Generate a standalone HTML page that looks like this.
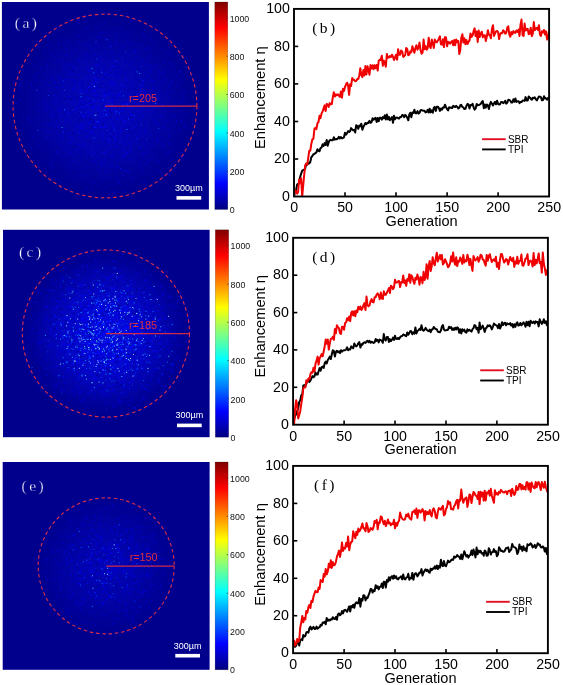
<!DOCTYPE html>
<html><head><meta charset="utf-8"><title>Figure</title>
<style>
html,body{margin:0;padding:0;background:#fff;}
body{width:563px;height:685px;overflow:hidden;}
svg{display:block;}
text{font-family:"Liberation Sans", Arial, sans-serif;}
.tk{font-size:14.2px;fill:#000;}
.ax{font-size:14.2px;fill:#000;}
.cb{font-size:8.8px;fill:#111;}
.lg{font-size:10px;fill:#000;}
.pl{font-family:"Liberation Serif", "Times New Roman", serif;font-size:15.5px;letter-spacing:2.5px;}
.rt{font-size:10.8px;fill:#e22c3c;}
.sb{font-size:9px;fill:#fff;}
</style></head><body>
<svg width="563" height="685" viewBox="0 0 563 685">
<defs>
<linearGradient id="jet" x1="0" y1="0" x2="0" y2="1"><stop offset="0.00%" stop-color="#800000"/><stop offset="3.12%" stop-color="#9f0000"/><stop offset="6.25%" stop-color="#bf0000"/><stop offset="9.38%" stop-color="#df0000"/><stop offset="12.50%" stop-color="#ff0000"/><stop offset="15.62%" stop-color="#ff2000"/><stop offset="18.75%" stop-color="#ff4000"/><stop offset="21.88%" stop-color="#ff6000"/><stop offset="25.00%" stop-color="#ff8000"/><stop offset="28.12%" stop-color="#ff9f00"/><stop offset="31.25%" stop-color="#ffbf00"/><stop offset="34.38%" stop-color="#ffdf00"/><stop offset="37.50%" stop-color="#ffff00"/><stop offset="40.62%" stop-color="#dfff20"/><stop offset="43.75%" stop-color="#bfff40"/><stop offset="46.88%" stop-color="#9fff60"/><stop offset="50.00%" stop-color="#80ff80"/><stop offset="53.12%" stop-color="#60ff9f"/><stop offset="56.25%" stop-color="#40ffbf"/><stop offset="59.38%" stop-color="#20ffdf"/><stop offset="62.50%" stop-color="#00ffff"/><stop offset="65.62%" stop-color="#00dfff"/><stop offset="68.75%" stop-color="#00bfff"/><stop offset="71.88%" stop-color="#009fff"/><stop offset="75.00%" stop-color="#0080ff"/><stop offset="78.12%" stop-color="#0060ff"/><stop offset="81.25%" stop-color="#0040ff"/><stop offset="84.38%" stop-color="#0020ff"/><stop offset="87.50%" stop-color="#0000ff"/><stop offset="90.62%" stop-color="#0000df"/><stop offset="93.75%" stop-color="#0000bf"/><stop offset="96.88%" stop-color="#00009f"/><stop offset="100.00%" stop-color="#000080"/></linearGradient>
<filter id="bl" x="-5%" y="-5%" width="110%" height="110%"><feGaussianBlur stdDeviation="0.45"/></filter>
<radialGradient id="ga" gradientUnits="userSpaceOnUse" cx="105.0" cy="106.0" r="99.3"><stop offset="0" stop-color="#0507bb"/><stop offset="0.45" stop-color="#0304aa"/><stop offset="0.85" stop-color="#000092"/><stop offset="1" stop-color="#00008c"/></radialGradient>
<radialGradient id="gc" gradientUnits="userSpaceOnUse" cx="105.9" cy="333.5" r="90.3"><stop offset="0" stop-color="#090ce1"/><stop offset="0.45" stop-color="#0507c2"/><stop offset="0.85" stop-color="#000092"/><stop offset="1" stop-color="#00008c"/></radialGradient>
<radialGradient id="ge" gradientUnits="userSpaceOnUse" cx="106.2" cy="565.9" r="73.4"><stop offset="0" stop-color="#0405b2"/><stop offset="0.45" stop-color="#0203a4"/><stop offset="0.85" stop-color="#000092"/><stop offset="1" stop-color="#00008c"/></radialGradient>
</defs>
<rect width="563" height="685" fill="#fff"/>
<g id="panel-a">
<rect x="1.9" y="2.0" width="207.0" height="207.5" fill="#00008c"/>
<circle cx="105.0" cy="106.0" r="99.3" fill="url(#ga)"/>
<g filter="url(#bl)" fill="none"><path stroke="#0000cc" stroke-width="1" d="M93.2,129.5h1M145.7,132.1h1M64.1,84.5h1M134.1,132.6h1M48.4,107.3h1M84.3,114.1h1M85.2,136.1h1M74.0,102.8h1M89.3,134.6h1M121.6,156.9h1M153.2,92.5h1M114.0,81.8h1M78.5,157.2h1M109.7,84.7h1M62.4,137.7h1M95.1,96.5h1M108.3,86.2h1M124.1,78.3h1M101.7,119.8h1M122.8,115.0h1M124.1,73.5h1M102.2,91.6h1M86.2,89.4h1M106.1,134.5h1M107.4,141.4h1M114.1,141.3h1M136.5,128.7h1M80.1,127.1h1M97.8,145.4h1M162.9,127.4h1M66.1,114.0h1M97.0,148.0h1M151.4,114.9h1M78.0,137.5h1M120.9,100.4h1M110.4,162.9h1M146.4,139.7h1M144.2,123.1h1M76.6,162.7h1M138.6,148.6h1M48.1,85.4h1M127.3,130.3h1M134.3,138.7h1M120.3,102.8h1M101.4,71.5h1M120.3,94.0h1M102.8,139.7h1M104.0,65.1h1M137.2,96.8h1M103.6,89.1h1M107.8,94.8h1M98.3,137.2h1M132.5,105.1h1M140.1,110.9h1M98.8,79.9h1M58.2,99.6h1M82.2,58.5h1M119.0,107.8h1M122.7,72.1h1M127.8,59.1h1M79.7,61.9h1M112.2,58.5h1M96.3,81.8h1M74.5,131.6h1M74.1,160.6h1M93.9,121.9h1M114.5,139.9h1M85.9,110.9h1M115.3,133.1h1M66.8,85.6h1M111.2,80.0h1M140.0,69.1h1M75.8,104.8h1M129.1,114.8h1M113.1,80.4h1M65.0,118.4h1M125.4,136.3h1M124.3,151.2h1M144.8,131.4h1M145.7,61.6h1M60.1,116.9h1M59.5,98.6h1M137.7,56.6h1M120.7,94.8h1M53.9,126.3h1M67.3,138.0h1M118.7,152.5h1M139.9,111.7h1M92.1,109.0h1M45.2,129.6h1M67.0,64.9h1M124.4,124.6h1M113.6,151.3h1M70.7,163.2h1M125.8,128.1h1M56.5,88.5h1M128.1,142.1h1M106.6,76.0h1M108.5,129.6h1M67.1,75.3h1M104.9,86.5h1M55.5,129.9h1M108.1,141.5h1M124.0,89.2h1M99.0,171.9h1M96.2,86.6h1M118.9,112.8h1M124.2,85.8h1M136.8,136.9h1M102.6,92.5h1M79.8,138.2h1M93.4,107.2h1M129.8,113.3h1M131.2,160.6h1M107.1,86.2h1M111.0,72.3h1M79.0,152.2h1M78.2,163.1h1M127.9,122.1h1M109.8,119.6h1M85.5,123.7h1M94.9,89.2h1M117.3,98.0h1M107.0,105.6h1M43.6,102.1h1M106.4,79.9h1M140.6,106.2h1M95.5,115.4h1M59.6,145.9h1M105.5,95.5h1M122.7,160.6h1M89.7,107.7h1M69.0,75.9h1M150.3,91.6h1M95.9,138.2h1M147.7,134.5h1M115.5,100.6h1M63.3,83.3h1M100.7,62.8h1M89.5,136.8h1M113.6,51.6h1M85.0,82.9h1M109.6,86.3h1M69.4,106.8h1M113.2,72.0h1M116.3,96.6h1M88.7,116.9h1M127.1,108.3h1M145.7,114.4h1M120.9,45.3h1M152.6,88.9h1M95.8,90.2h1M133.4,105.6h1M81.2,81.5h1M120.2,142.5h1M101.7,136.9h1M70.2,80.0h1M119.7,91.4h1M99.0,81.2h1M108.3,107.5h1M67.1,152.0h1M115.0,155.8h1M95.3,99.3h1M130.2,127.0h1M93.9,103.4h1M82.9,85.9h1M125.2,73.2h1M95.1,111.3h1M100.9,79.1h1M94.3,103.9h1M137.5,116.3h1M83.3,104.3h1M133.9,123.8h1M142.6,156.3h1M102.6,94.8h1M109.9,91.4h1M104.5,125.8h1M95.1,149.9h1M82.9,107.7h1M118.4,167.7h1M92.1,134.4h1M81.8,83.9h1M113.7,72.0h1M132.1,86.4h1M87.0,120.2h1M144.6,154.5h1M98.2,73.5h1M93.2,50.9h1M142.0,93.9h1M79.9,68.7h1M54.7,115.5h1M100.1,115.3h1M63.9,124.3h1M157.6,96.8h1M81.2,96.6h1M108.3,137.9h1M76.6,103.0h1M75.0,111.4h1M131.8,140.7h1M61.3,107.2h1M98.3,146.8h1M89.7,119.4h1M81.0,145.4h1M129.4,69.9h1M89.7,68.8h1M68.2,108.6h1M66.4,75.6h1M51.4,132.6h1M82.2,109.9h1M109.7,95.0h1M103.2,133.5h1M143.6,152.9h1M79.6,92.5h1M138.7,99.4h1M127.1,103.4h1M56.6,101.6h1M75.1,121.8h1M139.2,79.6h1M116.4,139.8h1M95.1,121.8h1M124.8,96.9h1M89.0,84.5h1M86.6,137.1h1M151.4,117.3h1M114.8,120.6h1M123.5,95.8h1M118.8,70.4h1M101.8,133.9h1M96.3,70.0h1M115.5,128.1h1M109.8,132.0h1M46.9,130.1h1M129.8,73.1h1M78.1,119.3h1M55.2,81.9h1M118.5,72.2h1M97.5,107.5h1M61.6,92.4h1M62.2,133.1h1M89.3,86.6h1M79.8,146.5h1M92.7,72.6h1M95.2,141.8h1M121.5,86.5h1M51.2,115.6h1M85.2,77.4h1M96.4,79.3h1M120.7,129.5h1M62.9,60.9h1M119.8,88.9h1M82.0,104.8h1M121.5,131.2h1M45.2,132.3h1M92.5,126.6h1M113.1,84.7h1M143.7,104.9h1M84.8,118.0h1M127.8,66.1h1M100.7,132.1h1M126.8,135.5h1M59.8,136.7h1M92.8,90.8h1M112.9,82.6h1M121.1,137.8h1M82.1,122.8h1M57.8,97.4h1M123.5,110.3h1M79.7,102.1h1M77.0,125.5h1M67.7,89.4h1M95.9,126.2h1M112.9,136.5h1M96.7,108.6h1M117.6,106.7h1M86.4,92.8h1M103.3,103.0h1M116.5,94.7h1M98.0,159.1h1M79.5,104.8h1M81.9,88.1h1M80.4,124.6h1M77.2,116.1h1M48.5,124.5h1M60.2,111.3h1M96.8,127.2h1M89.5,115.9h1M98.6,62.2h1M116.4,132.8h1M106.4,81.4h1M109.0,46.2h1M92.1,70.0h1M143.2,111.4h1M80.0,92.7h1M62.1,149.7h1M133.5,139.3h1M114.1,98.2h1M93.9,117.3h1M80.7,145.4h1M86.3,76.3h1M74.6,113.5h1M44.1,106.6h1M84.4,119.9h1M138.7,149.5h1M87.9,87.0h1M82.1,93.6h1M112.2,110.6h1M133.2,87.7h1M97.3,65.6h1M100.6,78.0h1M144.7,78.4h1M163.8,114.5h1M47.5,110.1h1M79.2,84.6h1M104.3,126.8h1M135.0,136.0h1M88.4,70.5h1M93.1,54.1h1M157.3,108.9h1M144.2,82.8h1M130.3,81.3h1M78.9,145.2h1M109.9,167.0h1M113.4,154.7h1M96.1,87.3h1M116.6,90.6h1M140.6,65.6h1M133.1,93.2h1M142.7,114.8h1M67.9,113.5h1M123.5,101.7h1M147.9,57.2h1M75.0,114.3h1M134.3,107.0h1M88.4,80.6h1M149.1,145.4h1M58.1,127.8h1M110.9,112.6h1M128.6,127.0h1M111.1,83.9h1M83.9,137.2h1M99.5,171.1h1M120.6,88.2h1M111.4,119.2h1M131.2,108.1h1M105.2,123.7h1M73.3,131.2h1M89.4,120.5h1M130.5,139.7h1M73.2,80.2h1M86.1,106.9h1M115.3,164.3h1M75.7,139.9h1M140.7,99.6h1M114.9,76.2h1M89.7,83.8h1M83.2,74.4h1M103.2,138.6h1M88.7,147.0h1M119.8,49.2h1M80.7,140.7h1M116.8,132.8h1M83.9,55.4h1M146.2,62.3h1M61.9,91.6h1M102.5,78.7h1M76.8,90.3h1M141.6,94.2h1M76.0,85.0h1M107.5,153.5h1M141.1,129.5h1M50.3,125.5h1M108.7,117.7h1M117.5,139.7h1M120.6,82.6h1M162.4,83.6h1M129.7,136.0h1M89.7,89.5h1M92.2,93.6h1M85.0,58.6h1M136.2,122.5h1M103.0,127.6h1M94.5,148.8h1M139.8,160.6h1M75.7,124.4h1M104.9,93.2h1M102.9,55.2h1M143.2,72.6h1M133.7,111.5h1M123.8,146.9h1M156.9,132.3h1M145.5,131.7h1M101.2,61.1h1M106.3,139.3h1M130.6,159.7h1M121.1,144.2h1M81.0,82.5h1M51.0,108.7h1M85.8,127.2h1M110.1,92.1h1M88.1,154.7h1M65.7,98.6h1M88.2,134.8h1M91.2,92.6h1M124.5,79.1h1M89.8,86.8h1M61.6,77.7h1M156.4,100.3h1M116.5,65.8h1M77.8,90.0h1M82.8,85.5h1M169.0,98.1h1M118.2,70.5h1M128.0,97.0h1M132.9,95.5h1M70.0,74.6h1M99.7,102.4h1M74.3,71.3h1M138.1,95.3h1M87.4,64.4h1M123.6,127.5h1M75.6,152.0h1M113.0,84.7h1M120.3,133.5h1M73.5,129.4h1M95.1,47.2h1M121.4,56.6h1M117.7,119.3h1M106.6,147.4h1M57.5,76.1h1M82.4,143.9h1M93.7,81.4h1M75.7,49.5h1M142.7,108.7h1M77.3,111.8h1M107.3,70.2h1M116.8,77.5h1M153.1,109.9h1M98.4,75.1h1M94.1,54.6h1M151.7,109.1h1M131.2,62.1h1M100.9,113.4h1M57.3,125.5h1M100.1,62.7h1M119.5,124.7h1M93.7,153.7h1M156.6,104.0h1M61.7,130.4h1M135.9,91.3h1M72.8,82.9h1M105.5,113.6h1M104.0,97.1h1M97.4,74.5h1M91.1,130.3h1M135.6,143.2h1M83.7,117.7h1M98.2,88.1h1M100.4,140.3h1M117.6,102.3h1M94.6,145.2h1M148.6,71.6h1M141.6,148.0h1M68.4,134.0h1M111.8,101.7h1M87.9,108.7h1M135.3,85.1h1M155.9,102.9h1M102.5,135.9h1M94.3,102.4h1M82.1,66.8h1M136.8,124.9h1M81.9,81.7h1M145.8,79.3h1M137.1,105.2h1M123.0,156.0h1M91.0,136.0h1M39.2,87.6h1M100.8,135.4h1M172.7,101.7h1M121.5,63.8h1M139.8,130.5h1M97.4,157.0h1M105.9,139.2h1M102.3,162.1h1M111.0,105.7h1M89.9,161.2h1M78.7,149.9h1M133.1,56.0h1M96.9,106.5h1M97.7,89.0h1M84.4,122.7h1M124.3,125.6h1M59.0,112.1h1M104.4,89.8h1M94.6,120.4h1M129.6,77.7h1M104.5,69.7h1M116.3,66.3h1M95.0,153.1h1M91.9,76.2h1M120.1,80.1h1M92.9,85.7h1M111.0,63.8h1M79.8,114.1h1M148.0,67.2h1M61.4,124.7h1M86.8,66.3h1M98.1,156.1h1M149.2,70.8h1M139.0,162.2h1M84.7,53.3h1M108.2,119.2h1M145.4,73.3h1M105.4,138.9h1M137.6,97.1h1M119.9,73.6h1M66.2,100.4h1M114.2,135.1h1M103.4,85.3h1M97.1,125.6h1M88.7,131.7h1M124.2,88.6h1M47.0,140.1h1M126.4,133.8h1M105.7,151.4h1M122.9,65.8h1M132.5,109.4h1M124.9,77.7h1M72.3,157.2h1M151.2,33.1h1M96.1,96.2h1M76.0,75.6h1M89.5,45.0h1M119.6,156.3h1M93.2,76.6h1M155.9,104.0h1M101.2,175.1h1M171.2,148.9h1M100.8,127.2h1M155.7,162.6h1M93.8,160.5h1M160.6,96.1h1M72.4,66.5h1M65.4,111.5h1M86.0,143.7h1M166.0,51.6h1M68.9,83.8h1M123.6,105.5h1M101.7,71.5h1M181.3,94.2h1M68.4,120.4h1M77.0,168.4h1M61.2,105.4h1M104.9,171.3h1M59.7,145.2h1M110.6,75.5h1M74.2,96.0h1M40.3,69.8h1M61.8,106.4h1M154.4,127.1h1M133.5,127.8h1M169.1,133.7h1M105.4,177.7h1M93.5,77.6h1M140.3,168.3h1M36.2,58.2h1M116.4,114.0h1M84.0,176.0h1M58.8,110.6h1M189.8,128.8h1M83.6,88.3h1M160.5,131.6h1M111.3,108.4h1M95.4,26.4h1M146.2,137.7h1M185.5,113.7h1M115.3,120.2h1M144.6,121.9h1M151.4,178.1h1M125.5,71.5h1M115.6,170.8h1M81.2,126.5h1M85.9,159.1h1M175.1,104.1h1M81.7,85.4h1M108.9,184.8h1M179.2,79.7h1M62.2,146.3h1M61.2,80.0h1M170.4,160.0h1M52.4,114.1h1M105.1,31.9h1M53.2,137.4h1M68.2,102.2h1M153.3,97.2h1M184.3,100.5h1"/><path stroke="#0000cc" stroke-width="1.4" d="M113.8,87.6h2M94.2,73.4h2M96.6,92.1h2M95.1,127.6h2M127.0,55.1h2M129.4,152.0h2M53.7,95.1h2M126.2,90.0h2M133.1,52.0h2M138.7,119.5h2M128.4,98.8h2M126.7,102.1h2M90.9,131.9h2M71.7,104.5h2M93.2,134.7h2M58.2,110.9h2M75.7,127.9h2M117.0,78.5h2M104.3,162.9h2M115.6,71.6h2M103.5,171.6h2M84.6,131.6h2M103.7,121.0h2M68.9,79.3h2M165.3,93.4h2M110.6,53.0h2M114.8,140.6h2M128.9,149.2h2M109.9,147.1h2M144.1,133.6h2M83.9,103.4h2M101.9,138.6h2M110.4,81.3h2M55.5,87.4h2M110.6,119.6h2M74.0,80.7h2M98.9,130.6h2M111.5,166.1h2M147.8,56.2h2M139.3,97.0h2M87.8,71.3h2M100.1,134.6h2M102.7,112.1h2M102.5,70.3h2M123.0,120.9h2M91.0,87.4h2M72.5,88.8h2M71.6,79.8h2M58.7,78.3h2M85.0,97.3h2M122.0,103.8h2M64.2,77.9h2M96.2,87.9h2M111.2,61.1h2M109.9,112.3h2M124.6,145.3h2M76.8,144.1h2M100.9,163.6h2M65.2,55.1h2M126.8,125.1h2M105.0,73.5h2M53.9,82.4h2M88.6,70.5h2M96.1,65.5h2M131.7,119.3h2M122.1,111.4h2M114.6,145.7h2M111.4,67.0h2M109.2,110.6h2M61.6,87.5h2M137.9,112.9h2M129.6,108.4h2M108.5,70.3h2M120.9,117.8h2M134.3,102.7h2M122.6,170.4h2M122.7,123.6h2M97.2,106.1h2M126.2,137.7h2M108.9,75.2h2M63.6,79.6h2M114.7,147.8h2M62.4,139.3h2M99.2,37.2h2M120.6,103.7h2M77.3,131.7h2M113.5,75.7h2M111.7,101.0h2M76.0,144.0h2M94.3,55.4h2M107.2,92.4h2M126.0,120.6h2M93.4,90.4h2M98.8,37.7h2M131.6,100.2h2M87.2,76.5h2M110.3,82.2h2M107.9,112.1h2M118.7,136.0h2M55.5,133.2h2M65.6,120.2h2M55.7,121.3h2M80.8,125.2h2M159.3,115.5h2M145.2,64.9h2M142.9,94.7h2M100.9,66.5h2M158.4,74.2h2M109.5,137.1h2M86.7,114.7h2M119.7,111.1h2M131.2,129.5h2M111.9,94.8h2M120.2,130.7h2M94.9,81.2h2M136.6,104.7h2M109.2,46.2h2M119.4,70.4h2M54.6,117.4h2M146.6,75.3h2M66.7,63.1h2M82.0,104.9h2M58.9,78.0h2M69.0,152.5h2M70.4,102.2h2M113.9,138.3h2M82.1,124.5h2M79.0,138.4h2M89.6,122.6h2M112.4,105.0h2M142.0,116.3h2M138.2,93.6h2M87.4,118.1h2M80.8,128.4h2M140.0,87.0h2M131.3,84.1h2M88.2,122.6h2M83.3,145.8h2M92.9,107.0h2M154.7,110.0h2M110.8,136.9h2M92.5,134.8h2M72.5,68.4h2M139.7,91.8h2M142.0,85.8h2M91.3,121.7h2M151.5,80.8h2M151.4,146.6h2M109.5,70.2h2M129.7,124.1h2M85.6,136.8h2M78.1,104.9h2M94.4,129.5h2M124.1,88.1h2M115.7,61.6h2M143.4,92.8h2M140.3,133.0h2M107.1,110.2h2M86.9,155.1h2M146.9,95.2h2M82.1,91.9h2M79.2,125.8h2M80.4,146.6h2M115.4,116.2h2M112.9,102.3h2M56.6,109.3h2M100.5,93.1h2M93.2,127.3h2M131.2,114.5h2M66.4,119.6h2M110.1,129.7h2M128.4,143.0h2M104.5,117.6h2M154.1,117.2h2M78.5,98.3h2M64.2,107.9h2M124.6,153.7h2M114.9,93.0h2M120.5,115.0h2M125.3,117.7h2M144.7,93.1h2M92.4,153.2h2M116.3,133.0h2M57.4,126.5h2M84.0,113.8h2M139.5,79.2h2M140.4,98.6h2M70.2,142.3h2M125.4,80.0h2M93.8,127.6h2M135.5,136.9h2M127.1,94.4h2M83.1,102.9h2M105.0,124.0h2M101.6,79.2h2M103.4,159.1h2M111.8,102.6h2M81.7,142.4h2M111.8,65.5h2M118.1,94.5h2M77.5,106.7h2M148.2,110.3h2M106.0,119.3h2M79.4,114.7h2M129.2,98.8h2M129.5,64.0h2M132.5,67.1h2M94.3,80.5h2M71.3,74.4h2M124.4,143.9h2M54.6,103.7h2M112.2,142.8h2M96.5,95.9h2M73.5,154.9h2M113.1,126.7h2M101.4,113.0h2M83.8,130.2h2M111.0,156.3h2M96.5,64.6h2M163.4,127.8h2M64.1,122.1h2M140.0,60.4h2M71.9,140.4h2M70.3,71.8h2M134.5,127.2h2M152.1,88.0h2M103.4,76.6h2M121.1,87.0h2M69.9,136.8h2M127.2,104.7h2M55.0,101.1h2M129.7,135.2h2M144.9,101.6h2M108.8,142.2h2M121.1,71.4h2M73.1,137.5h2M136.1,80.1h2M126.8,170.9h2M97.5,151.9h2M85.1,90.6h2M104.2,93.0h2M107.8,74.5h2M59.9,135.1h2M142.2,102.8h2M143.0,91.3h2M69.3,122.5h2M68.8,113.3h2M115.5,106.5h2M104.0,152.4h2M79.8,117.6h2M169.9,106.9h2M77.0,127.8h2M155.0,122.0h2M122.6,59.5h2M124.2,156.7h2M116.4,76.3h2M126.1,106.0h2"/><path stroke="#0000b2" stroke-width="1" d="M109.3,125.0h1M166.3,85.0h1M152.7,142.1h1M61.6,80.1h1M127.9,103.1h1M156.9,133.5h1M82.1,142.0h1M66.2,155.8h1M107.8,82.0h1M174.4,100.1h1M121.7,129.2h1M118.6,62.2h1M58.8,111.4h1M91.7,94.5h1M125.9,134.2h1M82.5,109.7h1M134.3,26.3h1M147.0,93.8h1M64.1,177.7h1M116.5,127.0h1M81.5,70.4h1M186.6,117.0h1M19.8,143.6h1M123.0,125.3h1M115.4,43.9h1M169.4,132.3h1M33.1,76.6h1M129.2,86.7h1M76.4,119.8h1M81.6,132.2h1M130.8,147.5h1M163.0,113.1h1M63.5,142.9h1M143.0,25.0h1M57.7,137.8h1M64.9,118.0h1M140.1,99.1h1M65.9,65.1h1M76.2,106.0h1M76.7,96.6h1M171.7,158.6h1M143.7,98.7h1M103.0,70.8h1M82.2,67.2h1M132.4,147.7h1M162.0,96.1h1M110.9,134.6h1M65.0,45.1h1M111.6,32.9h1M140.9,149.0h1M106.2,141.9h1M30.0,93.6h1M115.7,158.2h1M154.2,96.0h1M100.8,128.1h1M131.7,138.6h1M181.6,106.8h1M153.4,97.1h1M29.1,161.1h1M141.2,143.3h1M102.3,181.2h1M83.4,73.7h1M149.7,76.0h1M143.2,144.7h1M55.5,149.9h1M163.0,74.1h1M65.5,65.8h1M71.8,111.2h1M106.8,118.0h1M101.3,51.6h1M154.7,146.6h1M36.1,128.6h1M33.2,77.0h1M124.2,160.1h1M101.6,182.1h1M99.4,178.8h1M148.5,93.0h1M114.7,83.5h1M129.4,34.8h1M73.0,80.4h1M118.0,45.6h1M112.1,68.3h1M111.4,121.6h1M41.0,172.3h1M52.4,69.7h1M82.3,160.9h1M73.2,75.3h1M89.2,128.3h1M80.2,163.8h1M157.7,69.8h1M68.4,146.2h1M114.5,56.0h1M91.1,116.0h1M146.6,133.0h1M157.8,65.0h1M51.7,71.3h1M133.4,112.7h1M191.6,133.3h1M68.5,73.4h1M146.8,159.7h1M114.6,109.9h1M123.0,141.2h1M193.6,109.5h1M30.5,137.7h1M192.6,95.9h1M143.0,45.9h1M57.6,144.4h1M125.5,98.5h1M116.2,144.7h1M15.3,103.9h1M64.0,164.9h1M85.9,22.0h1M106.1,108.1h1M158.4,107.5h1M119.9,43.1h1M103.6,57.9h1M79.2,72.2h1M138.9,68.9h1M134.5,49.5h1M94.5,44.4h1M125.8,34.2h1M86.2,55.2h1M50.7,131.5h1M55.5,26.8h1M113.0,61.1h1M134.2,104.2h1M96.7,43.1h1M154.6,93.5h1M50.4,41.0h1M182.6,104.1h1M63.0,158.1h1M46.1,134.4h1M127.4,138.0h1M122.9,82.6h1M152.2,72.4h1M101.9,139.4h1M66.4,106.6h1M163.2,135.8h1M112.3,87.0h1M176.5,121.5h1M96.0,147.1h1M134.5,75.7h1M115.7,66.2h1M57.1,26.6h1M162.6,71.5h1M118.4,48.5h1M86.8,100.2h1M55.1,53.8h1M171.4,112.2h1M61.8,156.1h1M26.1,117.5h1M117.8,48.0h1M73.2,82.6h1M55.1,154.9h1M121.9,50.6h1M128.5,178.9h1M81.5,155.2h1M104.7,118.8h1M107.3,118.7h1M102.3,161.1h1M137.1,131.0h1M73.3,137.8h1M189.4,68.8h1M173.1,131.4h1M80.8,115.8h1M67.6,111.3h1M153.1,97.1h1M123.6,96.6h1M187.9,114.4h1M29.0,134.4h1M60.0,181.9h1M130.1,80.0h1M174.6,122.3h1M122.3,102.5h1M113.8,125.5h1M55.4,80.2h1M92.9,122.5h1M143.4,143.4h1M87.0,134.9h1M147.0,161.3h1M101.4,100.0h1M149.4,126.6h1M112.4,153.4h1M49.0,43.9h1M58.9,60.7h1M79.7,81.9h1M106.1,119.0h1M113.1,150.7h1M48.8,120.1h1M109.8,95.5h1M60.0,102.5h1M54.9,87.4h1M179.8,156.9h1M69.9,78.0h1M136.7,62.2h1M24.4,87.0h1M166.7,93.8h1M174.5,68.0h1M49.9,99.9h1M170.4,83.8h1M121.8,130.5h1M73.6,26.8h1M96.2,95.8h1M122.7,156.9h1M133.1,49.3h1M64.0,49.5h1M95.8,64.1h1M42.2,40.2h1M75.8,146.8h1M45.6,129.7h1M70.3,132.5h1M124.6,68.0h1M63.7,114.7h1M63.3,62.0h1M72.0,105.0h1M106.5,168.9h1M160.3,84.7h1M164.6,156.5h1M148.1,62.9h1M99.7,94.5h1M66.5,67.0h1M75.3,142.9h1M150.5,159.1h1M107.6,140.1h1M149.1,154.8h1M89.2,89.3h1M116.1,86.2h1M128.3,173.6h1M131.4,148.3h1M183.1,119.7h1M103.0,65.2h1M86.2,145.8h1M92.9,114.5h1M87.2,87.9h1M116.1,113.0h1M154.7,42.3h1M127.7,90.4h1M128.0,41.0h1M72.0,164.7h1M155.3,90.6h1M142.4,63.7h1M118.0,180.3h1M81.4,68.5h1M83.3,132.2h1M151.8,137.8h1M146.8,141.9h1M146.3,50.3h1M143.0,62.0h1M136.6,118.0h1M82.5,111.8h1M166.5,74.9h1M112.1,112.2h1M62.7,29.5h1M36.8,89.2h1M140.0,183.3h1M61.8,101.4h1M136.2,38.8h1M162.6,118.5h1M114.9,41.7h1M61.3,111.1h1M57.2,120.5h1M78.4,175.1h1M174.2,93.1h1M126.3,71.8h1M30.8,83.7h1M95.9,75.1h1M134.3,82.6h1M100.0,99.8h1M42.2,111.4h1M44.7,54.3h1M164.5,127.9h1M66.3,163.6h1M43.1,48.9h1M69.5,116.8h1M142.8,158.5h1M154.2,43.1h1M142.1,79.4h1M163.9,70.5h1M82.2,82.5h1M96.3,72.9h1M108.8,40.2h1M128.9,98.9h1M53.9,167.5h1M131.1,135.0h1M48.5,139.8h1M150.0,166.3h1M18.6,89.6h1M100.7,69.6h1M95.7,60.6h1M82.5,80.5h1M79.2,36.3h1M85.2,60.4h1M141.9,33.5h1M69.7,156.1h1M175.8,137.1h1M114.2,95.9h1M124.0,124.5h1M60.3,156.9h1M86.1,111.8h1M88.0,58.8h1M97.7,69.9h1M100.2,155.1h1M124.5,82.1h1M48.0,132.4h1M193.9,93.5h1M170.5,77.7h1M112.5,121.1h1M30.8,79.9h1M180.3,153.8h1M119.0,85.0h1M101.9,145.7h1M53.4,87.2h1M92.9,138.5h1M127.0,78.2h1M44.3,110.2h1M110.5,95.0h1M104.3,23.3h1M91.5,58.2h1M126.8,94.7h1M85.4,35.4h1M67.4,99.7h1M85.9,101.0h1M96.8,93.7h1M64.2,110.9h1M61.7,183.0h1M144.9,142.1h1M61.1,104.1h1M167.1,65.7h1M153.3,105.4h1M53.1,58.3h1M172.0,145.0h1M186.4,104.6h1M108.8,167.0h1M123.9,39.0h1M90.0,58.7h1M73.2,132.4h1M140.8,64.0h1M162.5,59.1h1M142.6,154.2h1M55.7,39.2h1M65.9,183.7h1M48.0,145.8h1M57.9,105.6h1M41.1,81.3h1M48.2,152.0h1M118.9,87.2h1M188.1,128.1h1M141.7,43.5h1M58.0,53.4h1M149.2,37.9h1M40.1,158.0h1M63.8,84.1h1M120.2,38.4h1M100.4,137.5h1M43.9,101.4h1M169.5,70.5h1M93.7,42.2h1M63.7,63.4h1M100.3,119.0h1M86.0,107.7h1M70.6,99.8h1M144.7,71.1h1M136.0,107.4h1M181.9,160.4h1M91.6,96.4h1M164.3,107.8h1M136.4,88.6h1M162.1,97.5h1M136.1,125.7h1M108.5,74.3h1M37.8,131.8h1M111.3,96.9h1M111.8,18.8h1M99.7,140.4h1M73.9,154.5h1M131.8,123.0h1M95.2,150.7h1M120.6,113.3h1M173.8,92.7h1M114.2,125.0h1M137.9,66.9h1M127.3,41.3h1M84.1,72.2h1M144.6,89.2h1M139.1,164.6h1M124.1,118.8h1M144.6,124.0h1M71.4,100.7h1M109.5,124.6h1M170.2,135.7h1M159.0,68.1h1M133.0,139.6h1M149.0,112.4h1M152.3,175.4h1M71.0,92.0h1M129.8,105.8h1M48.5,106.1h1M37.5,118.1h1M144.6,73.2h1M65.9,142.7h1M135.8,141.4h1M60.8,162.5h1M131.6,40.6h1M39.2,63.0h1M159.9,30.1h1M134.8,123.8h1M98.1,178.1h1M129.7,139.4h1M85.2,179.6h1M123.1,112.5h1M124.2,34.3h1M105.7,18.2h1M161.5,143.5h1M123.8,191.9h1M49.2,105.5h1M122.5,177.0h1M77.5,180.4h1M141.7,70.4h1M70.2,52.0h1M103.9,174.3h1M140.5,143.3h1M55.7,30.8h1M87.0,113.5h1M131.1,49.2h1M141.1,175.4h1M173.1,78.9h1M165.2,89.1h1M170.9,158.4h1M63.4,185.0h1M49.7,140.8h1M109.7,178.5h1M55.1,179.2h1M61.5,152.3h1M121.3,154.5h1M31.4,81.4h1M148.2,47.5h1M49.6,134.7h1M145.7,175.2h1M87.9,35.7h1M105.9,136.6h1M108.8,125.0h1M132.3,133.1h1M112.2,44.9h1M71.5,106.0h1M150.7,96.4h1M157.9,181.1h1M46.7,69.0h1M60.6,91.8h1M167.9,96.2h1M27.4,81.3h1M113.0,71.2h1M181.4,140.3h1M120.1,109.7h1M83.5,148.0h1M97.2,78.6h1M122.5,44.0h1M130.9,29.6h1M37.8,74.5h1M75.0,79.5h1M108.6,84.9h1M148.7,130.5h1M51.5,178.0h1M175.8,146.0h1M82.6,191.1h1M113.6,41.7h1M116.2,152.3h1M48.9,112.8h1M142.2,165.0h1M118.5,132.4h1M145.4,68.3h1M169.2,103.4h1M104.2,131.4h1M44.9,104.9h1M30.5,123.5h1M63.7,80.2h1M116.8,173.4h1M105.9,132.6h1M101.6,33.1h1M109.2,137.2h1M137.6,106.7h1M57.3,137.1h1M174.9,126.4h1M124.2,20.2h1M52.6,99.8h1M95.7,159.5h1M92.3,183.8h1M116.6,155.0h1M101.7,70.8h1M102.7,122.1h1M116.1,74.8h1M133.4,136.7h1M55.6,143.1h1M76.1,49.9h1M53.5,75.1h1M81.6,104.5h1M137.9,109.2h1M113.9,169.7h1M181.8,95.8h1M70.4,192.4h1M121.7,117.1h1M131.7,154.0h1M90.7,161.5h1M79.5,63.0h1M111.3,91.4h1M76.6,43.2h1M81.6,30.7h1M139.4,46.6h1M34.8,74.7h1M178.0,93.0h1M143.1,183.3h1M72.5,115.7h1M45.5,164.2h1M90.2,180.5h1M67.9,146.4h1M148.4,171.0h1M61.8,148.2h1M46.0,85.9h1M120.7,38.6h1M141.8,43.3h1M164.5,149.1h1M92.1,89.1h1M78.6,70.5h1M131.7,102.8h1M115.2,95.2h1M104.9,144.8h1M78.9,30.4h1M146.6,86.8h1M32.4,136.3h1M91.8,191.2h1M63.0,53.5h1M50.9,155.5h1M135.8,53.3h1M63.0,36.6h1M125.6,63.0h1M40.3,88.0h1M75.5,106.6h1M90.0,171.7h1M182.7,88.6h1M65.7,112.1h1M149.0,70.6h1M99.3,110.4h1M56.6,116.4h1M89.8,47.2h1M63.8,115.8h1M79.8,148.0h1M165.1,78.3h1M105.8,175.7h1M28.1,133.3h1M111.2,91.4h1M85.5,105.5h1M116.4,46.0h1M154.3,30.7h1M136.7,53.9h1M167.5,89.4h1M195.5,132.8h1M183.1,95.9h1M181.6,83.5h1M120.1,98.7h1M22.4,94.7h1M147.2,160.6h1M126.5,83.9h1M143.9,131.7h1M85.6,119.8h1M138.0,72.4h1M108.1,79.4h1M144.6,129.2h1M67.3,102.4h1M45.7,34.0h1M96.2,162.3h1M132.2,183.8h1M73.4,55.3h1M162.0,83.1h1M106.3,89.2h1M78.4,56.0h1M62.4,90.7h1M184.8,151.8h1M109.3,74.1h1M126.4,75.0h1M100.9,75.8h1M104.4,161.3h1M146.0,109.4h1M120.1,48.9h1M152.3,156.8h1M74.1,149.0h1M167.2,87.4h1M120.4,87.7h1M158.0,112.7h1M117.6,183.1h1M169.3,154.2h1M43.0,161.0h1M39.8,134.3h1M106.8,114.2h1M106.9,120.1h1M109.5,78.5h1M70.9,55.1h1M83.3,95.4h1M93.5,156.1h1M102.8,177.1h1M83.5,113.8h1M102.1,82.8h1M131.3,94.9h1M66.6,119.0h1M120.2,131.9h1M62.1,135.6h1M89.1,113.1h1M105.3,144.1h1M131.7,51.1h1M61.7,51.6h1M72.6,78.3h1M120.7,90.2h1M109.3,98.2h1M121.0,108.6h1M80.3,192.2h1M142.8,161.8h1M57.6,121.7h1M61.3,144.4h1M82.6,27.3h1M23.5,126.6h1M99.6,85.5h1M62.3,162.3h1M108.7,47.6h1M115.9,100.4h1M96.7,94.8h1M176.2,85.9h1M170.3,43.9h1M69.7,170.0h1M102.9,147.2h1M138.9,94.1h1M157.5,131.9h1M99.2,114.4h1M54.9,96.7h1M168.9,136.8h1M178.0,86.3h1M164.7,78.8h1M180.0,73.3h1M165.1,152.7h1M163.6,104.1h1M43.4,131.9h1M197.6,86.9h1M116.3,111.4h1M159.1,161.0h1M178.0,85.2h1M191.2,91.8h1M170.2,69.0h1M155.4,42.5h1M145.6,66.6h1M33.5,107.7h1M140.5,107.4h1M21.1,114.6h1M128.8,132.9h1M191.9,116.5h1M144.0,143.6h1M60.8,59.8h1M99.6,136.0h1M89.5,76.3h1M105.5,74.5h1M112.9,134.3h1M108.7,167.2h1M34.1,88.4h1M35.6,135.0h1M156.1,114.4h1M51.7,138.9h1M126.0,129.1h1M66.2,58.0h1M87.9,150.5h1M143.4,84.3h1M159.4,102.8h1M44.1,172.1h1M42.6,107.0h1M95.9,52.0h1M146.4,125.1h1M84.9,146.1h1M144.9,129.9h1M138.0,96.7h1M113.1,36.1h1M140.3,99.9h1M118.8,80.4h1M104.6,188.0h1M61.2,116.2h1M130.4,161.1h1M80.6,163.2h1M122.2,95.4h1M48.4,102.4h1M85.4,166.6h1M52.2,109.7h1M50.6,116.8h1M65.9,67.6h1M150.2,40.6h1M125.5,21.4h1M97.7,73.7h1M121.1,118.7h1M173.4,127.3h1M96.9,83.3h1M55.0,83.2h1M66.6,48.7h1M103.7,153.2h1M110.1,46.4h1M168.6,115.1h1M108.4,62.4h1M168.1,86.0h1M132.7,173.9h1M63.5,186.9h1M95.4,161.3h1M126.7,134.3h1M139.8,88.9h1M43.7,144.0h1M67.9,84.4h1M71.1,124.1h1M114.0,193.8h1M35.5,122.4h1M110.6,48.7h1M118.4,118.1h1M120.9,147.6h1M69.1,72.4h1M78.5,59.4h1M121.9,170.2h1M113.5,134.2h1M169.3,128.7h1M149.8,144.3h1M41.2,111.7h1M156.9,88.6h1M106.9,35.4h1M104.6,22.6h1M67.7,136.1h1M113.8,69.1h1M34.4,78.2h1M92.9,121.1h1M157.4,157.4h1M69.6,176.1h1M80.7,174.3h1M37.9,72.7h1M64.0,68.5h1M78.0,106.8h1M91.0,153.2h1M86.5,165.1h1M157.8,161.3h1M178.5,101.5h1M97.3,91.4h1M133.9,82.2h1M93.9,81.8h1M88.0,91.7h1M125.9,32.3h1M42.7,63.0h1M95.4,160.5h1M52.3,148.8h1M73.1,126.2h1M156.3,171.6h1M54.6,165.2h1M115.0,118.1h1M90.7,101.5h1M103.5,21.9h1M130.9,120.5h1M118.6,127.3h1M171.0,153.1h1M74.0,29.2h1M139.8,111.3h1M125.4,155.8h1M194.3,122.7h1M87.7,132.3h1M119.3,113.8h1M108.6,161.6h1M88.3,117.4h1M128.8,27.9h1M148.6,143.0h1M88.3,45.7h1M130.0,51.3h1M174.2,170.0h1M38.8,48.0h1M151.0,109.5h1M151.9,82.7h1M162.7,62.2h1M130.0,193.0h1M159.0,90.6h1M181.5,81.8h1M54.5,56.4h1M102.2,167.4h1M71.6,150.9h1M94.6,78.9h1M30.7,147.7h1M147.5,86.2h1M114.7,96.5h1M138.6,110.0h1M160.1,147.2h1M173.8,71.6h1M136.0,101.7h1M163.5,90.7h1M45.6,58.5h1M139.4,154.4h1M146.7,147.5h1M58.6,125.5h1M90.0,79.1h1M87.7,41.8h1M64.5,145.2h1M143.2,59.9h1M53.8,153.1h1M138.9,162.1h1M105.6,60.0h1M30.6,104.6h1M98.0,171.0h1M165.6,98.4h1M168.6,135.5h1M87.3,142.2h1M114.4,146.1h1M127.6,129.8h1M137.6,54.6h1M101.0,97.9h1M193.5,129.7h1M179.3,116.8h1M73.1,75.9h1M99.0,179.0h1M30.3,113.3h1M175.8,108.6h1M92.6,33.9h1M184.9,93.2h1M81.0,72.9h1M104.2,84.4h1M47.8,153.0h1M119.8,49.1h1M73.6,67.0h1M181.6,95.3h1M127.9,158.6h1M37.4,146.2h1M185.9,103.6h1M127.2,73.1h1M72.2,179.9h1M163.2,122.4h1M127.8,72.7h1M66.7,117.6h1M52.6,84.0h1M62.5,125.0h1M168.7,68.6h1M92.2,165.0h1M90.8,76.8h1M91.8,33.1h1M161.8,146.8h1M184.3,154.9h1M118.4,98.0h1M149.1,164.6h1M133.7,66.0h1M78.3,36.8h1M131.2,67.9h1M65.3,91.3h1M95.1,161.5h1M95.4,158.1h1M97.9,33.3h1M50.2,88.4h1M155.7,146.5h1M109.4,50.6h1M140.9,76.8h1M121.6,46.9h1M126.0,156.5h1M95.1,78.7h1M107.4,176.2h1M70.0,143.0h1M124.8,127.4h1M178.9,77.3h1M156.7,135.1h1M182.7,100.2h1M160.8,94.0h1M158.1,62.7h1M37.0,131.6h1M144.6,93.3h1M123.4,62.9h1M95.6,148.0h1M145.0,120.6h1M153.3,138.8h1M100.1,72.4h1M66.1,164.7h1M71.3,168.1h1M55.8,132.8h1M102.1,179.0h1M29.4,97.4h1M137.4,166.0h1M96.4,148.9h1M153.3,141.6h1M110.6,138.1h1M81.7,62.8h1M153.3,98.5h1M82.3,152.8h1M103.5,67.4h1M114.4,192.3h1M92.9,181.0h1M72.9,149.1h1M120.9,95.2h1M80.4,116.4h1M154.3,82.4h1M74.2,169.1h1M183.1,75.9h1M90.3,73.4h1M147.3,84.8h1M125.2,83.7h1M134.8,69.6h1M98.7,62.5h1M147.2,104.3h1M126.0,151.0h1M151.6,102.0h1M63.3,126.4h1M25.3,155.4h1M43.6,150.6h1M129.1,32.1h1M162.8,128.2h1M64.3,148.9h1M107.2,194.6h1M79.5,23.2h1M104.8,121.6h1M68.6,154.9h1M91.8,102.4h1M76.8,128.2h1M83.5,50.7h1M140.2,74.3h1M47.8,67.4h1M51.2,76.7h1M103.7,83.5h1M118.3,91.5h1M147.6,81.8h1M62.5,150.6h1M170.8,55.8h1M80.7,157.7h1M84.0,175.0h1M123.5,191.8h1M66.2,148.5h1M124.2,37.4h1M144.8,116.2h1M126.9,54.6h1M135.2,90.0h1M109.0,81.2h1M60.2,157.1h1M41.7,134.4h1M96.9,123.5h1M52.1,71.8h1M45.0,94.9h1M194.9,104.1h1M144.2,105.6h1M68.1,92.9h1M130.4,93.6h1M159.0,169.3h1M91.4,58.0h1M35.5,94.5h1M99.6,87.2h1M111.9,177.3h1M188.9,144.0h1M103.4,176.5h1M147.8,91.5h1M128.8,130.6h1M133.5,78.5h1M112.2,158.2h1M48.5,125.5h1M107.3,118.5h1M100.2,64.5h1M100.9,36.6h1M133.9,131.8h1M108.8,38.6h1M42.6,36.3h1M67.4,79.7h1M68.2,114.4h1M140.9,133.7h1M134.9,148.5h1M66.9,162.4h1M69.4,160.1h1M56.0,110.8h1M151.0,109.6h1M34.3,95.1h1M42.1,115.1h1M70.7,137.2h1M78.7,79.4h1M115.9,177.1h1M27.7,95.9h1M147.5,160.3h1M57.0,28.7h1M98.9,133.3h1M180.8,72.7h1M77.0,96.0h1M155.0,97.8h1M97.9,178.8h1M108.7,172.7h1M163.3,126.6h1M161.3,175.8h1M111.2,133.7h1M155.1,161.9h1M59.0,108.9h1M158.9,59.2h1M168.9,105.3h1M130.5,150.7h1M92.0,92.0h1M147.1,160.4h1M63.1,44.2h1M177.2,84.8h1M156.3,45.6h1M86.6,18.9h1M137.4,98.2h1M152.2,112.9h1M151.9,68.1h1M109.2,195.0h1M84.1,170.5h1M124.2,30.6h1M117.7,101.5h1M147.8,149.0h1M168.0,134.3h1M178.5,99.7h1M50.2,77.5h1M86.1,69.2h1M106.1,87.4h1M132.7,163.4h1M50.9,109.7h1M23.6,86.2h1M141.1,116.4h1M88.7,156.3h1M90.3,125.4h1M90.7,36.2h1M120.0,57.7h1M100.6,13.5h1M131.7,52.1h1M105.2,129.5h1M111.0,106.1h1M52.5,146.0h1M146.8,97.7h1M126.7,133.2h1M65.8,128.3h1M157.5,163.0h1M42.4,88.0h1M100.1,153.6h1M82.2,152.9h1M98.4,119.8h1M115.2,123.4h1M78.5,51.2h1M185.0,123.3h1M120.2,161.0h1M144.8,90.2h1M83.3,131.4h1M111.5,138.1h1M108.1,157.4h1M103.7,101.0h1M158.5,135.2h1M80.8,176.3h1M91.8,49.5h1M153.2,83.3h1M62.5,60.4h1M138.2,130.9h1M68.2,20.2h1M74.1,97.5h1M181.8,97.2h1M60.8,109.4h1M124.0,97.3h1M100.5,33.6h1M33.4,116.7h1M115.5,105.3h1M113.0,85.1h1M126.2,39.3h1M85.0,65.6h1M92.0,152.0h1M93.0,155.2h1M97.4,107.9h1M115.6,161.6h1M72.9,24.5h1M67.3,71.0h1M168.2,167.8h1M98.6,62.8h1M78.5,81.7h1M164.1,70.9h1"/><path stroke="#0000b2" stroke-width="1.4" d="M82.0,97.4h2M62.9,107.3h2M123.5,114.5h2M43.7,73.3h2M152.9,107.2h2M62.6,43.6h2M65.6,110.9h2M84.9,131.7h2M118.0,55.7h2M64.0,113.8h2M133.3,61.7h2M163.2,140.3h2M105.0,53.6h2M136.3,111.6h2M141.3,83.0h2M80.9,87.0h2M12.1,92.4h2M57.2,178.5h2M51.4,114.6h2M155.2,65.5h2M44.7,82.8h2M104.4,51.7h2M59.9,107.7h2M127.9,118.1h2M113.0,102.6h2M171.1,84.5h2M94.0,149.0h2M104.9,58.6h2M35.4,141.3h2M105.2,128.1h2M58.0,43.5h2M105.4,103.6h2M83.4,176.2h2M116.4,127.7h2M118.2,137.0h2M124.8,63.2h2M182.9,115.0h2M157.1,171.0h2M47.4,36.1h2M129.0,142.1h2M19.1,130.5h2M51.8,135.2h2M65.9,69.8h2M85.2,187.5h2M161.0,125.9h2M55.0,72.1h2M88.2,80.6h2M62.5,71.7h2M178.7,103.2h2M38.7,91.7h2M179.1,129.2h2M148.1,150.1h2M107.3,135.9h2M143.7,49.8h2M77.3,20.5h2M139.8,140.4h2M43.5,123.8h2M160.8,73.2h2M128.8,45.3h2M117.0,151.1h2M153.8,66.2h2M127.9,172.8h2M51.1,108.9h2M193.0,109.7h2M160.9,143.7h2M58.0,140.7h2M56.4,64.9h2M97.7,108.6h2M95.5,164.9h2M56.9,59.8h2M99.2,120.7h2M197.0,100.4h2M101.1,126.4h2M137.8,135.1h2M50.0,46.7h2M174.2,132.1h2M50.2,59.2h2M49.9,107.8h2M147.1,88.6h2M169.3,120.1h2M20.8,80.8h2M38.3,46.3h2M97.4,170.4h2M94.8,147.6h2M62.4,90.6h2M59.3,135.2h2M75.3,105.1h2M79.5,103.7h2M98.6,74.1h2M83.5,69.9h2M50.3,175.7h2M136.2,128.0h2M95.5,114.9h2M97.7,71.5h2M168.5,105.2h2M78.0,35.7h2M168.1,142.8h2M46.0,79.6h2M78.1,106.1h2M140.0,126.7h2M182.3,56.1h2M112.3,156.3h2M54.2,101.1h2M37.5,41.7h2M128.1,159.6h2M146.9,109.6h2M87.4,59.1h2M72.2,109.4h2M131.3,105.4h2M129.6,176.6h2M91.5,126.9h2M109.9,113.4h2M70.7,53.9h2M46.5,105.3h2M87.6,125.5h2M101.7,105.5h2M49.2,90.2h2M94.2,61.3h2M37.6,110.8h2M64.2,144.6h2M19.5,99.7h2M122.9,87.4h2M91.0,100.9h2M86.3,175.9h2M116.4,95.0h2M121.9,54.8h2M116.4,141.5h2M113.7,28.3h2M67.2,85.8h2M157.1,136.5h2M33.1,64.8h2M167.8,63.2h2M69.9,123.4h2M72.2,126.6h2M101.1,144.3h2M74.9,73.1h2M167.3,130.5h2M137.8,136.4h2M110.8,90.7h2M183.3,91.8h2M140.8,116.1h2M144.9,161.8h2M86.3,29.3h2M102.5,121.8h2M160.1,93.6h2M118.5,72.3h2M74.3,127.5h2M90.1,189.1h2M109.9,111.5h2M46.3,122.5h2M171.7,66.0h2M153.9,123.2h2M71.5,52.1h2M123.1,106.8h2M158.3,78.3h2M182.3,156.2h2M169.3,91.3h2M157.4,132.5h2M88.3,100.0h2M72.4,98.2h2M110.5,158.0h2M133.2,111.7h2M37.9,167.5h2M108.7,149.7h2M55.4,115.6h2M138.7,49.4h2M154.3,68.8h2M155.7,140.1h2M130.4,88.0h2M116.5,20.7h2M115.9,68.0h2M121.0,34.6h2M42.4,141.2h2M165.9,173.4h2M93.5,17.5h2M30.6,147.8h2M89.0,121.4h2M117.4,129.1h2M115.4,64.1h2M92.4,96.4h2M116.6,143.2h2M109.1,108.7h2M168.1,38.2h2M93.8,83.1h2M117.0,162.2h2M74.5,144.6h2M68.2,167.7h2M182.8,126.8h2M65.1,134.3h2M123.2,93.9h2M118.1,66.5h2M16.7,130.9h2M57.7,44.8h2M65.7,149.2h2M111.7,128.7h2M50.6,164.3h2M124.4,102.9h2M85.7,54.2h2M117.0,118.3h2M77.1,40.7h2M115.9,73.7h2M100.3,83.8h2M125.7,16.4h2M49.5,90.8h2M139.7,113.0h2M86.3,111.4h2M80.2,132.7h2M98.6,131.9h2M115.9,130.6h2M82.7,104.7h2M51.1,162.1h2M108.9,171.0h2M93.3,182.9h2M90.7,161.0h2M86.6,89.5h2M161.2,137.3h2M169.2,84.7h2M49.3,50.9h2M85.4,130.7h2M48.6,114.9h2M81.4,138.1h2M43.7,49.3h2M108.5,120.1h2M87.2,45.0h2M82.6,127.0h2M126.7,84.0h2M124.2,191.6h2M65.8,117.0h2M81.3,143.2h2M94.9,144.1h2M93.5,87.7h2M67.6,136.6h2M79.3,108.4h2M89.5,48.1h2M92.2,105.4h2M113.7,56.9h2M109.5,42.5h2M113.2,191.5h2M125.4,41.7h2M40.4,115.0h2M128.3,91.3h2M130.3,98.1h2M141.9,97.0h2M169.1,151.1h2M97.8,125.6h2M87.1,27.5h2M59.0,107.6h2M83.2,196.4h2M93.6,134.8h2M111.8,185.7h2M70.2,45.0h2M97.4,67.8h2M45.2,68.5h2M115.6,71.7h2M126.1,125.7h2M153.1,81.3h2M116.1,33.1h2M134.3,88.0h2M171.1,166.1h2M118.6,133.9h2M167.3,141.5h2M144.4,146.1h2M101.6,125.1h2M127.5,83.7h2M104.4,64.6h2M136.1,119.9h2M67.4,136.6h2M152.3,96.4h2M129.6,42.6h2M158.3,140.0h2M103.2,167.0h2M124.9,135.8h2M189.9,105.2h2M112.7,133.6h2M134.9,130.4h2M119.9,27.2h2M158.7,92.5h2M49.6,165.1h2M188.9,68.7h2M44.1,84.5h2M81.1,100.1h2M149.2,158.6h2M138.9,106.3h2M84.9,59.9h2M144.5,130.5h2M160.1,80.8h2M58.1,134.4h2M103.2,113.8h2M127.5,81.4h2M144.7,101.8h2M64.2,151.0h2M73.0,116.6h2M68.9,98.5h2M81.9,99.3h2M53.8,114.9h2M77.9,76.9h2M37.1,146.2h2M133.6,154.6h2M100.2,46.2h2M134.3,49.3h2M75.1,122.2h2M47.1,75.4h2M120.7,122.0h2M94.0,89.6h2M52.7,158.9h2M19.9,84.0h2M68.3,111.1h2M96.6,148.0h2M111.2,142.0h2M83.5,110.3h2M122.4,135.3h2M109.2,110.7h2M75.2,165.8h2M143.7,144.7h2M139.6,129.1h2M163.3,63.1h2M84.1,114.5h2M93.4,44.8h2M142.4,33.8h2M71.2,69.8h2M149.7,49.9h2M61.1,124.9h2M144.0,148.9h2M134.2,72.5h2M162.1,99.0h2M59.5,143.0h2M114.6,39.4h2M68.2,145.7h2M129.2,83.9h2M121.1,144.3h2M91.6,104.5h2M72.5,124.7h2M179.1,111.2h2M181.0,152.5h2M80.1,152.0h2M28.6,120.5h2M84.3,55.1h2M43.7,82.0h2M84.0,21.4h2M145.2,35.9h2M87.3,150.7h2M99.4,122.1h2M167.1,101.1h2M185.0,128.0h2M111.1,157.9h2M165.3,53.6h2M118.9,159.0h2M71.4,113.8h2M77.8,59.9h2M132.7,79.5h2M54.8,50.2h2M69.2,148.5h2M65.0,40.0h2M97.3,185.3h2M87.4,102.2h2M178.6,148.2h2M122.8,87.8h2M134.2,131.5h2M111.0,96.7h2M166.3,153.4h2M90.8,65.2h2M125.8,151.2h2M87.3,95.8h2M84.2,136.4h2M96.6,120.1h2M167.2,152.2h2M52.3,87.2h2M52.6,114.5h2M106.5,60.3h2M158.4,126.4h2M129.3,153.0h2M66.5,96.7h2M60.7,106.7h2M139.1,90.4h2M137.6,142.4h2M123.9,89.3h2M107.3,34.3h2M143.0,38.2h2M130.8,146.8h2M73.6,135.0h2M35.3,72.9h2M99.2,74.3h2M50.2,164.6h2M149.4,71.8h2M191.7,123.5h2M115.8,68.5h2M122.9,139.5h2M57.7,60.0h2M143.7,131.0h2M103.7,70.1h2M133.2,77.0h2M119.7,74.1h2M86.7,92.5h2M172.2,116.0h2M109.0,112.2h2M98.6,87.9h2M162.8,78.9h2M127.3,133.7h2M15.9,102.7h2M174.5,117.2h2M138.7,71.2h2M94.5,59.5h2M97.9,27.7h2M169.3,144.7h2M132.7,60.8h2M145.8,152.5h2M106.2,60.4h2M151.3,113.0h2M46.1,104.1h2M88.4,101.6h2M100.6,162.3h2M67.9,129.6h2M78.8,150.4h2M160.3,172.8h2M152.1,119.7h2M114.7,37.4h2M83.8,129.0h2M97.4,92.8h2M114.9,96.8h2M132.8,45.0h2M107.4,165.2h2M110.7,114.8h2M76.4,83.9h2M72.1,161.7h2M35.6,80.2h2M181.3,101.8h2M74.0,59.5h2M75.2,120.7h2M85.3,118.2h2M99.1,159.8h2M74.9,96.2h2M147.6,46.7h2M174.8,167.9h2M103.6,144.8h2M70.6,82.5h2M61.1,98.9h2M121.2,134.7h2M69.9,162.6h2M102.2,118.9h2M51.1,138.6h2M37.2,118.2h2M97.3,112.4h2M52.8,34.1h2M46.3,102.2h2M190.1,104.7h2M47.4,38.8h2M161.6,49.1h2M58.3,103.5h2M32.8,137.3h2M77.2,19.6h2M87.7,57.7h2M83.8,55.8h2M168.7,175.2h2M75.1,161.9h2M142.6,83.5h2M115.9,178.5h2M97.7,97.0h2M112.6,74.2h2M71.8,90.6h2M91.0,134.0h2M120.9,95.6h2M152.6,94.5h2M94.8,84.2h2M50.7,54.8h2M117.0,166.7h2M111.6,98.2h2M73.3,84.4h2M146.2,61.1h2M149.3,36.9h2M87.9,150.1h2M161.4,106.2h2M54.6,63.0h2M126.0,128.5h2M23.0,150.6h2M96.1,47.2h2M131.9,178.9h2M76.9,22.7h2M135.5,43.7h2M140.1,135.5h2M62.6,66.3h2M105.4,113.8h2M99.1,146.4h2M58.4,53.6h2M144.4,130.4h2M181.1,158.0h2M100.5,24.0h2M58.0,99.4h2M96.1,71.5h2M123.0,46.6h2M50.7,110.2h2M58.6,157.1h2M110.8,105.6h2M183.7,124.3h2M65.0,49.9h2M49.3,145.6h2M110.0,196.8h2M143.5,181.1h2M109.4,89.2h2M149.4,134.8h2M151.9,157.5h2M150.8,39.6h2M101.6,34.0h2M45.9,107.2h2M156.1,139.2h2M50.5,78.9h2M115.6,73.2h2M43.1,102.8h2M96.5,124.0h2"/><path stroke="#000099" stroke-width="1" d="M89.2,101.1h1M53.5,150.9h1M151.6,79.1h1M143.7,22.8h1M191.4,112.6h1M131.3,106.0h1M85.4,169.0h1M31.2,123.4h1M109.9,118.6h1M140.8,140.4h1M67.0,126.5h1M117.6,199.1h1M182.4,125.7h1M104.0,114.4h1M183.3,151.5h1M47.6,64.9h1M94.2,113.9h1M168.4,88.0h1M134.1,138.3h1M82.5,46.1h1M147.4,74.2h1M108.2,15.9h1M155.2,104.9h1M159.2,30.0h1M93.9,68.2h1M154.7,62.1h1M75.1,141.1h1M72.8,184.8h1M114.4,117.7h1M154.4,101.3h1M126.4,62.0h1M116.8,109.1h1M105.6,71.4h1M47.7,112.6h1M103.2,125.2h1M52.5,159.9h1M92.7,108.8h1M142.1,115.6h1M35.4,55.1h1M50.9,67.0h1M42.6,85.7h1M129.2,176.1h1M80.4,116.8h1M77.1,189.0h1M154.2,35.0h1M95.5,22.1h1M130.0,138.7h1M96.9,30.2h1M163.7,138.5h1M111.6,114.5h1M90.7,127.0h1M147.6,156.4h1M160.9,119.7h1M119.6,156.1h1M97.9,151.9h1M50.2,176.9h1M46.6,72.7h1M85.6,77.1h1M141.5,48.0h1M142.0,117.9h1M69.9,18.8h1M161.0,126.0h1M172.4,103.1h1M183.9,154.8h1M117.9,98.2h1M41.0,131.9h1M118.3,70.9h1M12.9,109.9h1M93.0,167.7h1M97.2,113.5h1M159.3,127.2h1M145.5,85.7h1M116.9,72.3h1M114.3,34.1h1M95.7,28.8h1M43.4,146.1h1M82.7,181.8h1M45.9,140.1h1M77.7,34.9h1M130.3,57.1h1M80.4,172.0h1M88.3,118.6h1M137.9,157.5h1M23.9,114.0h1M126.6,145.3h1M172.6,44.6h1M97.7,33.8h1M113.7,121.4h1M126.2,159.4h1M123.4,76.1h1M130.0,35.3h1M153.2,68.1h1M126.2,27.3h1M102.7,157.2h1M117.4,164.4h1M85.4,115.1h1M100.6,146.6h1M22.1,91.5h1M80.9,144.0h1M72.3,76.1h1M84.2,70.6h1M22.9,130.3h1M110.7,126.4h1M150.4,100.3h1M81.8,146.3h1M31.8,127.3h1M93.2,139.8h1M114.9,181.9h1M142.4,124.5h1M65.0,130.7h1M137.9,150.1h1M155.6,153.9h1M155.0,89.1h1M124.0,140.9h1M132.9,137.1h1M59.7,161.0h1M102.0,125.7h1M152.2,128.7h1M54.9,181.8h1M20.6,118.7h1M54.6,49.6h1M130.7,89.2h1M36.7,59.9h1M105.2,87.3h1M183.9,106.9h1M120.7,51.6h1M67.9,124.9h1M94.1,58.4h1M120.7,112.7h1M189.7,122.5h1M157.2,167.8h1M112.1,16.3h1M104.5,111.6h1M122.4,77.2h1M145.8,80.0h1M133.0,121.8h1M191.8,92.5h1M48.4,146.0h1M75.4,180.9h1M37.9,78.5h1M128.8,147.9h1M174.5,139.0h1M73.6,60.7h1M88.7,83.9h1M102.5,123.3h1M123.8,108.9h1M177.4,120.2h1M124.6,91.5h1M163.4,80.3h1M119.4,122.4h1M158.7,178.5h1M60.0,173.2h1M99.4,62.9h1M47.1,120.3h1M177.6,95.0h1M146.5,89.4h1M182.4,136.4h1M71.8,168.5h1M133.5,95.0h1M36.8,92.9h1M155.7,75.9h1M18.8,110.3h1M25.4,119.2h1M73.5,36.9h1M85.1,143.1h1M134.0,130.1h1M73.3,40.6h1M32.5,60.3h1M74.6,137.6h1M168.1,158.5h1M138.8,103.4h1M148.2,56.9h1M48.9,132.5h1M90.8,32.3h1M81.8,19.7h1M138.6,169.4h1M123.0,51.5h1M78.8,97.5h1M138.6,81.1h1M28.8,136.1h1M132.8,36.8h1M131.3,135.1h1M101.3,148.4h1M137.9,18.8h1M121.6,196.7h1M101.9,193.0h1M109.4,200.2h1M55.4,110.0h1M60.8,88.2h1M51.0,168.0h1M124.0,132.5h1M45.8,85.6h1M152.3,24.2h1M143.3,49.4h1M142.3,99.0h1M117.2,145.7h1M48.8,106.1h1M117.3,75.2h1M22.4,123.5h1M160.5,30.2h1M89.9,179.8h1M83.8,166.5h1M75.6,73.4h1M76.1,93.9h1M141.3,119.4h1M83.0,149.3h1M125.3,72.1h1M132.6,172.9h1M86.8,160.7h1M137.3,89.1h1M74.0,53.7h1M76.5,106.8h1M153.4,157.8h1M75.7,161.4h1M155.2,61.7h1M52.1,135.4h1M110.9,99.2h1M110.8,138.0h1M47.0,76.9h1M68.3,114.5h1M127.2,103.8h1M21.7,73.7h1M17.6,82.0h1M127.9,72.8h1M68.2,179.3h1M35.5,58.1h1M117.1,192.3h1M174.2,57.7h1M111.0,83.5h1M135.8,93.0h1M100.9,95.0h1M16.5,125.0h1M48.5,37.5h1M70.2,49.2h1M174.9,142.2h1M54.7,131.7h1M48.0,80.9h1M88.9,156.8h1M72.3,107.6h1M122.2,14.2h1M143.5,73.6h1M168.0,110.6h1M120.7,198.8h1M112.3,51.0h1M22.2,69.9h1M107.7,147.0h1M14.2,79.4h1M95.8,160.5h1M90.5,161.4h1M64.8,52.3h1M49.7,101.2h1M48.3,112.7h1M148.8,103.9h1M120.5,160.3h1M187.4,76.1h1M136.2,47.0h1M112.3,170.7h1M14.4,112.4h1M64.3,139.5h1M113.2,97.7h1M60.4,71.3h1M177.5,69.5h1M44.6,128.7h1M74.6,166.7h1M157.9,72.2h1M180.8,140.8h1M38.1,93.0h1M53.4,83.7h1M154.9,174.1h1M88.5,55.4h1M78.4,116.8h1M67.6,62.7h1M56.3,36.5h1M153.9,92.3h1M119.8,38.2h1M172.8,66.8h1M27.0,102.6h1M146.6,167.1h1M132.6,122.5h1M89.9,54.2h1M50.8,75.9h1M87.2,161.5h1M57.5,42.2h1M47.2,70.3h1M109.5,115.1h1M168.6,163.1h1M163.8,123.3h1M75.7,180.0h1M29.1,152.8h1M167.8,74.3h1M62.0,27.2h1M48.4,169.9h1M79.3,130.2h1M87.2,60.3h1M95.6,83.3h1M104.8,48.3h1M152.4,115.7h1M161.2,77.8h1M91.9,154.6h1M38.2,86.2h1M135.1,64.0h1M143.4,191.5h1M145.5,81.3h1M113.8,54.2h1M111.9,51.6h1M144.1,118.4h1M24.0,123.6h1M85.8,118.1h1M56.4,115.8h1M137.0,127.4h1M83.3,103.7h1M78.2,98.5h1M99.4,36.3h1M151.7,151.1h1M105.6,36.3h1M156.4,157.8h1M103.4,77.3h1M127.8,70.1h1M133.6,89.0h1M158.7,182.4h1M52.4,60.4h1M119.5,144.2h1M138.3,191.6h1M78.2,119.3h1M163.7,98.8h1M163.5,146.1h1M41.8,94.7h1M72.9,108.8h1M113.2,28.2h1M137.6,79.3h1M152.6,57.5h1M110.0,73.1h1M77.3,130.8h1M63.6,126.2h1M113.2,102.5h1M74.3,112.2h1M68.8,161.9h1M143.5,122.8h1M134.4,85.6h1M89.0,158.2h1M184.9,69.5h1M187.3,107.3h1M44.1,146.7h1M59.8,101.3h1M148.7,165.1h1M95.0,169.0h1M105.5,122.9h1M18.6,133.7h1M45.5,62.1h1M64.4,160.0h1M76.0,100.3h1M51.4,68.5h1M160.0,131.7h1M104.9,77.2h1M110.5,159.6h1M131.1,30.1h1M114.8,123.7h1M104.5,140.7h1M192.7,113.6h1M107.5,184.7h1M39.4,74.4h1M122.6,69.8h1M139.2,64.7h1M182.0,145.7h1M109.9,112.6h1M76.3,166.4h1M88.6,63.6h1M153.4,117.0h1M96.3,74.5h1M125.2,135.3h1M167.8,88.3h1M104.9,174.7h1M54.7,31.8h1M173.9,161.4h1M107.9,39.0h1M184.1,157.4h1M131.7,152.7h1M14.8,102.1h1M157.3,47.5h1M45.0,155.3h1"/><path stroke="#000099" stroke-width="1.4" d="M135.8,149.5h2M139.8,151.8h2M98.9,87.1h2M117.6,105.6h2M192.0,96.1h2M94.3,40.9h2M54.8,117.3h2M133.2,94.8h2M115.6,58.6h2M153.2,151.1h2M115.6,38.9h2M78.5,112.7h2M190.2,126.8h2M114.5,51.8h2M144.4,176.3h2M138.7,173.9h2M106.1,132.1h2M179.5,134.6h2M100.3,171.9h2M170.2,65.2h2M69.7,67.4h2M89.6,23.1h2M109.8,117.1h2M71.1,71.3h2M142.4,21.9h2M127.8,131.7h2M28.5,56.2h2M140.4,24.2h2M169.8,172.7h2M157.8,178.3h2M173.0,55.8h2M144.7,186.4h2M84.1,42.5h2M113.8,149.5h2M43.8,48.6h2M31.8,75.4h2M72.3,133.8h2M46.5,174.4h2M160.2,79.8h2M149.5,122.8h2M164.3,81.2h2M163.2,152.8h2M58.8,33.5h2M143.9,161.3h2M65.3,184.7h2M114.1,68.4h2M62.8,77.1h2M123.5,37.0h2M64.4,99.4h2M116.5,65.1h2M131.5,132.5h2M101.6,26.9h2M182.9,59.2h2M180.9,109.6h2M124.2,58.9h2M56.3,65.4h2M115.1,91.3h2M99.5,15.5h2M136.2,41.8h2M44.7,33.3h2M157.6,122.7h2M89.0,32.7h2M48.8,121.2h2M132.0,45.7h2M150.4,126.8h2M127.3,89.8h2M61.2,43.7h2M114.4,154.3h2M154.2,110.3h2M33.3,102.6h2M31.6,108.8h2M100.9,186.1h2M77.3,121.1h2M110.1,137.2h2M46.2,145.9h2M102.2,118.8h2M176.2,121.9h2M110.5,196.4h2M80.6,83.5h2M177.5,116.3h2M34.1,82.6h2M118.8,90.0h2M126.5,51.4h2M74.9,116.1h2M168.2,168.9h2M72.5,71.2h2M74.3,147.5h2M64.8,60.7h2M88.3,172.0h2M173.8,140.2h2M121.6,70.7h2M93.0,120.2h2M128.2,127.4h2M73.6,42.3h2M101.6,195.1h2M67.8,146.8h2M111.6,185.6h2M32.3,60.2h2M26.0,118.9h2M101.8,107.5h2M34.3,163.5h2M89.9,119.3h2M144.8,160.8h2M181.3,91.8h2M78.0,37.8h2M164.2,88.3h2M60.3,163.7h2M26.8,126.0h2M106.5,86.4h2M46.4,142.1h2M103.4,100.6h2M110.4,130.9h2M128.2,117.4h2M137.3,81.0h2M127.1,167.4h2M38.4,161.9h2M92.4,122.6h2M23.6,74.5h2M39.1,97.7h2M170.2,144.7h2M184.1,143.4h2M101.2,111.6h2M156.4,134.3h2M105.8,45.8h2M165.0,56.9h2M105.4,91.8h2M90.6,191.5h2M99.4,180.7h2M85.2,18.2h2M155.4,122.3h2M86.7,38.9h2M89.4,140.9h2M60.4,97.0h2M123.3,30.1h2M169.5,37.3h2M88.1,156.4h2M194.4,75.8h2M88.8,181.7h2M68.9,190.1h2M153.2,131.5h2M133.6,105.2h2M58.4,157.4h2M103.8,12.7h2M144.0,84.3h2M86.7,190.5h2M148.7,140.7h2M134.6,98.1h2M53.2,28.2h2M165.3,73.9h2M127.4,194.8h2M166.7,128.0h2M109.8,72.8h2M33.8,54.5h2M85.1,132.8h2M54.8,136.4h2M118.0,168.3h2M69.7,99.0h2M54.8,185.9h2M58.2,85.9h2M159.5,150.1h2M134.4,90.5h2M108.2,90.7h2M125.8,31.7h2M79.4,118.0h2M71.5,149.1h2M121.7,150.6h2M30.0,80.7h2M92.5,129.0h2M36.0,152.1h2M117.8,44.5h2M34.4,45.2h2M148.0,107.1h2M77.0,169.9h2"/><path stroke="#0000e6" stroke-width="1" d="M91.8,92.0h1M97.6,117.7h1M128.5,112.1h1M97.9,107.6h1M102.0,132.7h1M123.6,93.1h1M129.3,93.5h1M87.8,96.3h1M123.0,109.3h1M93.2,82.1h1M91.4,107.2h1M110.6,108.3h1M101.7,97.1h1M92.6,117.1h1M127.1,109.4h1M125.4,114.8h1M86.3,131.9h1M111.2,100.9h1M100.2,109.9h1M95.7,79.2h1M117.9,122.3h1M112.3,109.1h1M92.5,114.2h1M118.9,111.8h1M97.1,83.6h1M118.5,99.2h1M122.6,96.6h1M105.7,109.9h1M84.1,107.8h1M100.9,89.9h1M92.3,102.6h1M79.3,87.8h1M79.6,100.2h1M89.3,133.1h1M131.1,121.4h1M106.6,101.9h1M93.3,107.7h1M96.4,122.3h1M90.4,112.6h1M82.3,100.7h1M114.4,105.5h1M97.9,106.3h1M102.8,107.5h1M100.4,120.8h1M81.0,114.1h1M83.5,130.4h1M103.2,120.2h1M119.6,111.2h1M109.4,137.7h1M90.0,102.8h1M91.2,76.9h1M106.9,114.0h1M87.3,92.7h1M86.5,123.9h1M113.6,116.5h1M98.3,89.3h1M111.5,84.8h1M101.3,95.7h1M79.5,96.9h1M114.0,110.5h1M99.8,121.4h1M123.3,121.0h1M110.1,124.3h1M57.4,151.2h1M132.5,89.6h1M148.6,67.7h1M79.4,92.5h1M124.5,142.3h1M88.1,122.5h1M81.7,99.6h1M19.0,91.3h1M55.5,98.0h1M69.0,133.2h1M158.5,85.7h1M99.4,163.1h1M168.6,50.8h1M158.4,71.5h1M30.8,84.5h1M119.0,182.9h1M122.3,151.0h1M41.0,129.1h1M85.2,43.8h1M153.4,66.1h1M61.7,94.5h1M90.3,103.2h1M116.2,119.3h1M164.9,81.1h1M27.5,117.7h1M78.6,74.9h1M130.8,107.9h1M122.9,175.3h1M121.6,84.6h1M79.2,101.6h1M85.7,77.8h1M88.0,112.8h1M91.7,149.4h1M175.9,74.8h1M44.3,98.1h1M67.6,119.2h1M123.1,156.1h1M69.7,64.8h1M47.3,44.9h1M157.5,161.6h1M51.0,122.3h1M83.2,91.2h1M150.1,105.5h1M87.7,125.7h1M117.5,181.1h1M74.0,90.2h1M106.6,123.1h1M141.6,172.0h1M122.4,117.7h1M94.4,126.2h1M58.4,140.4h1M114.1,136.6h1M130.6,131.1h1M144.7,128.2h1M172.5,63.8h1M52.1,102.1h1M59.6,115.0h1M98.6,33.6h1M98.6,61.9h1M167.9,86.9h1M121.1,149.8h1M95.5,121.9h1M84.6,116.7h1M31.6,86.0h1M156.0,123.5h1M97.4,65.2h1M139.1,166.2h1M120.3,127.5h1M86.6,148.6h1M107.8,90.1h1M104.7,39.3h1M140.4,90.2h1M74.3,111.0h1M142.5,115.3h1M102.3,58.4h1M85.8,69.4h1M172.6,74.8h1M157.3,123.8h1M76.4,127.5h1M138.9,147.2h1M49.4,131.8h1M65.8,154.9h1M156.7,32.1h1M126.7,62.0h1M108.5,90.7h1M41.2,67.5h1M105.5,84.2h1M155.7,95.8h1M95.2,91.0h1M111.7,115.3h1M94.0,90.1h1M133.9,104.0h1M85.2,61.5h1M25.9,83.6h1M85.6,111.7h1M23.5,71.6h1M113.7,82.6h1M62.1,83.7h1M82.6,98.1h1M72.8,87.0h1M112.6,128.5h1M100.3,119.3h1M65.9,70.5h1M52.8,117.4h1M96.3,100.5h1M152.5,98.1h1M52.0,167.9h1M118.0,91.7h1M162.8,73.7h1M96.0,36.7h1M94.8,105.8h1M58.3,87.8h1M75.4,85.3h1M67.9,41.2h1M115.1,83.4h1M46.4,64.9h1M151.2,71.8h1M93.8,107.0h1M112.1,127.0h1M130.2,144.2h1M108.9,100.5h1M167.8,136.6h1M45.7,110.3h1M115.5,110.6h1M154.8,121.5h1M169.1,54.3h1M91.5,90.4h1M51.4,75.8h1M93.8,74.8h1M56.0,153.0h1M94.6,101.2h1M107.8,131.8h1M107.1,127.6h1M165.8,121.5h1M123.7,127.1h1M146.6,48.4h1M130.2,115.3h1M119.8,119.2h1M164.0,111.8h1M58.8,81.7h1M95.2,135.5h1M100.9,70.6h1M125.0,171.3h1M132.0,20.7h1M90.2,78.9h1M58.0,153.8h1M90.9,184.1h1M50.4,113.0h1M82.3,102.7h1M122.0,156.0h1M135.2,52.2h1M87.7,55.8h1M83.1,127.3h1M84.1,106.9h1M140.3,119.8h1M133.8,116.9h1M94.4,79.6h1M147.3,75.5h1M109.6,177.6h1M96.7,107.1h1M89.6,152.0h1M117.3,62.9h1M98.6,126.2h1M123.6,150.9h1"/><path stroke="#0000e6" stroke-width="1.4" d="M87.1,107.1h2M91.0,132.3h2M118.4,95.1h2M75.3,108.0h2M81.9,116.0h2M104.9,115.5h2M91.7,109.1h2M107.7,104.4h2M111.4,123.1h2M124.6,103.3h2M92.5,83.7h2M104.6,127.0h2M106.1,104.3h2M96.7,110.1h2M105.5,114.1h2M116.4,119.4h2M87.5,112.0h2M103.9,107.2h2M130.1,115.3h2M102.9,100.1h2M111.4,84.0h2M80.8,107.6h2M100.6,127.3h2M111.1,98.9h2M97.8,122.5h2M106.9,94.4h2M86.7,98.6h2M95.6,95.6h2M101.0,116.6h2M115.8,96.1h2M95.1,78.7h2M103.9,95.8h2M114.6,112.1h2"/><path stroke="#0033ff" stroke-width="1" d="M80.5,112.3h1M141.2,124.5h1M64.0,90.3h1M62.7,80.7h1M125.3,51.5h1M113.8,129.2h1M111.3,105.0h1M72.3,109.7h1M48.0,95.5h1M123.8,121.8h1M127.1,104.1h1M94.5,127.6h1M62.9,132.2h1M114.8,60.8h1M85.6,112.2h1M134.2,115.6h1M93.0,137.6h1M101.8,111.0h1M106.5,130.7h1"/><path stroke="#50c8ff" stroke-width="1" d="M93.9,86.3h1"/><path stroke="#0019ff" stroke-width="1" d="M115.7,69.8h1M79.5,83.2h1M109.4,139.5h1M101.6,153.1h1M179.7,71.6h1M115.3,112.7h1M161.8,104.4h1M92.0,155.9h1M85.5,78.0h1M96.3,82.5h1M79.0,132.1h1M105.0,95.8h1M110.5,46.4h1M142.9,80.5h1M125.8,104.3h1M170.7,80.8h1M129.3,101.7h1M119.9,91.0h1M111.7,103.2h1M152.7,104.0h1M111.5,74.2h1M140.6,66.6h1M87.8,87.2h1M185.2,67.3h1M45.7,137.0h1M136.5,139.0h1M119.5,142.3h1M87.6,100.4h1M80.6,90.3h1M140.5,84.9h1M67.7,114.2h1M120.6,84.8h1M94.6,138.7h1M146.3,139.5h1M114.6,130.5h1M123.0,105.2h1M103.9,154.1h1M109.5,134.0h1M103.1,114.2h1M80.7,124.8h1M107.3,149.8h1M88.1,98.6h1M86.9,104.7h1M137.4,111.0h1M120.2,168.7h1M135.7,96.2h1"/><path stroke="#0000ff" stroke-width="1" d="M101.4,118.8h1M99.5,114.0h1M94.8,121.1h1M96.9,122.4h1M75.1,150.0h1M98.4,122.6h1M73.5,100.4h1M94.8,87.6h1M107.0,101.0h1M92.7,100.2h1M86.8,90.6h1M95.5,71.8h1M100.0,57.5h1M79.5,128.7h1M139.9,108.3h1M154.5,94.5h1M109.5,120.0h1M163.2,145.7h1M100.4,126.0h1M128.3,117.8h1M88.4,87.4h1M69.1,96.4h1M142.2,153.4h1M84.9,115.5h1M150.5,65.3h1M117.1,167.3h1M101.0,165.9h1M103.7,73.5h1M145.8,164.1h1M98.6,101.7h1M106.3,75.3h1M101.2,100.3h1M91.6,130.7h1M19.0,86.7h1M82.3,115.7h1M93.9,95.6h1M120.3,130.7h1M78.9,60.9h1M104.5,125.0h1M156.6,142.1h1M61.3,115.9h1M88.4,103.6h1M110.7,94.0h1M107.4,142.0h1M79.7,89.7h1M126.9,152.8h1M176.0,121.3h1M66.7,112.0h1M69.2,142.5h1M104.0,104.5h1M145.2,101.6h1M94.0,91.4h1M115.7,43.1h1M113.9,66.6h1M149.7,80.0h1M123.5,139.2h1M54.6,125.5h1M93.5,127.3h1M90.5,112.7h1M104.0,92.3h1M37.8,105.6h1M130.5,21.1h1M180.9,120.6h1M161.4,117.0h1M109.0,114.8h1M131.4,115.4h1M64.7,128.7h1M158.0,98.9h1M110.4,101.1h1M115.7,134.2h1M123.9,120.7h1M142.2,82.1h1M95.1,65.5h1"/><path stroke="#004dff" stroke-width="1" d="M106.8,39.8h1M36.2,90.4h1M95.5,41.8h1M80.9,93.5h1M119.1,113.1h1M37.5,130.5h1M158.1,128.4h1M103.1,99.9h1M116.0,111.6h1M92.7,100.2h1M104.6,110.3h1M96.2,59.2h1M128.1,118.9h1M96.8,121.5h1"/><path stroke="#0099ff" stroke-width="1" d="M80.6,96.7h1M61.5,127.5h1M139.1,73.5h1M91.4,68.5h1"/><path stroke="#0080ff" stroke-width="1" d="M105.8,114.8h1M136.7,71.9h1M126.5,129.5h1M155.1,103.7h1"/><path stroke="#0066ff" stroke-width="1" d="M93.8,115.3h1M123.1,95.8h1M93.0,72.8h1M64.1,109.6h1M101.0,72.3h1"/><path stroke="#a0e0ff" stroke-width="1" d="M95.3,115.1h1"/></g>
<circle cx="105.0" cy="106.0" r="91.9" fill="none" stroke="#dc3048" stroke-width="1.1" stroke-dasharray="3.5 2.8"/>
<line x1="105.0" y1="106.2" x2="196.9" y2="106.2" stroke="#d02a48" stroke-width="1.3"/>
<text class="rt" x="129.0" y="102.0">r=205</text>
<text class="pl" x="14.8" y="27.7" fill="#fff" stroke="#00008c" stroke-width="0.3">(a)</text>
<rect x="176.5" y="196.1" width="24.7" height="3.6" fill="#fff"/>
<text class="sb" x="188.8" y="190.9" text-anchor="middle">300µm</text>
<rect x="214.8" y="2.0" width="13.0" height="207.5" fill="url(#jet)" stroke="#000" stroke-opacity="0.35" stroke-width="0.5"/>
<text class="cb" x="229.7" y="213.1">0</text>
<line x1="226.3" y1="171.2" x2="227.8" y2="171.2" stroke="#262626" stroke-width="0.6"/><text class="cb" x="229.7" y="174.8">200</text>
<line x1="226.3" y1="132.9" x2="227.8" y2="132.9" stroke="#262626" stroke-width="0.6"/><text class="cb" x="229.7" y="136.5">400</text>
<line x1="226.3" y1="94.5" x2="227.8" y2="94.5" stroke="#262626" stroke-width="0.6"/><text class="cb" x="229.7" y="98.1">600</text>
<line x1="226.3" y1="56.2" x2="227.8" y2="56.2" stroke="#262626" stroke-width="0.6"/><text class="cb" x="229.7" y="59.8">800</text>
<line x1="226.3" y1="17.9" x2="227.8" y2="17.9" stroke="#262626" stroke-width="0.6"/><text class="cb" x="229.7" y="21.5">1000</text>
</g>
<g id="panel-c">
<rect x="3.0" y="229.8" width="206.6" height="207.4" fill="#00008c"/>
<circle cx="105.9" cy="333.5" r="90.3" fill="url(#gc)"/>
<g filter="url(#bl)" fill="none"><path stroke="#0000cc" stroke-width="1.4" d="M67.1,369.5h2M168.1,296.2h2M158.7,286.4h2M119.9,402.5h2M135.7,325.5h2M96.2,339.2h2M46.7,345.9h2M100.4,301.5h2M48.1,321.1h2M112.6,296.2h2M127.6,404.5h2M69.8,347.4h2M84.3,318.9h2M135.6,351.9h2M147.8,304.4h2M123.7,313.7h2M142.1,367.8h2M69.1,307.5h2M96.2,347.5h2M57.9,349.3h2M42.8,340.5h2M143.3,362.4h2M136.3,322.7h2M156.5,338.4h2M69.4,363.1h2M95.1,344.8h2M111.4,321.2h2M117.6,401.1h2M114.0,285.4h2M101.4,284.2h2M111.5,367.6h2M73.2,321.4h2M89.0,361.0h2M134.8,370.8h2M73.5,392.4h2M102.1,283.6h2M62.7,361.4h2M79.0,392.2h2M56.4,354.4h2M103.7,331.5h2M68.9,285.7h2M72.6,333.8h2M127.1,303.7h2M71.4,390.2h2M52.4,298.9h2M63.1,337.1h2M151.2,324.9h2M83.7,372.5h2M51.5,328.9h2M172.6,364.3h2M86.0,265.3h2M63.6,382.9h2M90.7,354.8h2M82.5,399.2h2M140.7,321.1h2M68.2,281.9h2M98.5,304.5h2M167.0,369.1h2M121.9,351.0h2M96.9,355.2h2M95.7,314.6h2M79.4,332.1h2M146.9,290.3h2M123.6,306.7h2M103.5,268.6h2M104.9,308.1h2M114.7,362.4h2M45.2,307.3h2M126.7,325.8h2M110.6,301.2h2M87.9,388.1h2M70.3,331.2h2M154.7,368.7h2M117.2,361.7h2M174.5,307.4h2M133.6,388.0h2M114.1,261.7h2M134.4,373.8h2M165.3,318.5h2M79.8,296.5h2M154.6,356.8h2M94.1,393.4h2M160.6,385.8h2M127.7,327.6h2M129.9,332.0h2M78.2,320.0h2M114.6,377.5h2M127.5,313.4h2M89.7,345.8h2M140.5,321.0h2M131.2,354.0h2M139.2,346.4h2M49.1,335.4h2M88.2,304.4h2M146.3,390.1h2M136.8,342.0h2M149.5,296.4h2M56.3,304.6h2M145.7,355.2h2M52.2,366.5h2M162.8,313.1h2M80.8,391.8h2M153.2,347.2h2M129.9,401.3h2M63.5,353.8h2M124.1,367.9h2M163.8,346.4h2M84.4,322.5h2M126.6,344.6h2M109.5,381.0h2M114.6,326.3h2M119.8,374.4h2M108.7,315.0h2M56.2,301.2h2M114.3,356.0h2M116.6,398.0h2M143.6,365.2h2M167.1,350.3h2M114.0,293.4h2M118.3,345.2h2M72.4,394.6h2M65.5,288.4h2M115.8,312.5h2M102.4,322.7h2M94.3,319.4h2M135.1,369.9h2M97.8,391.0h2M114.7,360.2h2M169.8,334.0h2M93.3,398.3h2M124.7,369.8h2M97.2,309.1h2M154.9,295.9h2M68.2,309.3h2M117.5,373.4h2M92.2,341.1h2M121.1,372.2h2M160.9,313.6h2M120.5,366.3h2M66.5,345.2h2M121.7,370.3h2M106.0,333.8h2M163.5,360.7h2M60.4,389.2h2M45.6,375.4h2M76.9,385.6h2M164.5,386.7h2M118.9,345.6h2M82.1,359.5h2M146.9,329.0h2M159.4,354.9h2M111.5,260.9h2M74.8,385.4h2M117.9,271.9h2M82.6,366.0h2M50.1,348.0h2M165.8,354.1h2M158.6,297.4h2M74.0,292.3h2M65.3,361.6h2M121.7,383.2h2M50.7,342.8h2M57.7,322.7h2M79.5,314.7h2M105.8,311.7h2M130.8,339.6h2M58.6,376.7h2M80.7,383.3h2M160.5,330.2h2M164.5,316.7h2M81.0,335.4h2M121.6,330.3h2M136.9,350.0h2M161.2,375.1h2M71.4,318.5h2M73.0,280.5h2M169.3,344.6h2M149.7,379.6h2M187.8,317.7h2M141.8,398.7h2M119.4,257.5h2M103.2,339.7h2M94.4,308.9h2M80.0,338.6h2M121.4,254.2h2M80.7,329.3h2M111.2,350.9h2M125.9,358.7h2M87.6,303.9h2M138.0,278.0h2M108.1,332.2h2M156.4,382.5h2M95.8,325.6h2M115.3,287.8h2M120.7,339.2h2M101.9,303.0h2M81.8,341.8h2M118.8,317.4h2M58.4,303.4h2M105.8,312.4h2M123.3,281.3h2M80.3,373.2h2M76.1,275.1h2M99.1,330.7h2M94.9,369.9h2M105.1,321.1h2M132.6,334.9h2M39.8,341.8h2M161.2,327.9h2M141.7,388.0h2M98.6,331.9h2M160.0,287.3h2M144.5,280.5h2M128.0,289.2h2M167.5,331.7h2M112.9,321.6h2M118.0,313.7h2M61.4,279.5h2M121.3,325.3h2M151.3,344.0h2M107.2,388.8h2M122.8,307.6h2M109.9,276.4h2M80.6,361.0h2M148.1,306.5h2M77.8,337.1h2M103.7,356.7h2M129.4,285.7h2M171.0,371.5h2M66.1,359.4h2M83.5,320.6h2M116.1,332.4h2M133.0,318.4h2M129.9,363.0h2M173.3,332.8h2M60.1,331.7h2M137.8,363.7h2M61.1,312.4h2M113.1,269.4h2M66.8,369.3h2M95.2,309.7h2M170.4,364.9h2M156.4,350.6h2M99.6,363.2h2M114.7,348.8h2M75.6,328.8h2M80.5,401.3h2M102.3,395.6h2M99.9,322.9h2M86.5,394.5h2M146.4,312.6h2M85.7,304.0h2M98.0,323.8h2M148.9,311.3h2M50.4,357.2h2M108.2,351.8h2M52.5,283.5h2M93.6,271.4h2M88.0,338.3h2M91.3,293.0h2M93.3,335.9h2M47.4,290.0h2M56.4,322.1h2M106.5,352.9h2M110.6,340.8h2M143.8,355.9h2M117.3,315.6h2M91.1,372.1h2M122.6,342.5h2M133.7,321.1h2M95.6,272.0h2M45.6,317.9h2M56.0,385.7h2M109.2,395.5h2M74.2,369.2h2M75.1,321.4h2M118.0,400.0h2M68.6,364.6h2M63.1,335.6h2M89.4,308.3h2M95.3,387.0h2M159.8,309.4h2M158.0,346.1h2M136.4,368.7h2M102.4,283.7h2M89.9,285.1h2M165.3,343.5h2M154.5,351.8h2M119.6,371.4h2M171.8,365.4h2M70.9,330.3h2M37.5,342.5h2M98.6,296.7h2M152.7,311.0h2M116.9,341.3h2M66.7,371.8h2M150.8,375.6h2M98.7,384.5h2M143.6,270.4h2M76.2,335.8h2M110.8,352.5h2M141.2,367.3h2M58.5,302.5h2M62.8,277.9h2M68.3,291.9h2M75.9,289.7h2M81.2,332.3h2M118.5,280.4h2M176.2,357.5h2M139.9,297.6h2M63.8,307.2h2M100.9,378.5h2M141.5,387.5h2M145.9,351.4h2M107.3,310.5h2M59.6,350.7h2M78.9,310.0h2M90.1,379.0h2M145.2,334.3h2M60.6,391.3h2M69.1,322.1h2M132.6,407.9h2M124.5,368.4h2M31.6,328.2h2M145.4,351.6h2M149.9,371.5h2M73.8,281.4h2M112.2,299.6h2M160.0,363.5h2M178.3,313.4h2M118.9,354.1h2M109.5,377.5h2M104.0,352.6h2M129.1,297.3h2M107.5,331.3h2M150.1,309.2h2M63.2,268.1h2M73.5,335.8h2M123.4,386.8h2M53.3,386.7h2M61.5,346.8h2M157.3,328.1h2M112.7,295.8h2M162.5,346.3h2M147.4,384.6h2M81.8,369.9h2M119.1,383.7h2M125.0,393.3h2M149.7,287.8h2M128.6,372.8h2"/><path stroke="#0000e6" stroke-width="1.4" d="M103.1,361.2h2M89.8,337.0h2M63.0,343.6h2M83.6,369.2h2M114.8,329.7h2M130.3,283.6h2M135.8,338.3h2M123.9,292.7h2M81.9,366.9h2M79.8,311.7h2M134.0,307.1h2M115.8,316.7h2M140.9,315.7h2M95.2,285.6h2M103.9,333.0h2M89.3,330.9h2M80.7,285.5h2M140.8,325.6h2M107.3,342.9h2M87.5,356.3h2M96.2,315.6h2M88.6,354.6h2M73.0,363.1h2M94.7,349.4h2M151.6,330.1h2M59.1,321.3h2M138.7,331.6h2M115.6,375.9h2M111.9,313.9h2M71.7,299.6h2M64.2,333.9h2M84.1,321.5h2M103.9,306.4h2M79.5,337.8h2M95.3,332.4h2M139.0,300.8h2M106.4,324.8h2M78.9,283.9h2M121.2,294.4h2M62.0,346.9h2M77.3,368.3h2M59.7,337.0h2M126.5,290.0h2M130.5,306.7h2M133.0,317.1h2M137.8,324.9h2M111.9,275.2h2M133.1,332.4h2M60.5,324.0h2M146.0,326.8h2M64.7,316.3h2M128.6,355.3h2M143.9,323.9h2M100.8,311.2h2M60.0,335.8h2M134.1,327.8h2M141.7,308.9h2M106.1,346.0h2M159.9,341.1h2M78.6,289.9h2M91.4,374.9h2M106.0,335.9h2M95.4,303.0h2M89.1,292.2h2M130.4,347.3h2M83.6,376.6h2M96.3,326.5h2M102.4,351.5h2M82.0,353.7h2M110.4,338.7h2M140.7,348.8h2M104.9,334.8h2M75.8,362.2h2M104.6,298.1h2M146.6,301.6h2M109.4,309.7h2M80.7,295.7h2M117.6,301.0h2M138.6,344.3h2M82.8,297.7h2M82.5,321.1h2M56.0,328.9h2M95.1,347.1h2M136.9,335.3h2M130.7,316.9h2M86.3,322.4h2M117.3,298.1h2M71.3,320.1h2M154.6,351.7h2M84.3,338.1h2M156.8,311.1h2M89.3,312.8h2M125.6,311.4h2M64.1,363.9h2M54.8,318.2h2M89.2,368.2h2M77.7,333.6h2M149.7,340.2h2M52.4,345.4h2M109.9,299.3h2M148.7,346.5h2M131.6,307.3h2M95.8,332.3h2M61.4,332.8h2M130.7,288.9h2M136.9,323.7h2M63.8,300.5h2M116.5,351.7h2M80.2,303.9h2M147.1,347.0h2M119.6,343.0h2M91.1,330.6h2M146.2,329.5h2M84.8,340.7h2M123.8,340.4h2M73.1,369.6h2M125.1,359.1h2M89.4,330.9h2M97.2,301.7h2M110.6,346.5h2M122.3,378.7h2M84.4,308.9h2M99.6,318.6h2M65.6,319.6h2M67.3,329.3h2M71.0,331.6h2M103.4,300.0h2M72.7,358.7h2M86.1,309.2h2M145.7,357.9h2M71.9,368.9h2M120.1,356.6h2M90.8,354.5h2M82.7,354.7h2M89.8,332.0h2M122.9,320.0h2M129.1,336.1h2M112.8,384.8h2M96.5,284.0h2M93.3,350.3h2M135.3,362.3h2M139.5,362.2h2M110.0,358.1h2M85.3,369.5h2M114.4,333.8h2M128.0,335.9h2M138.5,333.8h2M91.9,387.1h2M122.9,275.1h2M158.9,321.9h2M61.7,366.1h2M81.1,362.3h2M124.6,361.5h2M131.8,302.0h2M73.5,336.1h2M112.2,390.4h2M144.6,345.3h2M135.0,317.7h2M94.2,314.0h2M111.8,297.2h2M85.8,330.8h2M99.0,371.3h2M77.5,364.6h2M132.0,297.0h2M70.8,315.4h2M139.2,299.0h2M91.4,346.7h2M141.1,341.5h2M113.5,329.7h2M135.9,306.6h2M105.0,323.5h2M129.9,382.6h2M144.0,347.0h2M108.4,346.4h2M100.3,360.4h2M147.8,361.4h2M92.2,291.1h2M115.9,366.9h2M98.0,315.8h2M72.0,364.3h2M134.8,332.1h2M135.0,305.0h2M107.3,278.0h2M94.7,327.5h2M152.0,319.3h2M128.4,296.1h2M159.1,319.3h2M122.3,311.3h2M101.8,346.5h2M83.2,307.7h2M104.7,388.6h2M60.1,324.6h2M130.4,332.0h2M129.0,317.5h2M134.3,341.7h2M98.9,320.4h2M83.4,374.8h2M101.3,316.2h2M88.0,336.5h2M118.0,299.8h2M112.5,288.7h2M67.3,318.5h2M110.4,275.8h2M116.6,358.6h2M94.0,378.0h2M83.6,295.3h2M83.0,359.6h2M81.0,316.7h2M128.2,332.3h2M131.8,379.7h2M135.6,328.4h2M96.3,319.3h2M94.3,322.3h2M147.0,294.0h2M110.6,337.5h2M146.9,320.7h2M108.0,377.3h2"/><path stroke="#0000cc" stroke-width="1" d="M146.7,284.8h1M97.7,380.2h1M98.4,329.1h1M118.6,348.8h1M113.3,314.2h1M76.8,375.0h1M78.9,376.1h1M112.2,392.0h1M102.9,305.0h1M84.0,311.7h1M85.1,318.1h1M38.7,345.6h1M131.7,397.6h1M47.2,348.1h1M118.0,322.6h1M142.8,353.6h1M106.0,333.4h1M110.0,334.3h1M125.9,296.8h1M174.1,340.6h1M79.1,391.3h1M105.8,306.0h1M98.2,301.3h1M57.8,358.6h1M115.3,403.4h1M75.3,325.4h1M105.8,306.7h1M144.4,383.9h1M109.0,267.5h1M77.1,358.6h1M50.7,327.3h1M77.1,306.2h1M130.3,280.8h1M114.0,294.5h1M161.5,327.5h1M136.2,368.6h1M138.1,299.0h1M135.2,332.9h1M130.0,346.4h1M83.8,339.3h1M162.4,346.5h1M117.1,301.2h1M140.5,388.6h1M39.0,333.7h1M99.2,368.9h1M106.7,396.5h1M110.7,284.6h1M111.4,402.1h1M101.4,300.9h1M111.2,342.9h1M62.7,326.5h1M89.0,379.5h1M117.4,392.3h1M49.8,331.3h1M67.1,382.3h1M111.3,329.5h1M161.5,392.2h1M91.8,291.5h1M123.8,310.2h1M85.7,268.3h1M123.0,297.0h1M139.8,297.0h1M175.9,342.7h1M99.1,310.3h1M130.3,302.8h1M147.5,303.3h1M99.4,273.3h1M127.0,382.2h1M105.3,338.2h1M140.2,315.3h1M71.6,298.8h1M92.2,307.6h1M103.0,391.4h1M87.6,319.1h1M52.4,332.3h1M52.9,334.4h1M152.2,306.9h1M172.6,373.2h1M109.4,387.1h1M129.7,315.3h1M114.3,323.4h1M92.9,319.1h1M156.3,370.3h1M106.2,324.0h1M75.2,321.3h1M124.1,339.0h1M64.5,318.8h1M121.8,310.3h1M95.6,357.3h1M160.0,330.2h1M73.5,311.9h1M92.4,313.2h1M177.2,300.1h1M144.5,355.3h1M100.6,339.9h1M147.7,347.6h1M57.7,339.2h1M61.9,289.3h1M126.1,351.7h1M139.4,330.2h1M88.2,256.5h1M94.1,365.3h1M78.2,279.4h1M116.1,371.3h1M82.2,293.2h1M115.4,358.5h1M165.9,354.1h1M153.1,291.9h1M153.8,310.4h1M60.5,395.5h1M81.0,352.8h1M135.6,341.9h1M52.9,316.1h1M122.0,393.0h1M73.4,291.4h1M118.6,345.8h1M132.0,330.5h1M91.9,300.6h1M133.0,330.0h1M77.4,372.9h1M96.4,301.3h1M94.9,353.9h1M114.3,338.1h1M80.9,338.2h1M101.4,331.3h1M99.0,319.1h1M114.2,275.5h1M125.5,311.2h1M77.5,285.2h1M83.9,363.5h1M138.0,263.4h1M145.9,384.7h1M49.7,359.1h1M153.5,359.9h1M39.4,337.7h1M84.8,368.8h1M72.4,362.7h1M103.9,356.5h1M142.6,299.2h1M129.0,299.9h1M130.2,373.9h1M94.4,304.8h1M91.9,266.3h1M128.8,330.8h1M163.1,368.4h1M128.0,323.2h1M144.0,319.4h1M63.6,357.9h1M59.4,373.3h1M90.9,389.3h1M96.4,307.3h1M112.7,318.9h1M63.9,357.0h1M83.9,400.7h1M78.6,277.8h1M144.0,355.1h1M135.8,304.9h1M149.2,353.5h1M61.1,336.3h1M84.2,282.4h1M56.6,354.8h1M103.3,328.8h1M102.6,375.1h1M80.0,358.6h1M89.5,359.5h1M87.6,303.9h1M183.2,315.4h1M144.0,399.3h1M75.7,352.3h1M99.2,370.2h1M132.4,280.2h1M104.2,390.9h1M73.7,298.2h1M49.4,327.9h1M79.0,319.9h1M152.1,331.1h1M169.1,353.4h1M83.0,302.2h1M164.7,332.7h1M33.6,333.4h1M138.1,359.8h1M99.5,339.4h1M85.7,345.7h1M147.9,298.6h1M100.4,358.5h1M79.3,325.3h1M68.3,394.2h1M42.8,365.3h1M59.9,276.2h1M132.6,376.9h1M165.4,326.8h1M95.6,344.1h1M178.3,344.9h1M110.0,313.5h1M150.0,322.6h1M54.1,308.2h1M96.6,359.3h1M109.4,364.0h1M34.6,298.0h1M170.7,320.6h1M41.6,330.7h1M148.7,382.2h1M115.2,341.7h1M128.8,340.2h1M137.5,333.0h1M107.6,321.5h1M146.9,367.1h1M128.0,376.0h1M70.3,312.9h1M98.7,298.9h1M65.5,288.5h1M102.8,388.4h1M78.6,354.7h1M51.3,390.5h1M67.1,286.0h1M105.9,324.0h1M133.3,346.5h1M135.0,331.1h1M96.5,320.7h1M110.8,376.9h1M111.3,334.5h1M135.3,330.0h1M92.9,379.7h1M56.9,292.7h1M78.0,366.1h1M114.8,318.8h1M75.1,337.0h1M67.7,281.4h1M119.5,332.5h1M97.8,288.7h1M160.9,313.1h1M94.5,389.0h1M56.2,304.2h1M128.6,288.6h1M114.7,389.3h1M88.1,301.8h1M57.9,354.0h1M118.1,355.5h1M121.0,343.7h1M95.3,341.6h1M138.3,293.4h1M102.5,391.3h1M140.0,341.8h1M118.1,287.2h1M36.5,341.9h1M52.4,336.9h1M89.3,372.3h1M96.4,263.7h1M88.4,369.1h1M43.3,306.2h1M161.2,334.3h1M68.2,289.3h1M98.5,293.0h1M152.7,387.1h1M136.4,399.0h1M39.9,292.6h1M126.2,333.5h1M155.2,314.5h1M97.2,356.4h1M91.4,389.8h1M131.2,335.0h1M136.0,357.0h1M87.0,270.6h1M99.7,315.9h1M132.1,342.8h1M88.4,367.7h1M70.9,289.4h1M96.8,254.5h1M79.1,396.5h1M80.8,328.5h1M88.1,411.2h1M76.8,296.8h1M84.8,375.6h1M64.2,330.9h1M183.8,348.9h1M63.5,350.7h1M93.6,374.7h1M137.1,293.7h1M97.2,374.7h1M55.5,309.0h1M148.8,334.7h1M183.0,337.8h1M158.0,316.0h1M46.7,362.3h1M120.4,319.2h1M92.7,305.2h1M70.7,392.2h1M149.4,280.9h1M86.9,330.3h1M109.0,290.0h1M75.0,350.1h1M144.2,342.5h1M86.9,293.3h1M167.3,347.9h1M100.8,381.4h1M141.7,356.6h1M153.1,346.0h1M67.0,330.0h1M102.0,359.3h1M134.4,384.0h1M84.7,326.5h1M145.2,275.3h1M117.5,376.0h1M92.7,349.9h1M67.9,380.5h1M73.5,404.6h1M116.0,393.2h1M50.5,358.7h1M82.1,336.5h1M79.7,316.6h1M125.5,384.7h1M134.8,367.4h1M69.7,377.9h1M153.3,317.2h1M85.5,289.9h1M101.8,295.3h1M97.1,331.1h1M79.7,374.1h1M116.0,361.2h1M54.8,351.8h1M89.4,367.4h1M77.1,389.3h1M74.6,327.1h1M63.9,374.5h1M109.7,283.3h1M138.7,298.9h1M141.1,346.1h1M88.8,313.4h1M96.1,320.2h1M46.4,316.9h1M119.5,399.1h1M100.5,284.7h1M116.7,289.8h1M135.2,348.0h1M178.5,336.9h1M122.4,386.5h1M140.8,386.1h1M157.0,382.1h1M84.5,319.2h1M134.0,382.7h1M76.8,333.3h1M135.3,364.1h1M144.2,328.8h1M78.5,392.8h1M74.2,339.3h1M97.6,272.8h1M153.5,278.8h1M51.5,312.1h1M48.7,330.3h1M79.2,348.6h1M58.5,355.9h1M117.7,321.6h1M116.7,372.5h1M91.6,362.5h1M143.7,350.0h1M91.6,268.2h1M92.4,326.3h1M102.5,391.9h1M122.4,294.3h1M163.6,305.7h1M157.6,378.0h1M64.7,377.9h1M110.0,319.6h1M59.4,340.5h1M161.6,283.7h1M132.6,364.8h1M93.4,272.2h1M101.9,390.1h1M105.4,334.0h1M131.1,315.8h1M106.9,368.1h1M61.8,317.8h1M108.2,276.9h1M117.6,379.3h1M76.1,327.8h1M81.7,332.8h1M54.1,389.8h1M60.6,305.7h1M94.9,301.7h1M111.4,320.3h1M46.7,332.0h1M48.5,305.3h1M117.5,278.6h1M159.7,324.4h1M74.2,344.1h1M141.3,265.7h1M46.1,317.1h1M60.4,349.2h1M68.1,392.7h1M89.2,314.4h1M63.5,340.9h1M91.4,326.9h1M133.9,359.9h1M160.4,322.7h1M136.0,388.9h1M111.7,333.2h1M86.7,355.3h1M78.9,296.1h1M100.5,321.2h1M168.1,305.0h1M56.9,349.6h1M96.9,364.9h1M121.9,348.0h1M143.4,321.4h1M119.9,406.2h1M125.5,306.4h1M77.7,387.4h1M126.4,269.7h1M102.1,370.1h1M97.8,299.1h1M61.5,298.6h1M120.7,303.2h1M97.7,307.5h1M57.0,340.4h1M154.0,368.6h1M80.0,349.5h1M133.1,273.0h1M60.2,280.5h1M105.3,327.9h1M133.7,347.7h1M53.1,323.7h1M120.4,344.0h1M74.4,315.2h1M121.8,309.7h1M53.7,299.1h1M87.7,384.9h1M162.1,354.1h1M150.1,348.4h1M106.6,400.3h1M87.6,321.4h1M145.0,389.2h1M107.0,389.1h1M168.8,336.0h1M64.3,371.6h1M86.8,370.4h1M97.9,347.9h1M124.7,395.8h1M59.1,343.3h1M82.5,382.6h1M109.6,352.8h1M100.3,300.6h1M185.3,308.1h1M104.8,332.2h1M46.4,295.7h1M131.7,299.6h1M128.8,340.4h1M152.5,292.4h1M125.1,279.0h1M122.2,284.2h1M170.5,325.3h1M79.4,358.7h1M108.1,304.9h1M75.6,305.6h1M126.3,274.4h1M38.7,328.8h1M87.6,299.1h1M150.1,391.1h1M110.0,302.3h1M127.5,366.6h1M78.7,293.8h1M151.5,313.5h1M127.2,366.1h1M100.5,369.1h1M57.1,329.8h1M96.5,379.9h1M89.3,349.5h1M143.1,318.4h1M134.9,334.8h1M131.3,398.3h1M94.7,282.7h1M118.4,311.9h1M120.1,371.2h1M93.7,311.3h1M113.4,373.4h1M101.6,399.9h1M95.9,367.5h1M136.0,284.2h1M71.7,350.4h1M106.0,369.2h1M119.9,328.0h1M89.9,340.0h1M152.0,368.3h1M146.1,326.3h1M92.5,371.9h1M86.7,273.6h1M89.4,375.8h1M104.9,327.9h1M90.0,282.3h1M149.7,313.7h1M95.5,368.1h1M115.5,361.2h1M137.5,373.9h1M119.0,337.0h1M163.6,289.5h1M79.4,326.9h1M116.3,273.1h1M122.9,386.8h1M140.5,330.7h1M76.8,366.3h1M113.9,298.3h1M109.1,297.8h1M65.4,335.8h1M124.8,374.6h1M106.9,383.2h1M70.6,280.3h1M141.4,343.0h1M83.2,290.2h1M150.4,312.0h1M90.4,334.2h1M96.7,291.3h1M89.1,345.5h1M90.2,389.7h1M91.3,341.7h1M165.5,296.6h1M144.4,388.5h1M56.9,325.0h1M114.9,375.7h1M163.1,358.6h1M120.7,371.6h1M106.6,370.7h1M90.2,328.1h1M78.8,396.1h1M38.5,332.0h1M80.8,266.9h1M168.1,335.1h1M139.2,401.0h1M128.8,380.1h1M126.8,339.1h1M83.6,297.1h1M140.0,357.5h1M162.0,294.4h1M108.2,361.9h1M114.1,292.1h1M77.1,299.6h1M90.8,355.1h1M129.2,303.6h1M122.5,381.0h1M120.8,328.0h1M159.1,313.3h1M140.1,349.7h1M134.2,275.8h1M110.4,335.8h1M111.1,308.7h1M95.3,343.1h1M128.3,370.9h1M99.8,283.5h1M149.6,314.2h1M60.5,322.4h1M138.7,372.2h1M125.8,289.0h1M62.3,319.1h1M113.1,378.1h1M44.5,323.2h1M150.6,357.1h1M151.4,363.8h1M60.2,342.4h1M130.8,289.6h1M96.5,378.5h1M66.8,330.5h1M153.9,343.6h1M148.3,384.6h1M87.9,299.9h1M126.9,321.9h1M115.7,276.5h1M56.8,300.9h1M103.8,364.4h1M101.2,366.4h1M104.4,330.9h1M58.3,305.1h1M61.2,350.5h1M119.8,271.6h1M73.7,324.2h1M134.0,340.8h1M127.2,388.4h1M56.8,300.5h1M143.3,322.1h1M88.1,311.1h1M145.1,353.2h1M168.1,330.7h1M128.4,305.7h1M89.5,287.4h1M132.3,342.6h1M138.9,290.3h1M102.9,345.7h1M107.1,326.0h1M114.8,368.7h1M54.8,329.9h1M57.7,373.9h1M108.9,329.9h1M108.7,323.1h1M54.7,342.8h1M104.4,375.9h1M114.6,279.4h1M89.0,292.7h1M101.3,370.7h1M123.0,383.5h1M140.1,340.9h1M121.8,400.8h1M109.3,318.6h1M78.6,328.5h1M105.2,358.9h1M145.3,387.8h1M104.2,344.7h1M61.1,328.0h1M144.0,337.2h1M89.7,310.6h1M72.2,311.9h1M64.9,378.7h1M172.2,321.9h1M122.2,326.3h1M49.3,344.7h1M100.6,353.9h1M151.9,300.6h1M177.2,341.6h1M101.7,297.5h1M50.5,321.8h1M107.1,362.5h1M153.4,371.3h1M110.9,300.2h1M80.4,344.8h1M90.2,354.7h1M114.5,303.8h1M68.6,399.6h1M65.7,350.3h1M98.4,361.6h1M116.9,307.7h1M127.2,306.0h1M103.9,316.3h1M73.6,358.2h1M119.0,386.0h1M175.9,366.4h1M118.9,352.3h1M114.1,350.9h1M135.7,266.1h1M61.5,296.8h1M115.0,326.2h1M44.2,350.5h1M161.3,343.2h1M105.5,296.8h1M153.4,362.2h1M106.5,343.5h1M100.6,319.5h1M114.4,347.7h1M132.5,391.2h1M152.2,370.4h1M27.1,318.7h1M135.0,345.2h1M93.8,382.6h1M120.2,382.9h1M113.0,342.9h1M132.5,370.0h1M118.2,327.0h1M119.2,415.2h1M154.8,371.8h1M70.3,375.2h1M120.0,281.4h1M96.3,361.2h1M79.8,320.2h1M102.2,335.9h1M78.8,344.2h1M79.2,289.3h1M63.2,335.4h1M124.1,393.9h1M65.4,339.4h1M69.4,363.2h1M104.2,394.7h1M91.9,390.4h1M29.3,343.6h1M60.9,265.5h1M107.1,293.9h1M53.0,279.2h1M125.1,299.6h1M114.6,388.1h1M101.4,338.6h1M98.3,315.1h1M74.5,335.8h1M50.0,293.2h1M140.5,366.4h1M59.4,373.4h1M119.7,317.4h1M128.8,322.1h1M116.7,348.0h1M141.7,258.2h1M91.8,289.5h1M53.1,339.0h1M116.3,349.2h1M68.5,287.9h1M65.7,305.7h1M113.5,331.9h1M162.1,307.6h1M93.0,264.6h1M110.8,298.7h1M135.4,332.3h1M94.3,260.1h1M55.9,285.0h1M116.0,414.2h1M116.0,279.5h1M153.5,322.7h1M90.2,300.8h1M175.7,367.6h1M152.1,309.9h1"/><path stroke="#0000b2" stroke-width="1" d="M27.9,364.8h1M158.0,304.5h1M83.1,369.6h1M52.4,359.0h1M137.5,317.0h1M121.4,382.8h1M143.4,365.1h1M93.7,339.0h1M137.8,366.7h1M152.7,364.0h1M127.9,325.1h1M64.5,283.1h1M64.8,370.9h1M58.0,334.6h1M105.8,266.0h1M62.1,353.1h1M97.7,379.9h1M64.0,378.0h1M96.5,356.8h1M103.5,338.7h1M103.5,324.1h1M88.4,278.1h1M86.7,375.1h1M54.1,387.5h1M57.2,326.4h1M84.4,411.0h1M162.1,284.6h1M119.6,365.4h1M88.1,379.8h1M55.1,287.0h1M173.7,303.9h1M131.3,324.2h1M44.5,345.6h1M106.1,302.5h1M120.6,328.7h1M36.5,338.9h1M65.2,267.3h1M71.9,363.9h1M150.0,332.0h1M126.9,280.2h1M118.0,318.2h1M146.7,367.8h1M137.3,357.0h1M165.0,290.3h1M84.0,304.8h1M77.2,390.8h1M64.1,372.8h1M108.3,367.6h1M90.4,394.8h1M75.6,361.1h1M87.0,356.8h1M111.7,322.9h1M68.9,308.9h1M148.1,360.6h1M78.3,341.6h1M79.5,348.6h1M164.0,389.2h1M133.0,340.8h1M88.2,363.2h1M118.9,290.7h1M104.1,346.4h1M101.6,302.6h1M77.6,270.8h1M136.5,354.7h1M106.1,370.6h1M103.0,306.1h1M118.9,339.7h1M103.8,330.0h1M39.8,297.5h1M131.6,321.9h1M111.9,400.4h1M128.4,389.7h1M163.0,340.7h1M122.8,368.4h1M151.5,360.4h1M87.7,321.5h1M73.4,375.7h1M144.2,317.5h1M165.1,380.7h1M112.5,313.9h1M142.5,317.2h1M82.0,308.8h1M60.5,352.1h1M116.0,378.7h1M81.1,382.8h1M75.9,338.4h1M132.5,347.2h1M158.3,382.1h1M87.8,341.4h1M111.5,365.4h1M94.6,351.1h1M75.6,293.9h1M94.6,394.3h1M127.5,342.0h1M85.8,351.9h1M92.2,307.7h1M76.4,393.3h1M99.2,307.7h1M108.2,343.2h1M143.3,299.1h1M20.8,332.0h1M61.9,374.0h1M112.5,385.7h1M94.9,360.3h1M87.2,300.9h1M111.2,397.0h1M58.2,349.5h1M129.2,328.6h1M93.8,273.0h1M135.6,342.5h1M74.2,313.7h1M43.0,284.5h1M106.7,325.8h1M58.3,272.8h1M107.6,301.6h1M89.3,312.9h1M156.7,372.8h1M52.2,300.9h1M101.2,305.7h1M129.3,337.4h1M120.0,341.6h1M116.0,396.7h1M90.1,286.1h1M143.4,318.5h1M166.0,365.9h1M101.8,372.1h1M90.7,320.3h1M110.7,385.1h1M72.8,397.2h1M136.2,387.8h1M110.4,275.5h1M92.2,248.6h1M101.1,316.6h1M59.8,342.3h1M75.9,375.1h1M128.7,354.4h1M161.0,341.9h1M97.4,387.1h1M64.8,394.0h1M150.6,280.9h1M109.8,319.3h1M136.4,357.6h1M136.6,339.6h1M39.0,316.1h1M118.1,327.9h1M179.0,375.6h1M169.3,338.5h1M74.0,355.0h1M133.3,338.1h1M82.6,289.2h1M104.7,356.7h1M121.3,277.6h1M106.1,323.7h1M47.1,303.3h1M49.6,344.8h1M137.5,338.8h1M118.5,274.7h1M124.0,416.3h1M119.8,304.7h1M84.5,261.3h1M92.4,363.7h1M73.7,345.9h1M78.1,301.5h1M74.6,322.6h1M111.2,297.4h1M106.5,379.5h1M140.3,384.0h1M117.9,315.0h1M87.6,340.5h1M110.4,378.7h1M60.6,279.8h1M108.0,380.7h1M30.7,329.2h1M151.7,346.3h1M121.9,373.9h1M40.5,353.6h1M90.4,308.7h1M111.7,269.1h1M117.1,317.4h1M114.3,377.5h1M140.4,357.5h1M101.4,299.1h1M120.1,304.2h1M76.1,273.0h1M133.7,337.0h1M161.6,272.6h1M65.9,322.4h1M145.8,266.9h1M109.7,356.2h1M108.6,395.0h1M20.3,334.2h1M70.1,321.5h1M34.5,371.9h1M149.4,296.8h1M134.3,348.0h1M81.3,358.3h1M100.5,378.9h1M152.5,309.6h1M29.4,342.6h1M88.3,343.1h1M135.2,306.8h1M93.1,286.9h1M56.0,375.6h1M62.0,369.7h1M187.6,338.9h1M86.4,296.7h1M58.8,361.8h1M153.4,314.6h1M97.7,279.3h1M97.7,313.0h1M116.8,392.0h1M77.2,354.7h1M105.7,320.5h1M153.1,403.9h1M173.2,308.6h1M132.6,404.2h1M64.1,297.1h1M92.0,328.9h1M68.9,278.3h1M79.5,270.5h1M72.0,279.6h1M65.2,309.1h1M57.1,401.1h1M123.7,303.0h1M113.9,385.0h1M30.7,333.8h1M95.5,296.3h1M112.5,378.5h1M135.4,316.8h1M165.4,341.7h1M170.2,277.2h1M67.3,377.6h1M40.6,352.1h1M107.8,388.6h1M97.2,379.4h1M99.4,296.0h1M181.4,352.6h1M80.2,319.0h1M108.3,296.9h1M37.7,314.9h1M74.7,262.6h1M29.4,307.4h1M71.2,302.1h1M56.2,301.0h1M59.6,366.8h1M56.4,331.1h1M47.9,381.7h1M96.0,338.2h1M79.9,309.2h1M52.8,308.8h1M157.0,266.7h1M166.8,305.2h1M90.1,332.0h1M98.1,300.1h1M177.6,287.5h1M102.6,280.6h1M179.9,353.5h1M156.9,299.5h1M90.3,307.5h1M147.0,399.6h1M124.3,375.9h1M67.7,339.2h1M134.9,366.2h1M124.4,359.0h1M93.9,317.4h1M90.5,336.1h1M84.1,401.2h1M31.8,358.2h1M104.2,360.0h1M139.2,324.1h1M118.1,307.3h1M74.9,362.1h1M171.8,333.1h1M117.6,356.0h1M73.4,318.0h1M93.5,295.4h1M132.1,327.3h1M80.7,361.2h1M130.1,334.4h1M90.8,284.6h1M51.4,312.6h1M99.3,337.5h1M96.2,356.0h1M77.7,295.2h1M113.8,418.0h1M163.9,318.3h1M130.7,365.6h1M155.9,326.1h1M137.3,281.6h1M122.8,403.1h1M157.4,307.1h1M101.3,306.3h1M119.5,326.1h1M162.1,276.9h1M67.3,319.1h1M66.3,307.9h1M82.3,313.2h1M86.4,375.9h1M150.7,297.9h1M73.6,316.1h1M31.3,356.9h1M113.6,304.3h1M178.3,335.4h1M159.1,334.0h1M94.2,383.3h1M154.0,349.8h1M152.1,329.9h1M177.2,308.0h1M93.5,308.7h1M37.7,371.8h1M179.0,369.7h1M41.8,345.5h1M159.6,382.2h1M119.6,362.9h1M141.1,312.3h1M135.5,350.7h1M140.5,295.2h1M142.4,374.2h1M158.3,314.5h1M162.6,313.8h1M143.0,369.0h1M120.0,414.5h1M104.9,334.5h1M70.1,409.6h1M69.0,290.0h1M131.3,295.4h1M87.0,383.0h1M44.2,316.5h1M68.1,346.8h1M105.9,338.2h1M160.9,321.5h1M78.4,387.8h1M39.9,294.0h1M181.3,294.9h1M119.4,318.1h1M96.0,323.7h1M134.1,307.9h1M136.2,354.6h1M81.4,298.1h1M184.8,303.9h1M134.3,400.0h1M55.4,362.5h1M154.0,359.3h1M111.8,256.5h1M116.3,319.8h1M92.8,292.5h1M143.6,381.9h1M145.4,307.6h1M96.9,269.1h1M104.8,307.1h1M84.5,312.0h1M78.8,277.2h1M81.4,327.4h1M26.5,350.6h1M54.6,302.1h1M87.4,277.3h1M54.9,345.7h1M121.1,374.4h1M133.6,339.4h1M121.1,274.7h1M152.4,261.9h1M162.7,300.8h1M122.8,279.1h1M109.7,350.2h1M57.2,347.3h1M50.1,306.5h1M140.5,321.1h1M62.3,355.4h1M78.3,337.9h1M112.7,331.4h1M85.3,350.0h1M30.5,344.8h1M72.9,329.1h1M121.8,348.5h1M87.0,303.9h1M126.8,330.6h1M94.4,401.8h1M65.5,326.5h1M79.3,391.5h1M45.2,359.3h1M172.2,299.9h1M82.0,316.6h1M76.1,292.0h1M41.8,382.1h1M175.9,322.3h1M103.8,273.4h1M48.7,355.2h1M135.4,291.3h1M76.0,296.4h1M136.9,370.6h1M139.0,376.3h1M72.1,335.1h1M44.4,322.0h1M168.3,353.3h1M174.5,335.7h1M74.1,362.4h1M63.6,295.4h1M150.3,386.5h1M71.1,361.2h1M104.0,377.4h1M59.7,293.0h1M122.2,341.8h1M54.0,336.2h1M103.0,313.4h1M30.4,298.1h1M120.8,318.5h1M61.3,272.3h1M112.8,291.2h1M166.3,348.1h1M130.7,339.8h1M181.4,344.6h1M136.0,313.1h1M101.2,362.4h1M95.6,336.8h1M27.3,311.8h1M65.2,398.2h1M84.2,401.0h1M27.0,357.3h1M142.7,380.8h1M148.6,350.6h1M146.3,293.7h1M122.5,364.8h1M95.3,319.5h1M28.8,367.0h1M175.5,324.9h1M156.8,314.5h1M88.4,328.5h1M99.3,336.1h1M102.1,265.7h1M163.4,304.9h1M92.0,316.4h1M136.6,337.5h1M135.7,407.8h1M62.7,298.4h1M28.8,366.7h1M52.0,307.0h1M79.0,315.4h1M188.3,324.0h1M56.5,344.5h1M39.3,302.2h1M72.9,329.7h1M110.7,300.3h1M91.6,392.4h1M144.9,339.9h1M54.9,341.2h1M148.6,379.3h1M84.4,252.7h1M111.4,314.5h1M100.8,308.7h1M146.6,311.4h1M59.2,340.5h1M102.2,344.6h1M129.9,366.8h1M106.0,313.7h1M122.4,353.0h1M45.6,381.3h1M152.5,294.4h1M46.0,367.5h1M99.5,293.0h1M84.2,337.8h1M113.8,413.6h1M155.5,376.7h1M109.1,317.1h1M140.8,285.5h1M38.6,373.1h1M119.3,253.7h1M151.4,326.2h1M141.0,297.6h1M90.9,294.2h1M114.6,276.1h1M107.9,370.6h1M137.3,263.5h1M147.6,322.5h1M95.0,381.8h1M182.2,303.4h1M78.5,408.5h1M118.7,250.9h1M86.6,348.9h1M53.1,290.5h1M133.9,370.5h1M143.6,305.8h1M128.3,384.4h1M100.9,276.2h1M58.5,307.0h1M158.9,329.1h1M134.1,363.4h1M75.4,400.3h1M90.5,414.4h1M101.8,276.1h1M163.5,295.5h1M89.0,270.4h1M132.5,290.4h1M79.1,369.5h1M76.9,342.6h1M141.2,316.5h1M110.5,393.0h1M117.6,281.9h1M162.1,323.6h1M75.3,325.8h1M75.1,352.3h1M34.7,313.2h1M44.3,325.3h1M119.6,307.3h1M54.3,304.1h1M54.0,333.5h1M42.8,340.4h1M128.8,313.8h1M156.1,362.1h1M56.7,382.4h1M41.3,324.0h1M113.0,335.3h1M50.7,315.5h1M67.9,405.6h1M114.6,348.7h1M65.8,352.0h1M87.2,258.9h1M166.3,295.4h1M144.5,273.6h1M35.2,335.2h1M126.6,382.5h1M155.0,287.2h1M154.9,329.9h1M101.8,312.2h1M93.2,367.5h1M124.0,268.3h1M44.4,357.9h1M38.8,361.2h1M69.1,263.9h1M139.9,315.1h1M58.9,338.0h1M179.5,362.3h1M88.8,322.1h1M99.8,352.9h1M96.2,390.5h1M152.4,304.2h1M151.2,310.2h1M171.8,345.8h1M103.8,387.1h1M178.4,322.1h1M98.0,300.2h1M53.4,316.5h1M135.1,295.4h1M82.3,309.8h1M104.1,309.4h1M115.6,331.1h1M52.9,273.4h1M171.1,282.7h1M57.2,304.8h1M179.8,365.1h1M81.9,396.7h1M130.8,343.2h1M139.9,389.9h1M72.8,293.3h1M168.3,366.3h1M91.6,289.3h1M126.3,354.6h1M79.8,337.3h1M72.0,318.7h1M166.3,361.3h1M98.1,354.5h1M89.7,270.9h1M175.2,360.9h1M133.5,355.2h1M154.7,348.6h1M129.6,256.3h1M174.8,317.2h1M127.8,390.3h1M88.9,316.9h1M102.9,344.8h1M153.6,285.9h1M113.8,354.4h1M130.3,415.5h1M77.6,312.9h1M36.1,360.2h1M149.6,335.9h1M106.7,318.9h1M127.1,406.3h1M60.1,264.6h1M83.9,252.2h1M91.4,385.7h1M161.6,368.8h1M95.1,345.3h1M143.7,282.1h1M136.6,404.3h1M89.4,298.2h1M102.0,353.8h1M145.2,318.5h1M68.2,310.8h1M116.1,288.1h1M144.7,397.3h1M117.6,311.3h1M104.6,395.2h1M161.7,328.1h1M132.7,312.8h1M74.0,396.0h1M94.5,360.7h1M162.9,388.6h1M180.9,298.6h1M78.5,365.2h1M87.3,256.0h1M39.8,336.4h1M76.2,384.7h1M140.6,338.2h1M128.5,343.5h1M172.2,338.2h1M80.0,280.1h1M123.2,414.3h1M68.1,380.4h1M86.2,318.7h1M65.1,331.8h1M97.3,377.8h1M93.4,305.9h1M52.5,387.9h1M83.5,278.8h1M185.5,336.9h1M117.0,395.0h1M118.8,295.4h1M137.7,296.0h1M140.0,366.2h1M114.2,349.7h1M73.4,341.2h1M65.8,401.3h1M128.7,403.6h1M119.0,394.0h1M93.3,289.3h1M106.6,399.5h1M179.2,312.8h1M119.0,273.7h1M64.8,323.4h1M117.2,303.0h1M62.8,297.8h1M136.0,314.8h1M127.0,314.4h1M90.3,304.6h1M148.1,334.0h1M132.2,379.5h1M82.8,304.1h1M91.2,331.1h1M105.3,292.8h1M100.5,311.9h1M73.7,375.2h1M160.0,346.6h1M121.8,402.3h1M169.1,300.0h1M98.2,279.8h1M35.2,361.7h1M95.9,339.3h1M164.3,300.0h1M72.7,283.5h1M70.0,255.2h1M83.8,391.2h1M121.8,339.3h1M125.4,292.5h1M150.6,298.6h1M86.8,296.8h1M97.4,366.4h1M68.9,356.2h1M69.2,368.8h1M132.8,330.9h1M98.9,360.7h1M133.9,347.2h1M150.0,342.9h1M65.7,327.0h1M87.1,315.2h1M103.5,357.2h1M62.5,329.6h1M111.7,358.6h1M133.8,256.1h1M124.0,317.1h1M82.6,391.5h1M148.4,306.6h1M166.9,280.5h1M164.3,364.1h1M134.2,326.5h1M75.6,352.0h1M149.3,344.4h1M132.3,338.2h1M69.3,342.5h1M140.2,400.5h1M84.6,344.3h1M107.5,266.2h1M106.6,319.6h1M181.1,321.3h1M158.8,322.0h1M67.9,305.0h1M99.5,398.0h1M125.9,304.2h1M157.5,380.5h1M126.9,318.3h1M49.3,336.5h1M100.1,293.0h1M80.8,288.3h1M65.6,269.5h1M121.0,340.9h1M135.0,299.0h1M79.1,305.1h1M113.7,374.3h1M83.7,386.6h1M73.3,256.4h1M95.0,368.6h1M166.9,300.1h1M157.5,330.3h1M176.5,371.0h1M140.5,408.3h1M114.5,305.2h1M87.6,366.6h1M30.7,305.1h1M31.6,306.6h1M107.9,365.2h1M140.2,352.3h1M65.4,321.2h1M126.4,302.1h1M111.1,375.6h1M133.7,387.0h1M74.8,335.3h1M123.3,311.6h1M71.9,328.2h1M168.8,343.1h1M159.8,305.5h1M84.8,359.0h1M44.7,312.0h1M125.5,335.5h1M63.5,305.4h1M88.1,348.0h1M98.2,356.6h1M85.1,269.9h1M168.2,361.3h1M97.4,397.1h1M111.9,391.7h1M91.4,351.7h1M91.4,293.8h1M38.4,328.0h1M124.5,249.9h1M93.5,405.7h1M122.9,341.4h1M109.6,347.0h1M117.3,400.0h1M168.9,376.0h1M94.7,302.4h1M108.9,390.2h1M104.0,307.7h1M113.7,406.2h1M170.6,276.9h1M43.8,350.1h1M137.2,289.7h1M118.9,333.9h1M93.3,356.0h1M68.3,314.0h1M128.3,307.6h1M137.7,318.4h1M117.0,280.5h1M116.6,363.5h1M147.8,269.5h1"/><path stroke="#0000b2" stroke-width="1.4" d="M81.3,307.7h2M92.1,343.8h2M103.7,322.3h2M74.6,291.9h2M35.3,320.2h2M77.8,275.7h2M64.7,361.1h2M107.5,283.0h2M49.9,316.6h2M130.6,340.0h2M30.3,339.9h2M86.2,323.9h2M105.5,334.8h2M107.8,333.9h2M89.2,330.2h2M166.1,329.8h2M91.5,295.4h2M119.0,306.0h2M82.8,365.7h2M152.4,322.5h2M53.3,373.5h2M61.2,299.2h2M45.9,355.0h2M78.1,296.9h2M170.1,340.1h2M36.2,346.2h2M134.3,328.5h2M155.4,289.9h2M94.0,372.3h2M63.4,376.9h2M102.9,357.5h2M41.0,314.2h2M50.2,329.4h2M120.0,352.0h2M152.3,291.5h2M147.1,260.7h2M174.4,358.9h2M118.6,285.1h2M99.1,345.7h2M41.2,381.0h2M33.6,323.2h2M117.5,396.4h2M53.3,392.5h2M80.6,376.0h2M84.7,286.7h2M65.6,388.5h2M48.4,368.4h2M57.8,312.6h2M122.6,358.5h2M79.5,323.2h2M39.5,363.3h2M112.4,305.0h2M142.8,346.9h2M24.1,353.3h2M72.1,381.2h2M44.7,392.9h2M114.9,310.7h2M123.7,338.7h2M148.5,348.0h2M133.0,354.3h2M62.1,360.7h2M70.9,320.4h2M50.9,281.7h2M87.2,308.3h2M130.1,327.5h2M45.3,385.8h2M28.4,302.5h2M99.4,294.3h2M147.4,291.2h2M53.4,347.2h2M170.1,327.9h2M101.9,371.6h2M124.3,269.9h2M83.1,357.2h2M111.2,403.4h2M64.4,384.0h2M79.5,311.5h2M174.5,306.1h2M34.2,353.0h2M124.9,269.9h2M112.2,341.0h2M182.6,301.6h2M160.2,274.6h2M57.8,309.7h2M48.6,336.2h2M146.8,357.6h2M144.0,309.3h2M78.9,405.3h2M108.1,343.6h2M140.4,325.8h2M112.2,407.7h2M55.5,305.7h2M79.0,298.6h2M106.9,344.0h2M61.3,291.6h2M123.8,284.5h2M130.3,339.1h2M71.5,375.1h2M120.0,333.9h2M178.2,355.9h2M115.1,331.9h2M92.5,294.0h2M88.2,359.6h2M55.7,373.5h2M132.8,269.5h2M132.7,335.7h2M88.4,340.2h2M138.6,379.4h2M137.0,300.4h2M64.1,327.8h2M83.6,306.6h2M129.5,387.0h2M68.3,346.0h2M61.5,275.2h2M158.6,382.6h2M77.0,351.1h2M118.5,375.9h2M143.1,338.5h2M118.3,396.5h2M172.0,304.4h2M81.0,253.5h2M61.1,295.2h2M64.4,320.4h2M112.9,249.6h2M122.8,366.1h2M63.2,267.9h2M130.3,406.2h2M70.1,329.7h2M173.3,339.6h2M144.9,355.9h2M123.3,335.8h2M131.6,372.3h2M164.3,286.4h2M88.9,326.4h2M70.3,293.2h2M105.3,297.8h2M112.8,316.1h2M114.4,377.3h2M71.1,375.5h2M69.7,346.6h2M161.2,303.2h2M78.4,317.2h2M104.0,418.4h2M29.6,371.4h2M124.5,294.9h2M95.8,358.5h2M142.9,305.5h2M37.7,292.5h2M115.9,357.5h2M145.9,378.7h2M85.3,299.2h2M64.0,391.2h2M72.4,321.9h2M78.5,271.0h2M95.4,355.2h2M122.4,264.6h2M40.5,294.1h2M102.4,357.7h2M97.7,258.9h2M151.3,324.5h2M138.3,313.0h2M168.3,318.5h2M132.3,321.2h2M87.0,322.4h2M94.8,313.7h2M81.2,320.1h2M89.5,278.8h2M176.9,301.5h2M47.8,368.1h2M57.5,383.0h2M144.9,394.9h2M152.7,355.7h2M87.7,293.4h2M149.8,310.4h2M79.9,370.9h2M57.2,337.1h2M186.7,352.5h2M91.5,276.0h2M91.9,304.3h2M112.6,293.8h2M134.4,318.4h2M162.3,291.3h2M118.1,296.8h2M65.5,320.3h2M26.6,338.5h2M112.3,293.7h2M99.7,342.7h2M58.3,313.5h2M147.8,343.4h2M123.2,347.6h2M38.1,370.1h2M97.6,346.9h2M116.1,306.6h2M132.9,298.3h2M159.9,287.7h2M145.1,277.9h2M103.8,292.5h2M136.0,343.0h2M115.0,282.2h2M124.1,261.9h2M162.8,388.1h2M101.8,331.3h2M70.3,259.2h2M91.7,290.8h2M125.1,327.7h2M65.4,338.7h2M46.7,344.0h2M73.7,351.1h2M80.2,339.1h2M105.8,351.8h2M88.8,334.0h2M74.0,321.4h2M41.8,343.7h2M104.3,360.2h2M86.9,407.2h2M169.4,326.3h2M129.2,299.1h2M56.0,401.8h2M65.5,379.2h2M67.7,299.6h2M146.8,391.1h2M145.9,278.7h2M109.0,255.1h2M177.1,345.5h2M125.7,401.2h2M82.5,288.3h2M133.1,309.9h2M129.3,317.2h2M172.4,355.6h2M146.8,405.7h2M51.8,355.4h2M70.4,291.9h2M100.2,364.8h2M135.0,312.0h2M124.6,344.0h2M88.0,278.4h2M140.8,382.0h2M101.3,272.9h2M120.2,357.0h2M77.1,279.0h2M162.9,312.2h2M145.0,325.7h2M165.5,271.8h2M100.3,362.0h2M82.6,317.9h2M101.0,330.9h2M101.6,363.3h2M29.7,327.9h2M103.4,324.6h2M64.6,268.8h2M153.7,287.9h2M151.8,305.7h2M82.3,368.7h2M157.2,282.5h2M115.6,378.9h2M105.2,327.5h2M119.1,274.5h2M162.9,389.7h2M22.0,322.6h2M66.7,377.4h2M85.2,296.7h2M150.7,349.1h2M56.7,270.4h2M77.5,346.8h2M98.9,396.1h2M66.8,260.1h2M151.9,334.6h2M106.1,359.4h2M168.3,376.6h2M40.4,350.0h2M74.1,364.0h2M136.2,273.0h2M100.4,277.1h2M115.6,362.4h2M169.0,384.3h2M77.0,287.8h2M126.4,365.2h2M78.3,316.8h2M170.0,348.2h2M164.9,342.4h2M152.5,292.0h2M96.9,322.5h2M50.7,298.1h2M116.0,311.1h2M150.9,378.5h2M53.7,367.9h2M171.2,305.7h2M41.7,357.7h2M89.2,306.0h2M66.5,399.9h2M62.5,292.7h2M86.9,360.4h2M110.1,381.0h2M147.1,341.7h2M104.5,289.1h2M70.6,287.1h2M86.1,328.4h2M101.9,388.1h2M109.4,323.7h2M52.4,353.7h2M33.3,339.7h2M104.7,373.9h2M121.7,354.9h2M181.7,345.0h2M167.7,343.9h2M96.9,335.2h2M124.5,391.0h2M145.5,310.4h2M109.8,323.4h2M88.0,336.4h2M177.4,302.2h2M43.3,322.3h2M158.9,328.5h2M57.6,287.6h2M119.5,345.4h2M116.9,283.1h2M53.8,307.4h2M168.8,390.3h2M95.3,352.8h2M81.6,264.9h2M153.9,399.4h2M132.5,372.3h2M51.5,328.2h2M161.7,295.7h2M92.0,304.2h2M71.3,313.0h2M37.0,289.3h2M111.1,311.1h2M99.0,319.5h2M150.0,320.3h2M140.6,376.1h2M79.2,256.6h2M101.2,336.5h2M50.4,317.2h2M174.6,351.8h2M169.9,333.7h2M71.2,367.3h2M129.6,345.0h2M88.3,271.5h2M74.5,390.8h2M162.4,341.6h2M80.2,381.1h2M102.3,380.2h2M116.3,382.5h2M118.8,320.5h2M22.7,342.0h2M145.0,314.6h2M137.9,405.7h2M106.3,288.6h2M87.4,300.5h2M60.8,281.9h2M49.3,336.0h2M103.3,314.3h2M65.5,286.8h2M30.6,373.0h2M141.0,401.1h2M38.8,376.0h2M87.2,369.3h2M125.7,293.0h2M116.0,340.0h2M117.4,356.6h2M38.0,318.6h2M171.6,367.7h2M116.1,348.1h2M38.5,385.7h2M73.6,291.7h2M57.0,352.8h2M84.6,280.3h2M135.6,321.4h2M67.6,394.6h2M60.4,337.7h2M106.1,359.7h2M66.0,375.6h2M149.1,357.1h2M108.4,272.6h2M81.8,390.6h2M63.5,352.3h2M125.9,354.1h2M69.1,309.6h2M109.3,296.0h2M84.6,370.4h2M129.1,362.2h2"/><path stroke="#000099" stroke-width="1" d="M181.9,332.5h1M157.5,272.3h1M112.0,369.0h1M165.0,353.2h1M119.1,330.9h1M113.9,325.7h1M35.2,307.5h1M176.4,367.8h1M104.2,295.1h1M105.0,349.8h1M150.4,308.0h1M125.3,357.0h1M96.0,315.3h1M91.1,345.2h1M29.4,314.2h1M57.5,299.3h1M91.9,381.6h1M173.8,368.6h1M94.9,364.7h1M52.9,378.8h1M124.9,356.9h1M110.2,325.0h1M27.3,321.1h1M59.0,298.9h1M85.8,329.2h1M83.7,378.9h1M68.4,410.7h1M79.3,302.0h1M82.6,346.9h1M77.9,308.6h1M67.8,389.8h1M62.7,301.6h1M66.8,345.1h1M154.4,370.0h1M113.8,278.0h1M69.0,409.8h1M55.0,336.3h1M155.3,383.3h1M146.6,334.5h1M111.0,418.9h1M111.0,341.5h1M40.2,388.6h1M43.6,357.4h1M70.9,299.2h1M74.0,329.7h1M170.5,289.2h1M163.1,276.3h1M137.1,294.3h1M57.4,350.3h1M133.5,372.7h1M123.2,310.7h1M74.2,304.8h1M81.0,289.1h1M171.3,324.3h1M91.3,317.7h1M103.7,379.6h1M109.8,284.4h1M68.8,403.8h1M94.4,248.5h1M137.9,262.8h1M99.3,375.6h1M99.1,358.6h1M153.2,294.3h1M41.4,374.8h1M29.7,318.8h1M120.4,370.6h1M108.0,291.0h1M137.4,312.8h1M177.3,356.7h1M138.1,365.0h1M59.8,328.3h1M63.9,355.1h1M61.4,299.2h1M64.8,333.8h1M59.0,338.3h1M162.3,302.8h1M41.1,375.7h1M159.3,396.9h1M51.9,276.2h1M65.7,282.6h1M79.9,351.8h1M166.7,305.6h1M103.1,365.4h1M69.6,377.6h1M111.3,343.7h1M72.4,380.2h1M95.6,282.4h1M66.2,359.6h1M129.8,373.4h1M100.6,305.2h1M113.8,278.7h1M133.5,356.4h1M148.5,383.3h1M143.2,383.5h1M126.9,280.8h1M65.4,343.1h1M41.7,333.7h1M81.2,292.0h1M90.3,375.9h1M150.4,342.1h1M87.5,410.4h1M143.5,404.4h1M80.8,293.0h1M159.7,367.9h1M154.2,377.9h1M21.6,349.4h1M132.2,307.2h1M146.3,378.8h1M123.3,374.1h1M167.3,359.8h1M72.7,334.9h1M150.1,338.2h1M69.4,297.4h1M125.3,384.8h1M119.9,352.2h1M47.9,270.6h1M68.4,315.2h1M148.7,402.2h1M106.0,338.7h1M80.4,357.0h1M152.6,345.3h1M66.4,365.9h1M90.4,279.8h1M95.8,291.5h1M124.5,334.8h1M142.4,268.5h1M91.0,351.7h1M81.1,403.4h1M137.3,362.5h1M95.4,315.2h1M52.4,309.8h1M182.3,314.2h1M82.7,330.9h1M37.0,369.8h1M134.3,306.7h1M47.8,382.8h1M113.8,266.3h1M84.6,338.5h1M102.6,288.4h1M139.2,374.3h1M167.3,391.9h1M26.4,347.1h1M91.5,254.8h1M83.2,358.7h1M102.7,350.1h1M96.6,363.0h1M105.2,314.7h1M111.5,371.8h1M127.0,365.8h1M111.4,347.3h1M103.5,282.1h1M85.7,311.0h1M142.5,291.2h1M168.9,341.0h1M157.9,349.5h1M161.3,347.8h1M81.1,325.7h1M60.9,293.1h1M175.8,342.6h1M112.6,331.8h1M70.8,350.8h1M109.4,327.8h1M142.8,333.8h1M156.4,268.5h1M128.6,353.9h1M92.6,287.3h1M78.4,398.4h1M109.6,375.2h1M71.6,348.6h1M119.8,338.1h1M81.9,372.3h1M178.1,368.5h1M118.1,282.3h1M187.3,338.3h1M94.0,310.5h1M85.3,385.2h1M94.6,350.8h1M115.0,361.0h1M91.6,292.7h1M67.8,394.6h1M143.8,304.5h1M43.4,338.0h1M57.8,268.4h1M124.9,318.4h1M93.1,322.6h1M155.9,327.7h1M47.5,308.8h1M46.1,358.1h1M111.4,345.2h1M141.0,300.1h1M157.6,266.4h1M83.6,286.1h1M64.2,324.8h1M126.5,293.9h1M84.8,293.2h1M23.5,347.2h1M30.4,355.3h1M99.6,383.1h1M115.7,301.8h1M69.8,362.6h1M119.5,413.0h1M73.4,341.8h1M72.1,297.7h1M93.2,316.7h1M47.7,293.2h1M128.6,370.9h1M62.9,394.2h1M87.3,250.0h1M120.6,312.9h1M118.8,263.5h1M81.6,328.4h1M145.0,285.6h1M101.1,319.5h1M168.4,319.2h1M63.1,394.8h1M74.5,294.4h1M87.2,363.6h1M66.5,304.9h1M44.4,313.2h1M135.4,310.6h1M135.9,339.6h1M139.5,388.4h1M49.4,291.0h1M59.8,363.5h1M33.8,359.0h1M166.5,316.5h1M74.8,330.0h1M64.2,263.0h1M134.3,414.4h1M54.2,300.7h1M114.2,352.0h1M147.9,315.3h1M183.4,300.1h1M127.9,298.7h1M57.9,398.6h1M69.6,283.9h1M189.5,330.5h1M168.6,313.8h1M42.8,353.1h1M167.1,322.8h1M107.3,411.6h1M103.9,280.4h1M68.1,328.6h1M166.1,313.9h1M129.3,252.9h1M139.9,300.2h1M143.7,319.1h1M96.4,322.8h1M65.1,329.3h1M114.1,347.0h1M148.5,376.8h1M80.2,310.6h1M63.9,362.8h1M95.1,327.4h1M82.9,360.5h1M66.5,346.5h1M103.2,263.4h1M86.4,275.6h1M108.9,354.0h1M171.6,292.1h1"/><path stroke="#0000e6" stroke-width="1" d="M142.0,324.8h1M102.4,297.9h1M151.3,337.3h1M55.3,333.4h1M126.3,321.5h1M111.5,310.7h1M85.1,305.5h1M94.8,370.1h1M142.8,340.4h1M56.0,328.8h1M81.6,350.0h1M142.9,360.1h1M89.3,342.1h1M147.7,328.2h1M148.0,324.8h1M145.6,310.8h1M103.8,311.6h1M106.4,328.4h1M147.1,301.2h1M118.7,380.1h1M101.4,287.1h1M111.9,320.4h1M116.6,338.9h1M77.9,309.2h1M133.3,334.9h1M65.0,343.7h1M137.8,354.1h1M54.4,315.5h1M113.3,371.6h1M124.0,344.5h1M128.9,383.4h1M153.4,315.7h1M93.7,360.4h1M143.6,296.8h1M121.6,338.1h1M135.0,343.4h1M123.2,327.3h1M94.0,351.6h1M104.7,326.9h1M144.7,312.9h1M109.1,323.5h1M52.9,326.5h1M51.1,334.9h1M104.1,350.8h1M125.9,326.3h1M102.0,345.2h1M83.1,353.7h1M63.0,311.8h1M61.1,340.7h1M118.2,332.6h1M96.5,311.7h1M94.0,355.1h1M87.7,318.4h1M78.5,330.1h1M66.2,355.8h1M87.1,355.9h1M138.4,352.4h1M64.7,330.9h1M120.2,296.3h1M119.7,301.6h1M128.5,295.6h1M163.5,351.1h1M123.7,292.5h1M101.5,297.1h1M107.3,333.2h1M87.6,333.6h1M78.0,375.3h1M72.0,346.9h1M77.0,360.6h1M87.2,320.2h1M135.0,316.8h1M114.1,317.2h1M103.6,353.3h1M133.0,319.3h1M134.8,283.6h1M67.8,325.9h1M121.7,353.8h1M86.5,332.3h1M116.8,309.3h1M74.5,336.1h1M91.1,361.6h1M138.2,313.6h1M111.5,352.9h1M113.4,277.4h1M84.7,314.0h1M109.3,328.9h1M80.2,291.9h1M77.5,314.9h1M132.6,381.2h1M130.6,308.5h1M131.7,302.6h1M156.6,329.3h1M136.9,340.1h1M54.2,309.6h1M139.3,377.7h1M120.5,324.8h1M128.9,287.6h1M119.0,307.9h1M60.8,339.0h1M115.8,359.3h1M69.9,332.6h1M131.8,305.9h1M131.4,322.2h1M109.8,307.4h1M119.1,305.6h1M67.5,322.6h1M82.0,339.1h1M77.8,334.5h1M82.8,386.2h1M135.2,330.8h1M68.6,341.3h1M100.1,369.0h1M80.6,353.5h1M131.6,335.7h1M120.3,351.9h1M79.3,302.1h1M72.9,289.4h1M107.2,304.3h1M82.7,299.9h1M140.8,283.3h1M65.2,345.1h1M140.9,317.3h1M94.0,347.0h1M101.4,325.1h1M57.3,352.1h1M68.3,322.0h1M93.2,340.0h1M126.8,329.5h1M157.7,325.3h1M126.0,282.6h1M71.2,326.9h1M143.7,369.2h1M133.1,374.7h1M142.9,324.6h1M70.4,302.9h1M139.5,358.9h1M109.7,342.6h1M121.9,316.2h1M96.7,370.3h1M85.1,342.3h1M112.5,290.3h1M136.7,370.1h1M90.8,320.9h1M86.2,352.8h1M155.1,300.0h1M139.0,301.9h1M112.1,360.0h1M134.0,377.2h1M66.2,373.6h1M124.2,326.5h1M139.8,359.7h1M107.3,335.4h1M70.0,290.0h1M104.6,323.1h1M150.3,329.7h1M138.8,297.0h1M149.6,341.0h1M93.0,313.9h1M70.0,323.8h1M84.7,383.1h1M86.2,312.6h1M124.3,381.0h1M80.9,365.6h1M112.2,282.8h1M106.1,347.5h1M99.4,310.1h1M125.7,328.7h1M98.6,290.4h1M149.1,315.9h1M121.0,348.2h1M72.9,348.7h1M120.6,347.7h1M105.8,318.4h1M111.2,375.3h1M89.0,297.2h1M101.4,389.9h1M139.7,337.3h1M143.9,358.1h1M117.8,294.0h1M133.4,310.5h1M155.3,322.8h1M68.2,320.7h1M153.7,344.1h1M116.1,314.2h1M113.2,349.3h1M83.3,310.8h1M91.9,315.0h1M62.8,344.1h1M108.5,325.2h1M98.7,340.9h1M71.4,303.2h1M85.0,309.8h1M99.3,318.3h1M89.9,308.0h1M147.2,336.8h1M78.6,349.2h1M110.1,328.7h1M135.4,338.3h1M102.6,374.8h1M92.0,333.3h1M147.8,319.7h1M78.1,360.1h1M118.6,349.7h1M116.9,341.5h1M104.7,326.4h1M89.3,357.5h1M106.1,327.0h1M84.6,339.5h1M88.3,353.0h1M107.0,320.7h1M101.5,358.0h1M61.4,316.0h1M94.0,370.5h1M103.9,343.8h1M116.6,377.7h1M139.0,320.9h1M82.8,347.7h1M87.4,373.0h1M154.2,328.8h1M98.4,333.4h1M103.0,274.8h1M140.8,353.1h1M120.5,339.9h1M88.2,306.8h1M118.2,310.2h1M84.5,320.3h1M105.5,331.8h1M85.6,381.1h1M76.4,297.9h1M69.3,307.2h1M91.9,322.9h1M94.3,343.4h1M99.1,372.8h1M91.6,338.8h1M90.2,338.7h1M75.8,361.6h1M104.3,343.7h1M100.4,337.1h1M74.4,349.2h1M102.1,298.4h1M71.0,307.7h1M90.4,318.6h1M73.9,343.6h1M142.7,351.0h1M99.7,328.3h1M76.3,378.3h1M116.5,307.4h1M109.5,307.7h1M80.2,359.9h1M67.1,377.0h1M85.7,341.9h1M91.0,344.2h1M110.3,313.4h1M107.9,323.2h1M85.5,353.2h1M116.3,339.7h1M92.9,346.0h1M114.6,314.5h1M94.9,352.5h1M79.1,373.7h1M71.2,319.4h1M66.9,299.8h1M154.1,347.7h1M99.3,290.2h1M131.9,279.7h1M96.8,301.5h1M143.7,293.8h1M110.7,344.4h1M80.8,349.2h1M121.3,295.7h1M111.2,294.6h1M134.8,359.3h1M82.4,319.8h1M126.0,361.4h1M84.9,331.7h1M117.1,331.0h1M124.8,348.0h1M145.7,305.2h1M91.6,314.5h1M113.9,367.2h1M101.4,381.1h1M87.0,313.3h1M98.1,358.7h1M133.9,335.2h1M75.4,361.3h1M123.0,281.8h1M91.9,343.1h1M60.7,351.9h1M123.0,345.1h1M63.4,357.7h1M110.8,357.2h1M107.6,325.1h1M133.5,297.9h1M126.9,352.9h1M79.3,299.8h1M104.5,341.3h1M106.7,315.5h1M158.8,343.3h1M126.8,315.8h1M137.3,308.5h1M110.8,359.9h1M92.1,347.3h1M60.9,312.6h1M64.4,364.6h1M99.6,350.9h1M86.8,311.2h1M65.8,318.8h1M136.7,353.4h1M87.0,364.9h1M131.3,357.8h1M136.9,366.7h1M64.8,343.6h1M113.3,330.1h1M151.3,344.4h1M79.8,286.7h1M56.2,327.3h1M76.7,367.1h1M91.0,342.0h1M107.7,301.0h1M108.0,343.9h1M93.0,357.2h1M110.6,289.8h1M60.7,359.0h1M145.1,336.7h1M69.3,305.7h1M118.2,348.5h1M82.1,313.4h1M148.2,327.3h1M112.3,339.4h1M132.9,327.9h1M119.6,372.5h1M101.2,297.8h1M103.9,369.9h1M89.3,293.7h1M112.9,369.1h1M99.1,295.1h1M73.4,297.4h1M83.3,333.6h1M122.7,334.3h1M88.2,330.1h1M121.0,314.1h1M89.5,356.6h1M72.5,324.9h1M127.4,297.2h1M100.9,287.6h1M135.4,332.4h1M90.6,317.3h1M125.8,373.4h1M55.2,337.0h1M93.2,302.6h1M140.5,356.8h1M114.7,373.7h1M107.1,320.2h1M70.9,319.1h1M147.7,319.3h1M82.4,371.2h1M94.0,378.9h1M112.5,340.8h1M73.7,345.3h1M140.4,327.4h1M104.1,332.2h1M105.7,327.0h1M144.9,376.1h1M116.8,308.7h1M144.6,348.2h1M112.5,377.4h1M98.6,319.4h1M83.5,291.7h1M119.9,314.5h1M133.7,324.3h1M147.1,316.3h1M119.4,286.4h1M101.9,318.4h1M107.7,320.8h1M139.3,293.4h1M58.9,317.0h1M74.7,339.5h1M105.3,337.4h1M120.8,336.1h1M114.8,335.9h1M125.1,301.1h1M134.5,282.9h1M107.7,347.7h1M96.6,366.3h1M127.9,355.9h1M76.6,293.9h1M135.0,347.4h1M128.5,365.9h1M96.6,298.3h1M99.5,292.4h1M94.4,289.3h1M70.6,322.8h1M106.5,334.2h1M70.1,329.3h1M98.7,347.0h1M141.4,312.3h1M63.1,338.9h1M125.8,375.4h1M124.8,358.7h1M118.7,296.1h1M158.9,350.4h1M121.5,410.9h1M51.4,318.6h1M101.9,356.6h1M149.7,283.1h1M87.9,333.4h1M139.6,322.1h1M72.0,282.0h1M85.1,321.7h1M82.2,363.9h1M99.3,321.3h1M140.6,351.6h1M121.0,364.4h1M84.0,312.1h1M113.0,325.3h1M129.8,322.6h1M49.6,307.2h1M122.7,323.0h1M119.2,359.8h1M80.1,360.3h1M53.7,374.8h1M138.4,375.9h1M62.1,318.8h1M50.9,279.1h1M100.1,384.8h1M86.6,322.6h1M101.4,347.4h1M124.3,353.3h1M90.7,365.1h1M107.3,319.3h1M91.0,352.7h1M67.6,305.1h1M97.8,347.8h1M31.1,332.7h1M48.3,345.0h1M108.0,385.7h1M149.3,321.8h1M58.1,318.2h1M96.4,360.3h1M39.9,377.7h1M77.8,325.7h1M80.8,308.1h1M108.5,338.5h1M140.9,326.4h1M77.7,319.2h1M132.5,330.6h1M53.1,302.2h1M121.9,269.8h1M103.2,366.3h1M85.4,343.9h1M125.3,312.9h1M96.6,306.3h1M114.5,317.6h1M116.9,269.6h1M72.1,312.9h1M142.7,377.6h1M179.3,359.9h1M52.6,309.3h1M112.1,368.9h1M170.9,368.9h1M103.0,319.4h1M111.7,267.2h1M44.0,321.0h1M135.1,385.8h1M106.9,279.9h1M138.0,274.8h1M92.1,330.4h1M43.0,288.5h1M73.9,373.3h1M70.1,341.7h1M118.8,341.8h1M113.3,339.9h1M97.8,268.9h1M69.6,353.3h1M90.0,335.3h1M107.8,348.1h1M49.7,347.0h1M130.2,307.3h1M126.8,363.3h1M136.4,333.7h1M157.6,363.5h1M83.5,340.9h1M181.0,338.7h1M102.7,329.9h1M117.4,366.3h1M131.6,317.1h1M80.4,302.0h1M120.4,363.7h1M84.8,326.4h1M67.0,358.6h1M52.3,322.6h1M79.7,365.2h1M87.4,373.4h1M87.0,330.6h1M77.3,363.5h1M122.7,311.0h1M141.3,395.7h1M68.9,344.9h1M138.2,321.1h1M95.2,307.1h1M141.4,320.1h1M120.4,319.7h1M80.9,332.2h1M100.2,276.1h1M128.6,386.8h1M125.0,370.1h1M132.0,325.8h1M185.8,340.6h1M149.6,347.6h1M173.8,312.5h1M94.1,319.8h1M105.5,311.4h1M137.6,273.1h1M58.4,300.4h1M73.4,390.1h1M105.4,380.0h1M156.7,336.0h1M75.5,303.8h1M89.2,323.7h1M160.4,329.9h1M97.8,313.5h1M150.8,300.6h1M127.6,327.5h1M65.7,334.8h1M162.2,294.8h1M127.3,368.2h1M142.3,292.3h1M101.8,317.1h1M93.3,319.9h1M106.0,402.8h1M98.6,354.3h1M91.0,364.5h1M150.5,353.8h1M80.9,365.0h1M138.0,316.8h1M116.6,277.8h1M139.2,266.5h1M113.4,341.7h1M38.6,338.4h1M109.6,332.0h1M43.7,333.2h1M81.3,363.7h1M128.1,275.5h1M130.9,322.6h1M103.3,366.0h1M135.3,281.9h1M112.4,315.6h1M75.0,297.5h1M111.7,324.7h1M125.1,362.9h1M139.4,377.6h1M79.9,370.0h1M63.1,333.6h1M87.9,361.1h1M101.4,375.7h1M70.8,374.7h1M56.6,357.0h1M124.7,290.7h1M75.6,303.8h1M67.8,346.1h1M136.0,347.0h1M88.6,308.0h1M105.2,266.5h1M129.8,324.7h1M136.2,366.1h1M159.8,297.8h1M71.0,335.2h1M104.7,276.9h1M76.2,283.5h1M98.5,312.0h1M135.0,331.8h1M125.5,331.5h1M138.1,313.6h1M104.0,364.5h1M61.9,400.8h1M96.6,352.1h1M109.3,387.0h1M154.2,329.2h1M88.1,378.1h1M94.4,354.4h1M46.1,359.8h1M52.0,382.5h1M160.8,344.1h1M118.0,277.4h1M87.2,295.2h1M93.2,295.9h1M111.1,343.2h1M72.6,303.0h1M45.6,298.3h1M48.6,331.1h1M65.0,346.4h1M130.6,331.8h1M154.5,356.8h1M125.3,360.6h1M68.5,371.6h1M90.2,390.1h1M100.9,336.0h1M66.5,295.9h1M143.0,355.9h1M134.9,350.9h1M82.9,330.1h1M108.7,299.8h1M119.3,347.0h1M124.2,350.7h1M143.1,323.4h1M137.9,359.1h1M86.8,313.9h1M85.6,333.1h1M114.2,321.3h1M26.4,347.3h1M143.3,341.1h1M162.1,307.1h1M158.1,319.2h1M103.7,370.6h1M76.2,332.7h1M91.3,339.2h1M99.9,352.8h1M92.2,342.0h1M62.3,321.7h1M133.8,345.1h1M76.8,380.4h1M112.8,287.1h1M79.8,322.8h1M94.1,275.4h1M113.8,318.7h1M95.9,299.1h1M87.2,323.6h1M39.5,347.4h1M88.6,331.2h1M139.8,380.5h1M106.1,348.2h1M104.1,404.9h1M92.6,347.5h1M68.3,351.5h1M96.8,324.5h1M161.8,376.1h1M147.9,286.2h1M47.7,290.1h1M99.6,301.5h1M134.7,356.4h1M113.6,366.8h1M100.4,332.1h1M113.2,406.4h1M91.3,353.5h1M135.3,328.0h1M91.9,342.3h1M114.3,315.4h1M151.1,347.2h1M111.3,315.8h1M95.9,291.5h1M105.5,283.4h1M95.5,298.9h1M53.0,310.2h1M69.7,347.0h1M76.0,360.3h1M64.3,347.9h1M50.7,333.1h1M132.0,263.6h1M144.0,346.5h1M144.5,284.1h1M131.5,306.6h1M150.1,331.7h1M110.1,347.2h1M129.4,319.6h1M168.7,341.5h1M126.9,287.8h1M83.8,317.2h1M127.7,343.5h1M103.9,346.1h1M148.8,338.8h1"/><path stroke="#0000ff" stroke-width="1" d="M85.1,318.2h1M130.6,313.6h1M86.8,312.0h1M104.3,322.0h1M101.5,325.9h1M112.3,345.8h1M90.3,361.7h1M105.7,365.9h1M90.5,351.2h1M139.0,333.2h1M123.4,308.8h1M130.6,330.1h1M76.6,354.3h1M109.1,327.1h1M92.3,308.9h1M107.2,323.5h1M98.9,371.9h1M94.0,346.2h1M81.1,337.4h1M103.0,323.8h1M87.3,341.9h1M95.9,321.1h1M106.7,340.8h1M65.4,335.7h1M116.7,330.8h1M120.7,331.8h1M88.8,342.1h1M97.8,312.4h1M107.7,305.1h1M127.9,343.7h1M81.9,361.3h1M105.8,360.7h1M120.4,330.0h1M80.7,321.3h1M76.6,341.6h1M106.5,350.3h1M128.5,365.1h1M110.0,365.2h1M105.1,311.7h1M92.6,328.4h1M138.3,321.8h1M98.3,344.5h1M117.7,353.5h1M65.4,345.0h1M80.6,318.7h1M99.9,351.7h1M96.1,365.0h1M84.1,306.7h1M114.9,311.9h1M79.6,343.2h1M123.5,306.5h1M119.3,322.3h1M73.7,338.9h1M121.4,358.6h1M81.8,320.4h1M105.8,341.9h1M103.1,346.0h1M98.6,305.5h1M99.8,348.9h1M130.8,331.8h1M108.0,313.0h1M72.8,337.1h1M110.7,345.1h1M96.8,360.3h1M95.6,353.2h1M87.6,321.6h1M117.6,355.3h1M140.2,328.7h1M92.6,356.5h1M100.2,316.4h1M104.5,356.4h1M114.8,347.2h1M110.3,310.4h1M89.4,307.1h1M109.7,361.8h1M87.3,313.1h1M96.2,330.9h1M81.3,306.1h1M106.0,340.5h1M73.5,345.2h1M117.7,325.8h1M132.4,328.0h1M129.8,331.7h1M100.8,310.4h1M134.2,323.5h1M115.4,355.2h1M100.5,332.0h1M88.0,346.9h1M96.7,362.5h1M114.9,341.6h1M112.4,361.5h1M121.6,305.7h1M101.7,325.8h1M129.6,350.0h1M118.2,369.9h1M84.5,300.0h1M136.6,328.9h1M107.4,354.8h1M87.9,301.1h1M121.2,328.5h1M108.4,316.7h1M98.1,305.9h1M82.8,329.3h1M97.5,323.5h1M98.2,306.2h1M111.7,328.4h1M106.5,309.0h1M109.8,339.8h1M113.2,372.0h1M84.9,308.4h1M113.1,322.6h1M69.0,351.8h1M91.4,356.3h1M106.5,344.9h1M71.4,343.0h1M90.9,326.7h1M103.6,353.9h1M108.7,320.4h1M118.3,298.1h1M89.1,323.6h1M83.4,319.1h1M115.9,346.0h1M148.1,329.5h1M111.6,306.8h1M93.0,316.4h1M103.1,334.8h1M139.3,333.8h1M78.9,329.8h1M70.8,342.0h1M81.3,318.9h1M111.7,359.7h1M78.7,330.6h1M103.1,328.4h1M133.6,318.4h1M83.1,339.6h1M126.2,347.0h1M95.3,328.2h1M84.3,329.9h1M115.2,330.4h1M66.8,334.6h1M80.9,318.0h1M90.0,305.3h1M138.3,334.7h1M100.7,333.3h1M131.8,319.7h1M121.3,317.0h1M141.3,338.7h1M130.7,315.1h1M72.4,342.3h1M128.4,337.3h1M71.9,330.9h1M79.2,338.4h1M108.9,349.3h1M130.9,360.8h1M65.9,330.7h1M82.6,311.9h1M126.3,311.7h1M124.4,323.8h1M131.8,338.6h1M87.5,343.7h1M85.2,317.2h1M132.1,318.2h1M92.7,332.6h1M79.4,329.2h1M125.8,332.3h1M82.5,344.2h1M86.0,324.3h1M96.3,357.0h1M81.5,318.7h1M129.5,322.9h1M129.3,309.8h1M97.6,313.8h1M121.7,344.1h1M118.6,340.7h1M93.0,333.6h1M113.5,315.5h1M111.3,367.2h1M113.8,360.0h1M110.2,339.1h1M103.1,325.8h1M126.6,307.7h1M82.6,331.9h1M99.5,350.2h1M101.4,308.0h1M140.5,353.8h1M100.4,349.7h1M79.3,327.3h1M74.9,332.5h1M119.6,347.7h1M87.7,327.2h1M90.6,349.3h1M129.3,310.6h1M100.4,355.8h1M97.2,353.5h1M71.7,340.7h1M118.1,325.0h1M88.1,303.6h1M118.3,403.9h1M92.3,344.5h1M119.9,277.3h1M107.4,363.7h1M77.5,388.4h1M71.8,311.5h1M109.9,331.1h1M129.3,370.1h1M105.0,360.1h1M127.5,355.8h1M121.1,362.0h1M101.3,392.4h1M100.0,328.1h1M118.0,332.0h1M100.7,309.4h1M102.5,380.5h1M60.4,284.1h1M76.3,341.3h1M46.7,306.9h1M165.2,357.4h1M129.1,325.2h1M117.6,354.7h1M81.4,351.1h1M162.0,374.3h1M92.9,339.2h1M178.1,296.4h1M65.5,318.8h1M70.5,316.1h1M122.2,376.4h1M151.3,336.3h1M132.9,353.4h1M67.6,339.5h1M80.2,339.7h1M104.3,365.3h1M95.4,324.3h1M156.9,350.1h1M122.8,342.1h1M98.5,308.6h1M118.6,312.4h1M65.1,339.9h1M101.7,306.6h1M100.7,343.2h1M67.7,367.8h1M132.9,342.8h1M185.8,342.4h1M62.1,327.4h1M90.8,373.7h1M76.8,326.0h1M56.6,349.4h1M113.4,354.8h1M116.2,330.8h1M108.9,374.8h1M119.0,320.4h1M136.5,361.3h1M109.6,318.9h1M86.1,315.3h1M152.7,288.4h1M81.4,347.4h1M80.2,306.8h1M101.0,336.8h1M69.8,306.4h1M153.5,326.8h1M106.1,332.1h1M84.7,314.8h1M113.0,355.9h1M164.3,365.1h1M131.7,364.3h1M111.7,338.8h1M78.7,379.1h1M91.3,372.0h1M63.0,376.8h1M141.7,318.8h1M112.5,310.3h1M88.1,291.1h1M81.4,378.7h1M132.4,294.7h1M89.7,321.2h1M109.6,354.2h1M118.9,377.0h1M106.3,310.2h1M119.8,309.1h1M154.8,306.7h1M108.4,321.4h1M95.3,261.1h1M114.2,293.7h1M120.8,314.7h1M163.5,317.8h1M45.4,313.6h1M111.4,368.1h1M96.2,323.8h1M31.7,302.7h1M93.8,276.8h1M105.6,282.7h1M123.3,321.9h1M68.2,320.3h1M149.3,310.1h1M114.6,330.5h1M106.2,289.2h1M92.6,309.1h1M131.1,337.9h1M147.6,326.7h1M108.1,373.5h1M146.6,324.9h1M55.8,281.3h1M100.3,305.2h1M84.7,337.7h1M166.5,328.5h1M139.2,322.2h1M148.1,327.5h1M32.7,315.0h1M56.5,322.8h1M167.3,351.1h1M116.5,370.4h1M117.4,286.8h1M106.6,346.6h1M123.1,376.0h1M115.2,405.6h1M57.6,305.8h1M144.4,388.6h1M89.3,363.8h1M119.0,374.5h1M87.1,298.5h1M61.9,300.0h1M89.5,357.2h1M122.5,358.0h1M49.4,330.8h1M121.8,345.5h1M163.2,294.2h1M78.8,333.4h1M74.5,271.6h1M44.2,318.1h1M93.8,380.5h1M132.1,327.0h1M106.3,278.6h1M109.4,313.9h1M147.8,360.2h1M105.1,394.4h1M78.8,289.6h1M159.7,292.5h1M58.5,346.5h1M77.5,342.4h1M130.2,318.6h1M74.9,308.0h1M53.7,384.2h1M130.6,348.7h1M150.3,324.1h1M82.4,326.7h1M95.3,337.8h1M101.0,356.4h1M137.8,330.5h1M94.6,365.6h1M99.6,344.3h1M137.3,319.3h1M111.8,333.0h1M88.1,329.2h1M89.9,374.5h1M119.5,348.8h1M123.8,386.7h1M82.8,334.2h1M155.5,311.3h1M123.9,390.8h1M107.0,384.3h1M158.8,337.1h1M121.4,278.4h1M68.2,288.8h1M106.5,392.4h1M138.2,288.5h1M103.2,351.5h1M59.7,331.3h1M101.0,318.7h1M83.0,319.8h1M113.5,339.4h1M81.8,356.4h1M84.6,406.2h1M121.6,369.7h1M123.2,329.4h1M89.6,346.9h1M125.4,297.0h1M127.0,332.0h1M91.3,328.8h1M43.4,338.4h1M100.9,307.2h1M136.5,325.8h1M56.8,365.5h1M144.0,335.5h1M174.0,327.7h1M83.0,280.2h1M100.9,305.4h1M120.5,395.0h1M79.4,283.3h1M66.2,337.5h1M101.7,306.8h1M102.8,371.9h1M47.2,340.1h1M59.9,286.3h1"/><path stroke="#0000ff" stroke-width="1.4" d="M70.7,320.2h2M98.9,290.8h2M67.8,345.2h2M112.1,346.5h2M85.3,351.2h2M122.2,329.5h2M132.4,345.7h2M84.5,332.0h2M128.3,327.1h2M100.9,346.9h2M140.7,335.3h2M126.1,326.1h2M97.2,335.0h2M102.3,370.3h2M99.7,352.8h2M91.7,350.3h2M109.7,355.1h2M120.5,351.8h2M112.2,357.3h2M99.3,321.7h2M114.1,326.6h2M108.8,366.8h2M81.3,318.3h2M86.8,319.0h2M110.1,333.2h2M96.9,337.6h2M129.0,347.2h2M123.3,308.6h2M89.9,364.3h2M96.3,346.5h2M96.6,300.6h2M97.5,359.9h2M107.5,342.8h2M97.1,323.4h2M103.2,360.6h2M98.6,329.8h2M126.5,327.5h2M88.3,321.9h2M107.2,325.8h2M90.3,343.3h2M124.8,312.0h2M96.0,312.4h2M103.2,323.0h2M97.0,352.1h2M118.2,310.2h2M113.2,304.0h2M78.5,348.7h2M109.9,321.0h2M111.5,361.0h2M100.4,318.3h2M66.5,349.3h2M111.5,345.2h2M120.2,310.8h2M100.2,336.4h2M100.5,334.6h2M101.8,361.8h2M133.5,330.9h2M125.5,365.5h2M119.7,320.4h2M88.0,345.3h2M121.0,349.1h2M114.7,305.2h2M82.2,348.4h2M107.1,306.4h2M107.2,354.5h2M85.5,326.3h2M131.3,328.3h2M123.4,353.8h2M129.6,322.9h2M133.7,330.8h2M83.6,341.9h2M92.3,319.3h2M97.9,360.6h2M89.7,356.6h2M121.9,340.9h2M97.6,360.7h2M96.3,338.0h2M104.9,345.5h2M127.9,341.1h2M116.9,323.1h2M138.2,330.8h2M88.0,356.2h2M99.5,304.8h2M111.2,361.1h2M126.4,307.8h2M105.9,294.9h2M87.8,315.4h2M96.2,304.0h2M93.9,342.2h2"/><path stroke="#000099" stroke-width="1.4" d="M150.7,265.6h2M133.1,384.3h2M78.3,288.8h2M126.9,275.1h2M57.3,298.7h2M164.9,313.1h2M99.4,333.8h2M106.7,368.9h2M71.2,337.9h2M69.1,337.4h2M174.3,327.3h2M176.8,377.7h2M55.0,319.3h2M92.2,301.4h2M116.6,356.0h2M105.7,358.5h2M131.0,354.5h2M26.8,337.9h2M144.8,343.9h2M146.1,347.7h2M135.3,284.7h2M84.4,270.6h2M76.3,307.6h2M121.3,374.7h2M134.4,353.2h2M159.9,322.5h2M99.0,370.8h2M70.8,284.5h2M85.3,333.1h2M83.5,307.2h2M96.5,341.8h2M116.5,383.5h2M128.9,264.6h2M37.8,368.3h2M132.7,363.0h2M108.4,344.0h2M91.8,330.9h2M54.8,286.0h2M105.4,264.9h2M144.6,312.3h2M62.5,289.1h2M88.6,347.5h2M144.3,331.0h2M98.3,397.5h2M70.3,319.8h2M96.0,375.4h2M133.6,314.0h2M131.0,320.5h2M190.3,328.7h2M111.2,283.9h2M176.5,334.2h2M132.5,278.4h2M116.9,287.2h2M148.6,403.0h2M54.4,329.3h2M138.8,358.4h2M120.1,384.7h2M61.1,308.7h2M65.7,299.1h2M58.8,320.5h2M27.9,353.9h2M49.2,316.7h2M84.8,271.8h2M89.3,323.6h2M36.4,298.2h2M144.9,323.4h2M118.6,308.3h2M49.4,322.5h2M61.7,331.3h2M133.3,299.2h2M88.7,295.6h2M81.4,357.0h2M180.5,331.4h2M132.6,324.0h2M122.9,341.8h2M108.2,371.2h2M49.2,356.8h2M33.0,343.7h2M159.2,393.6h2M135.5,289.1h2M71.8,328.4h2M87.5,321.7h2M72.5,392.5h2M138.3,277.7h2M120.8,414.8h2M82.8,347.9h2M87.4,332.7h2M72.6,313.8h2M125.8,260.6h2M74.9,366.9h2M166.2,351.3h2M125.8,303.8h2M63.8,294.4h2M102.8,315.0h2M116.1,397.4h2M88.0,285.8h2M52.3,375.7h2M104.3,311.2h2M114.1,332.5h2M73.1,283.8h2M55.3,303.6h2M61.3,315.6h2M116.6,387.0h2M118.4,356.0h2M140.7,392.3h2M71.7,344.0h2M100.7,268.1h2M162.5,363.9h2M118.1,305.2h2M129.9,408.3h2M132.1,313.6h2M81.0,257.3h2M68.8,340.8h2M87.6,286.4h2"/><path stroke="#0019ff" stroke-width="1" d="M107.1,332.3h1M93.0,323.6h1M91.0,333.6h1M102.5,311.4h1M115.9,331.7h1M111.9,331.1h1M98.9,333.9h1M103.4,350.5h1M103.8,342.1h1M97.7,330.3h1M109.1,344.1h1M104.5,332.2h1M101.6,350.3h1M119.3,330.7h1M113.0,335.3h1M89.2,335.7h1M88.2,338.7h1M97.9,323.4h1M119.8,316.4h1M104.6,333.0h1M117.1,318.0h1M109.3,391.0h1M124.0,298.2h1M54.6,323.4h1M89.1,392.8h1M121.3,310.7h1M120.8,342.2h1M88.4,320.0h1M47.5,325.8h1M170.7,296.9h1M75.8,357.6h1M160.1,349.4h1M112.2,303.6h1M153.5,350.8h1M112.1,279.7h1M105.0,338.6h1M93.3,317.6h1M118.9,327.9h1M102.3,302.7h1M101.4,384.1h1M145.9,281.2h1M112.5,343.3h1M118.6,355.1h1M65.9,354.4h1M142.7,338.8h1M81.5,328.1h1M120.8,333.9h1M83.0,266.5h1M119.3,356.7h1M68.1,334.0h1M129.0,388.7h1M90.5,343.3h1M152.5,350.8h1M95.1,354.1h1M121.0,308.2h1M86.9,332.1h1M118.4,330.1h1M122.2,287.9h1M72.9,329.7h1M104.7,317.9h1M76.9,338.5h1M99.2,331.2h1M120.0,349.7h1M50.6,328.6h1M170.2,354.0h1M127.8,345.1h1M123.9,372.4h1M88.1,343.8h1M104.9,338.8h1M87.1,326.3h1M136.4,344.7h1M166.5,340.2h1M109.9,378.6h1M115.9,348.9h1M74.4,358.6h1M121.6,292.2h1M157.9,357.5h1M141.6,385.3h1M112.3,305.8h1M93.9,280.6h1M139.8,343.1h1M86.6,312.9h1M109.0,294.0h1M107.0,320.8h1M145.7,300.4h1M54.6,335.6h1M142.8,369.4h1M89.5,293.5h1M117.3,363.8h1M124.8,286.2h1M116.2,358.9h1M104.7,366.0h1M135.5,369.2h1M123.0,302.2h1M119.2,359.4h1M131.9,338.4h1M102.1,352.6h1M55.0,315.8h1M87.2,371.2h1M56.0,307.5h1M130.1,363.0h1M156.0,298.5h1M119.7,276.9h1M119.6,358.2h1M104.6,299.6h1M86.0,309.6h1M97.4,271.6h1M137.6,328.6h1M61.1,344.6h1M124.9,344.2h1M130.6,280.2h1M65.6,360.5h1M124.9,354.9h1M144.2,333.1h1M119.8,290.7h1M88.7,330.7h1M121.3,392.5h1M134.9,408.0h1M87.9,306.0h1M102.5,337.1h1M62.4,336.8h1M116.1,352.3h1M79.1,361.8h1M140.3,305.4h1M89.0,366.5h1M101.4,322.9h1M61.3,323.2h1M50.5,290.5h1M86.9,323.9h1M87.6,299.5h1M52.5,290.8h1M148.6,356.3h1M96.8,378.6h1M100.8,367.8h1M173.9,336.7h1M113.4,312.3h1M89.5,305.7h1M109.8,385.6h1M104.6,310.3h1M68.1,336.1h1M98.4,363.6h1M108.6,303.8h1M124.0,339.0h1M109.3,340.7h1M67.1,298.9h1M147.4,373.7h1M67.0,293.1h1M94.3,368.1h1M96.2,353.5h1M76.0,333.3h1M158.7,379.7h1M108.0,313.0h1M145.0,310.4h1M97.2,333.7h1M111.7,336.2h1M76.5,293.4h1M129.6,301.3h1M45.1,368.4h1M113.8,357.4h1M81.6,327.8h1M122.2,343.5h1M77.6,316.1h1M102.6,304.2h1M97.4,333.6h1M76.0,321.1h1M62.4,294.5h1M114.8,334.8h1M98.2,380.9h1M107.7,292.7h1M125.0,364.1h1M111.0,287.9h1M108.2,331.5h1M171.2,324.0h1M114.4,337.2h1M106.1,314.0h1M110.7,328.2h1M150.6,275.1h1M132.8,321.0h1M122.2,325.6h1M35.6,302.5h1M138.2,321.7h1M108.2,363.4h1M124.2,306.1h1M97.1,334.4h1M97.0,367.1h1M99.0,337.7h1M79.1,376.4h1M94.4,341.4h1M117.3,324.6h1M101.7,342.1h1M99.2,352.8h1M93.1,377.4h1M116.6,313.0h1M114.0,365.4h1M122.7,331.7h1M143.7,354.4h1M120.2,362.9h1M156.3,357.4h1M79.1,342.3h1M140.0,358.4h1M117.8,344.4h1M155.6,315.9h1M119.1,355.7h1M136.1,363.6h1M153.2,338.2h1M66.7,338.9h1"/><path stroke="#0019ff" stroke-width="1.4" d="M105.5,331.3h2M87.0,324.0h2M109.4,338.8h2M97.4,322.8h2M92.8,331.0h2M122.1,340.7h2M126.2,342.5h2M121.1,335.2h2M94.1,347.2h2"/><path stroke="#004dff" stroke-width="1" d="M71.2,342.9h1M105.8,301.3h1M103.5,349.7h1M121.1,324.8h1M137.8,341.4h1M146.9,371.7h1M104.5,314.2h1M145.2,315.5h1M139.9,312.9h1M81.8,329.0h1M69.2,277.5h1M107.0,307.7h1M111.9,347.0h1M136.6,338.4h1M125.2,356.5h1M116.2,323.7h1M62.2,331.0h1M124.2,314.9h1M83.3,357.9h1M47.3,351.9h1M109.5,379.2h1M135.8,341.3h1M83.1,337.4h1M110.4,303.7h1M62.8,281.2h1M88.6,343.5h1M69.4,293.3h1M87.2,345.6h1M93.0,365.3h1M104.9,370.6h1M83.3,353.8h1M87.6,339.0h1M60.4,363.1h1M64.6,335.0h1M73.3,330.2h1M108.3,329.8h1M99.1,280.8h1M114.5,371.3h1M136.0,333.7h1M104.5,300.5h1M110.5,347.5h1M73.4,363.1h1M98.3,342.7h1M118.1,323.3h1M59.9,322.8h1M97.4,301.0h1M148.6,324.3h1M101.1,317.6h1M157.6,320.2h1M117.6,328.1h1M97.9,301.6h1M97.6,345.1h1M77.9,286.1h1M106.5,334.0h1M53.2,324.6h1M114.1,354.4h1M89.0,356.2h1M92.0,341.2h1M89.0,347.5h1M73.0,361.0h1M79.0,358.9h1M71.9,307.0h1M105.0,356.2h1M104.1,363.7h1M105.6,329.6h1M112.2,367.7h1M122.2,333.3h1M119.8,358.4h1M94.9,299.8h1M102.5,285.6h1M123.8,384.9h1M136.3,369.6h1M58.5,319.8h1M158.3,368.0h1M67.5,367.5h1M143.4,292.4h1M122.8,354.3h1M96.2,303.3h1M100.8,317.7h1M104.8,365.7h1M113.1,349.8h1M99.0,304.5h1M113.5,380.8h1M137.0,313.4h1M110.7,307.4h1M97.8,314.4h1M129.5,353.1h1M112.2,337.9h1M147.8,371.3h1M101.1,336.2h1M82.7,343.2h1M112.0,357.6h1M110.0,320.9h1M146.9,329.8h1M122.1,365.3h1M105.9,321.8h1M137.0,368.3h1M94.3,309.6h1M67.4,341.3h1M102.6,324.3h1M31.6,367.3h1"/><path stroke="#0033ff" stroke-width="1" d="M130.8,322.7h1M125.8,371.3h1M126.8,323.4h1M167.6,324.9h1M130.2,349.3h1M108.2,331.1h1M109.7,318.2h1M90.5,338.4h1M101.1,377.3h1M107.2,352.7h1M105.8,409.8h1M88.0,311.6h1M121.2,296.8h1M75.5,355.5h1M124.1,373.4h1M68.8,330.7h1M143.4,358.4h1M132.0,363.6h1M80.2,312.6h1M95.1,304.8h1M109.0,345.3h1M63.8,330.2h1M106.4,349.1h1M79.4,339.4h1M109.9,313.0h1M120.1,309.9h1M77.9,275.2h1M72.7,328.9h1M106.3,308.3h1M121.0,329.8h1M90.7,341.6h1M130.4,342.6h1M126.4,300.3h1M171.4,364.1h1M61.5,393.3h1M127.4,360.2h1M88.5,359.5h1M141.2,324.3h1M114.0,293.3h1M89.4,317.4h1M98.6,318.8h1M128.0,370.2h1M83.3,339.3h1M75.1,302.5h1M124.9,328.0h1M110.8,334.0h1M137.3,360.3h1M133.8,316.0h1M92.2,282.5h1M47.8,340.7h1M127.3,333.0h1M95.7,368.9h1M114.3,335.8h1M120.7,366.7h1M83.7,309.1h1M123.3,323.7h1M125.1,310.3h1M142.7,342.7h1M124.9,329.0h1M112.3,327.9h1M115.3,334.0h1M98.6,295.7h1M121.2,374.2h1M105.0,337.8h1M150.3,325.7h1M75.2,358.5h1M98.9,315.5h1M89.4,325.0h1M111.7,316.3h1M123.3,306.5h1M124.9,305.6h1M133.5,349.9h1M136.7,357.0h1M158.9,304.8h1M89.9,321.1h1M105.0,380.1h1M99.0,331.9h1M90.0,338.6h1M149.7,328.0h1M105.4,357.6h1M161.7,373.8h1M130.2,330.3h1M92.8,302.3h1M109.0,338.8h1M77.1,345.8h1M151.6,341.6h1M90.9,390.4h1M66.1,316.2h1M111.6,351.8h1M129.9,339.4h1M139.0,342.3h1M135.5,333.3h1M88.7,349.6h1M125.5,336.8h1M131.4,346.6h1M117.5,345.2h1M83.9,284.7h1M163.1,325.2h1M66.5,275.3h1M121.1,346.5h1M88.1,358.9h1M81.5,358.7h1M147.2,354.9h1M134.9,372.9h1M139.5,345.4h1M79.2,296.1h1M136.3,312.8h1M108.0,359.7h1M158.9,337.0h1M92.7,362.5h1M100.3,283.1h1M93.2,310.8h1M132.2,385.6h1M70.7,337.2h1M116.5,336.7h1"/><path stroke="#0099ff" stroke-width="1" d="M44.9,335.4h1M92.6,337.9h1M96.3,335.8h1M89.6,358.0h1M67.4,333.4h1M84.1,348.3h1M112.8,305.7h1M93.9,387.5h1M127.6,341.6h1M79.3,329.0h1M112.0,349.8h1M66.1,362.5h1M72.8,327.3h1M105.8,363.5h1M93.6,303.0h1M92.9,330.5h1M98.8,333.2h1M102.1,291.0h1M89.5,368.2h1M132.3,370.5h1M58.4,375.7h1M113.0,324.0h1M98.5,348.9h1M120.7,292.8h1M108.6,296.0h1M77.5,302.2h1M145.1,333.8h1M93.5,333.8h1M99.9,291.1h1M149.4,294.8h1M121.4,350.1h1M125.5,352.9h1M96.6,300.1h1M87.7,327.0h1M110.1,312.3h1M65.7,336.3h1M72.1,357.3h1M85.1,360.5h1M99.1,372.5h1M138.8,309.3h1M77.1,347.3h1M105.4,374.2h1M133.2,308.8h1M80.9,312.3h1M133.7,302.9h1M115.0,332.4h1M63.5,335.5h1M97.1,287.2h1M77.9,354.4h1M109.2,373.6h1M125.2,293.3h1M111.3,340.3h1M132.2,339.2h1M171.7,324.6h1M142.2,326.5h1M129.5,307.5h1M105.5,309.1h1M144.7,353.9h1"/><path stroke="#a0e0ff" stroke-width="1" d="M136.1,340.2h1M128.9,343.0h1M95.3,348.4h1M139.7,314.8h1M112.8,315.1h1M94.0,345.1h1M96.9,310.9h1M91.8,319.4h1M114.5,296.2h1M109.0,337.7h1M116.4,349.3h1M96.0,309.6h1M59.8,364.1h1M105.2,305.5h1M94.4,371.7h1M109.9,365.3h1M119.4,332.8h1M91.2,303.2h1M93.2,294.0h1M77.2,319.1h1M154.8,319.0h1M133.6,334.7h1M103.4,300.8h1M78.7,355.7h1M90.0,339.5h1M116.6,339.1h1M120.6,331.3h1M125.7,349.4h1M114.5,310.4h1M105.2,337.3h1M126.1,372.4h1M74.8,323.7h1M100.4,340.1h1M125.8,358.5h1M147.5,368.4h1M103.0,327.1h1M136.1,313.5h1M107.0,346.2h1M168.1,316.3h1M98.4,339.0h1M110.2,306.9h1M116.8,273.5h1M80.1,324.7h1M126.8,314.3h1M96.5,329.6h1M132.3,307.5h1M97.8,362.3h1M112.4,298.7h1M82.5,365.3h1M81.5,340.0h1M130.1,358.5h1M111.6,342.6h1M69.3,298.0h1M121.1,316.9h1M92.8,285.0h1M115.8,340.5h1M132.5,376.1h1M112.6,358.2h1M96.5,364.4h1M79.5,341.6h1M74.2,361.0h1M95.4,344.6h1M117.2,338.9h1M83.3,329.6h1M67.5,331.9h1M84.3,353.5h1M107.7,302.9h1M109.4,301.5h1M126.1,352.8h1M100.0,328.9h1M88.1,347.5h1M94.6,327.0h1M125.8,301.6h1M89.0,319.3h1M120.0,312.9h1M124.3,312.4h1M132.8,354.4h1M92.9,335.2h1M119.1,332.9h1M81.6,324.4h1M128.3,313.0h1M114.4,324.4h1M141.7,340.3h1M88.0,324.1h1M67.3,322.3h1M95.6,366.4h1M99.0,348.9h1M149.3,322.3h1M101.0,304.6h1M97.3,360.8h1M84.7,341.4h1M88.5,316.5h1M78.4,338.1h1M118.6,371.1h1M115.0,302.9h1M115.7,306.2h1M78.8,368.3h1M109.8,359.4h1M98.6,314.6h1M89.3,318.1h1M74.7,361.2h1M131.7,316.3h1M66.0,325.9h1M138.0,320.7h1M103.4,362.0h1M156.8,299.5h1M103.1,327.0h1M116.5,345.4h1M114.7,297.2h1M111.6,328.2h1M109.3,324.9h1M117.4,368.4h1M80.2,335.8h1M113.3,326.8h1M91.7,326.8h1M101.5,342.2h1M105.9,347.1h1M66.6,315.6h1M100.1,319.9h1M80.8,338.2h1M109.1,310.1h1M92.7,356.1h1M101.8,340.3h1M117.3,344.1h1M119.3,310.2h1M123.1,337.7h1M125.8,330.5h1M136.7,360.2h1M102.9,321.9h1M93.4,330.5h1M128.8,312.2h1M97.4,318.6h1M93.4,344.2h1"/><path stroke="#50c8ff" stroke-width="1" d="M97.2,346.9h1M103.9,361.3h1M90.3,332.0h1M105.6,360.3h1M91.6,382.7h1M141.1,316.8h1M148.1,316.1h1M121.3,376.5h1M102.6,370.0h1M102.0,351.7h1M118.0,353.6h1M90.1,322.3h1M79.1,323.8h1M99.4,284.8h1M69.9,318.8h1M122.7,338.8h1M112.1,341.5h1M137.7,364.8h1M71.6,292.9h1M135.3,345.1h1M85.9,379.1h1M106.0,359.2h1M67.4,346.7h1M127.3,312.7h1M96.1,340.8h1M135.5,349.2h1M95.9,326.5h1M118.5,329.9h1M87.5,313.0h1M122.6,344.3h1M109.1,299.4h1M108.3,313.6h1M112.2,337.0h1M102.1,268.1h1M168.3,356.3h1M106.9,337.8h1M102.8,348.9h1M149.0,355.3h1M71.4,341.0h1M150.4,299.5h1M149.4,346.6h1M110.3,369.2h1M145.3,319.0h1M81.5,375.9h1M66.5,348.5h1M106.2,328.9h1M72.9,309.3h1M159.4,330.2h1M99.6,301.2h1M127.9,338.8h1M160.3,326.8h1M100.6,361.1h1M140.7,343.6h1M101.7,291.0h1M85.0,297.6h1M104.1,351.0h1M103.6,290.6h1M115.2,291.5h1M122.8,355.5h1M128.1,344.0h1M98.6,382.1h1M96.4,341.8h1M104.0,362.5h1M113.8,346.1h1M114.3,300.1h1M72.4,291.3h1M143.0,338.6h1M114.2,305.8h1M89.9,363.2h1M111.8,350.6h1M83.3,339.5h1M84.9,375.6h1M142.6,355.0h1M121.5,356.3h1M98.3,347.5h1M92.8,314.9h1M153.5,286.4h1M91.4,334.2h1M91.7,382.6h1M113.0,311.4h1M72.9,331.1h1M93.1,317.7h1M102.5,382.9h1M88.7,361.3h1M129.2,360.4h1M60.7,324.9h1M113.6,336.0h1M98.8,328.0h1M63.9,335.6h1M73.6,368.3h1M134.9,325.8h1M84.0,346.7h1M106.1,353.7h1M123.5,290.8h1M117.0,326.0h1M94.3,318.9h1M86.7,339.6h1M71.4,339.3h1M75.3,347.0h1M128.0,359.5h1M135.5,298.6h1M110.7,339.1h1M88.4,349.2h1M104.7,299.4h1M81.6,329.1h1M90.6,332.9h1M154.9,336.0h1M110.4,334.1h1M89.8,327.5h1M92.0,333.8h1M88.8,331.7h1M128.0,299.4h1"/><path stroke="#0080ff" stroke-width="1" d="M167.1,362.3h1M120.5,307.6h1M92.7,313.6h1M159.5,355.9h1M88.1,333.5h1M104.2,324.0h1M116.5,306.1h1M84.2,339.2h1M152.6,311.6h1M116.9,301.0h1M97.6,306.5h1M98.7,321.5h1M145.9,356.3h1M120.3,344.6h1M115.8,300.1h1M108.4,331.5h1M127.4,285.8h1M123.0,319.4h1M127.4,346.8h1M108.2,332.7h1M91.4,296.5h1M87.7,339.5h1M136.9,339.1h1M92.6,352.8h1M69.1,337.0h1M124.5,364.2h1M60.0,339.3h1M148.8,327.8h1M136.0,323.8h1M106.8,327.6h1M136.0,323.3h1M115.9,344.4h1M118.6,347.3h1M154.7,317.4h1M97.5,342.1h1M120.2,318.8h1M106.9,359.3h1M84.8,325.1h1M145.5,311.4h1M80.1,350.3h1M112.3,314.9h1M63.0,363.6h1M78.9,335.3h1M141.5,332.8h1M62.6,357.6h1M134.4,344.5h1M93.5,333.1h1M57.1,345.9h1M110.2,342.3h1M101.3,303.2h1M91.0,350.1h1M99.1,340.2h1M127.1,303.1h1"/><path stroke="#0066ff" stroke-width="1" d="M78.0,307.3h1M103.2,359.6h1M78.2,313.9h1M77.0,335.5h1M86.1,368.8h1M81.3,374.7h1M143.7,341.8h1M112.9,352.8h1M79.2,339.9h1M111.4,381.3h1M91.6,298.1h1M116.4,353.5h1M117.6,335.0h1M71.3,283.2h1M110.2,374.1h1M74.8,307.4h1M62.1,337.8h1M125.1,348.3h1M71.2,348.6h1M55.9,338.3h1M98.2,298.2h1M75.2,335.2h1M55.9,334.4h1M149.4,362.7h1M87.5,312.5h1M162.7,365.7h1M95.0,322.6h1M127.4,297.2h1M64.9,294.7h1M68.8,354.0h1M87.4,352.3h1M109.5,331.7h1M97.4,280.3h1M101.7,323.4h1M102.8,339.6h1M85.1,333.0h1M130.6,369.1h1M143.2,380.5h1M164.9,332.0h1M66.9,361.8h1M130.4,344.2h1M78.4,334.5h1M95.2,349.4h1M106.6,390.8h1M69.6,354.2h1M139.3,311.5h1M171.6,351.3h1M100.7,364.7h1M141.3,368.4h1M98.2,308.6h1M138.4,318.3h1M112.8,328.6h1M91.4,303.6h1M85.5,334.3h1M104.9,340.2h1M88.2,331.3h1M114.3,268.2h1M119.4,342.3h1M153.8,324.6h1M133.5,375.0h1M91.4,315.5h1M80.6,348.4h1M143.8,297.7h1M109.0,351.3h1M96.0,302.5h1M146.4,362.2h1M134.6,350.0h1M100.0,331.4h1M109.1,315.3h1M87.5,330.2h1M73.8,370.4h1M115.8,277.0h1M108.0,349.3h1M96.5,325.0h1M82.7,300.2h1M179.7,334.2h1M93.2,296.2h1M122.4,336.9h1M72.6,349.5h1M84.9,349.0h1M131.9,292.9h1M83.3,363.4h1M122.0,342.2h1M125.1,339.7h1M80.5,331.7h1"/></g>
<circle cx="105.9" cy="333.5" r="83.6" fill="none" stroke="#dc3048" stroke-width="1.1" stroke-dasharray="3.5 2.8"/>
<line x1="105.9" y1="333.7" x2="189.5" y2="333.7" stroke="#d02a48" stroke-width="1.3"/>
<text class="rt" x="129.0" y="328.8">r=185</text>
<text class="pl" x="18.900000000000002" y="257.0" fill="#fff" stroke="#00008c" stroke-width="0.3">(c)</text>
<rect x="177.0" y="423.6" width="24.7" height="3.6" fill="#fff"/>
<text class="sb" x="189.3" y="418.4" text-anchor="middle">300µm</text>
<rect x="215.3" y="229.8" width="13.4" height="207.4" fill="url(#jet)" stroke="#000" stroke-opacity="0.35" stroke-width="0.5"/>
<text class="cb" x="230.6" y="440.8">0</text>
<line x1="227.20000000000002" y1="398.9" x2="228.70000000000002" y2="398.9" stroke="#262626" stroke-width="0.6"/><text class="cb" x="230.6" y="402.5">200</text>
<line x1="227.20000000000002" y1="360.6" x2="228.70000000000002" y2="360.6" stroke="#262626" stroke-width="0.6"/><text class="cb" x="230.6" y="364.2">400</text>
<line x1="227.20000000000002" y1="322.3" x2="228.70000000000002" y2="322.3" stroke="#262626" stroke-width="0.6"/><text class="cb" x="230.6" y="325.9">600</text>
<line x1="227.20000000000002" y1="284.0" x2="228.70000000000002" y2="284.0" stroke="#262626" stroke-width="0.6"/><text class="cb" x="230.6" y="287.6">800</text>
<line x1="227.20000000000002" y1="245.7" x2="228.70000000000002" y2="245.7" stroke="#262626" stroke-width="0.6"/><text class="cb" x="230.6" y="249.3">1000</text>
</g>
<g id="panel-e">
<rect x="2.7" y="462.0" width="206.9" height="207.8" fill="#00008c"/>
<circle cx="106.2" cy="565.9" r="73.4" fill="url(#ge)"/>
<g filter="url(#bl)" fill="none"><path stroke="#0000b2" stroke-width="1" d="M67.8,612.1h1M83.4,569.4h1M86.8,592.3h1M80.2,501.9h1M123.8,604.9h1M112.8,503.6h1M68.7,532.3h1M67.3,561.5h1M115.8,603.2h1M149.6,552.8h1M131.6,600.8h1M97.6,584.9h1M44.6,544.7h1M59.9,584.4h1M88.0,612.3h1M125.9,529.4h1M59.8,573.2h1M115.3,601.6h1M120.4,516.8h1M81.1,581.4h1M70.3,571.8h1M143.1,523.9h1M55.7,571.6h1M66.1,593.3h1M71.9,580.0h1M97.8,598.0h1M141.2,554.7h1M87.2,632.6h1M59.3,581.8h1M95.3,532.1h1M112.8,553.6h1M68.6,561.9h1M105.4,542.4h1M80.1,564.5h1M102.6,567.7h1M99.5,609.9h1M94.9,595.6h1M146.3,566.7h1M103.5,579.3h1M139.7,527.6h1M90.0,508.5h1M43.7,547.2h1M79.9,522.2h1M90.6,597.2h1M68.7,515.5h1M121.3,561.1h1M85.5,581.2h1M145.3,521.0h1M113.8,549.9h1M77.1,517.6h1M109.9,579.0h1M100.5,572.6h1M80.6,567.5h1M92.2,535.2h1M69.5,570.4h1M53.7,598.8h1M108.7,574.9h1M146.4,579.1h1M169.8,564.7h1M80.7,576.4h1M89.0,577.8h1M115.0,608.4h1M94.8,514.0h1M122.5,557.8h1M137.0,609.8h1M62.7,542.3h1M115.8,602.9h1M65.2,536.5h1M136.5,549.0h1M132.2,582.9h1M81.7,555.3h1M132.7,606.8h1M97.9,557.4h1M124.3,592.6h1M54.8,572.0h1M142.8,514.4h1M42.4,562.1h1M149.8,537.2h1M141.4,557.3h1M75.7,545.3h1M59.9,587.6h1M102.4,586.6h1M86.6,554.5h1M99.2,537.2h1M43.9,596.8h1M99.3,561.3h1M156.6,586.5h1M120.0,545.2h1M69.5,525.9h1M157.6,564.6h1M107.4,557.7h1M122.2,579.4h1M147.8,550.9h1M55.7,599.8h1M160.7,584.6h1M122.6,583.6h1M101.1,545.6h1M69.6,553.9h1M123.1,555.3h1M133.7,562.8h1M83.1,563.6h1M159.6,606.4h1M93.1,570.8h1M85.5,565.1h1M149.9,586.6h1M138.5,530.3h1M127.8,555.7h1M131.7,510.9h1M112.0,549.4h1M86.8,553.5h1M159.8,558.1h1M146.3,544.1h1M121.1,534.9h1M84.0,524.8h1M94.8,565.6h1M168.7,544.8h1M99.4,592.9h1M110.8,544.1h1M80.6,522.4h1M79.2,598.6h1M61.3,560.3h1M135.8,555.2h1M145.5,550.6h1M134.3,567.9h1M116.0,575.7h1M69.0,564.0h1M111.3,521.8h1M89.8,533.6h1M88.7,559.9h1M63.4,577.3h1M131.0,529.5h1M139.0,521.9h1M94.9,592.1h1M136.3,623.4h1M85.8,560.5h1M66.2,609.7h1M99.8,612.9h1M92.4,614.2h1M104.9,588.5h1M91.2,540.6h1M124.0,576.5h1M144.8,608.3h1M80.5,557.3h1M50.1,556.2h1M161.8,574.9h1M135.9,521.5h1M130.4,607.0h1M91.9,559.6h1M71.7,557.6h1M99.5,565.6h1M60.3,617.7h1M89.2,542.0h1M68.5,563.9h1M100.6,582.4h1M53.9,541.9h1M87.7,592.4h1M129.5,609.2h1M93.9,613.2h1M125.3,589.4h1M168.3,583.4h1M91.1,596.6h1M108.2,597.1h1M135.7,610.9h1M130.2,567.7h1M82.4,561.9h1M87.8,532.0h1M122.4,548.9h1M82.5,563.1h1M158.0,588.5h1M122.9,552.0h1M90.4,586.6h1M73.3,548.8h1M71.6,578.7h1M58.0,565.2h1M146.5,569.1h1M106.3,587.2h1M93.8,579.0h1M65.0,581.9h1M59.3,604.7h1M148.2,562.4h1M103.4,534.2h1M115.6,543.8h1M91.8,616.2h1M110.6,534.2h1M123.8,527.7h1M106.1,585.0h1M153.5,585.0h1M75.0,623.3h1M68.7,597.6h1M164.6,542.5h1M82.5,562.9h1M86.8,533.5h1M126.8,609.2h1M131.1,577.2h1M83.5,581.3h1M70.1,527.3h1M72.6,533.2h1M77.5,528.7h1M126.1,541.0h1M93.6,577.0h1M170.3,563.6h1M146.0,549.7h1M117.6,558.1h1M81.1,568.2h1M120.3,573.8h1M113.3,607.0h1M132.6,570.9h1M57.9,559.0h1M131.8,618.7h1M119.6,575.8h1M110.0,594.4h1M65.5,576.9h1M96.6,506.5h1M131.0,551.9h1M142.7,578.0h1M149.2,575.0h1M114.4,606.7h1M114.0,535.6h1M99.2,586.3h1M93.2,532.1h1M155.3,588.1h1M73.5,585.3h1M133.4,536.7h1M134.4,597.8h1M139.6,530.9h1M102.6,554.0h1M122.0,528.0h1M158.2,557.7h1M105.0,594.7h1M136.6,587.5h1M86.5,545.9h1M134.1,571.6h1M135.7,529.1h1M101.7,518.1h1M145.2,562.0h1M140.3,611.0h1M126.9,605.6h1M114.3,573.7h1M149.3,595.4h1M96.8,587.3h1M50.6,591.6h1M146.3,567.0h1M60.3,549.4h1M135.3,526.1h1M55.8,596.8h1M143.5,517.4h1M119.2,525.8h1M103.8,570.6h1M80.1,553.9h1M76.7,563.8h1M85.4,570.0h1M157.7,576.8h1M90.0,563.4h1M82.9,554.6h1M142.9,558.5h1M84.4,610.7h1M85.2,535.5h1M147.4,558.0h1M86.5,588.6h1M60.2,542.4h1M128.2,554.0h1M74.8,573.6h1M69.5,576.8h1M58.8,575.9h1M100.2,522.3h1M126.2,566.2h1M134.0,524.5h1M139.9,508.6h1M157.0,598.6h1M80.7,524.7h1M149.6,534.3h1M81.7,614.8h1M55.0,553.9h1M95.3,497.8h1M65.7,583.7h1M88.2,566.3h1M48.7,558.0h1M159.8,585.5h1M122.2,583.6h1M140.5,560.7h1M111.2,539.1h1M121.3,593.6h1M149.1,546.6h1M66.2,552.6h1M144.1,581.7h1M119.7,556.4h1M56.7,549.9h1M75.6,628.1h1M66.5,589.6h1M120.1,602.6h1M108.5,604.8h1M145.7,557.3h1M81.2,592.9h1M79.1,574.3h1M148.4,613.3h1M170.7,578.2h1M122.5,563.8h1M59.7,556.2h1M94.5,514.8h1M72.7,549.6h1M148.1,570.9h1M114.8,588.8h1M131.7,571.5h1M134.0,543.9h1M108.4,546.9h1M45.9,577.3h1M103.1,604.3h1M137.3,606.2h1M142.2,536.6h1M131.8,588.0h1M129.4,586.0h1M95.3,558.5h1M66.7,560.7h1M98.5,571.7h1M130.1,541.1h1M125.8,579.8h1M70.8,598.9h1M68.8,588.1h1M84.0,582.4h1M65.4,529.3h1M102.8,615.5h1M94.2,582.2h1M50.9,549.5h1M110.0,528.5h1M77.6,602.8h1M101.9,509.8h1M150.1,570.6h1M104.2,577.4h1M83.8,562.7h1M90.4,571.4h1M137.6,547.9h1M65.9,564.9h1M47.0,571.2h1M147.6,555.3h1M125.8,566.3h1M73.4,559.2h1M144.7,526.8h1M84.1,520.2h1M118.2,580.3h1M79.0,616.1h1M132.6,568.7h1M120.0,566.6h1M147.8,589.9h1M122.4,568.1h1M146.7,544.4h1M79.8,506.5h1M112.6,506.0h1M80.2,529.3h1M113.6,548.6h1M69.5,582.7h1M112.2,530.0h1M149.1,544.9h1M85.3,543.3h1M67.1,595.9h1M64.8,596.7h1M166.2,556.7h1M45.6,560.2h1M171.8,558.9h1M70.6,598.6h1M151.6,545.3h1M156.0,568.4h1M80.3,573.2h1M160.2,567.0h1M101.6,543.2h1M144.1,542.0h1M131.3,587.2h1M108.4,562.9h1M128.2,530.2h1M57.7,549.9h1M62.5,573.2h1M154.2,602.6h1M95.9,541.0h1M126.1,598.3h1M133.3,616.4h1M80.8,510.0h1M117.8,597.5h1M130.5,517.1h1M115.0,540.9h1M153.5,535.9h1M126.0,508.7h1M42.3,552.7h1M100.0,514.6h1M131.9,604.0h1M70.3,591.2h1M73.9,605.6h1M111.6,560.1h1M122.2,630.3h1M138.4,524.6h1M78.1,584.4h1M76.6,601.4h1M108.8,605.7h1M125.6,593.1h1M70.8,565.7h1M71.2,599.2h1M56.2,594.3h1M110.2,562.5h1M80.3,572.5h1M79.7,621.7h1M110.3,566.8h1M66.7,578.4h1M61.0,596.0h1M66.6,566.4h1M75.0,537.4h1M83.3,599.0h1M121.8,618.7h1M81.8,567.7h1M108.9,566.7h1M99.0,534.4h1M132.9,535.4h1M132.0,563.6h1M139.5,591.1h1M99.8,523.9h1M61.5,589.9h1M83.2,564.8h1M150.3,567.9h1M114.9,531.5h1M143.5,590.0h1M60.3,546.9h1M131.7,563.9h1M120.1,556.9h1M116.8,510.9h1M137.0,557.6h1M102.4,518.3h1M120.0,595.6h1M85.6,623.9h1M81.0,586.2h1M169.9,565.6h1M94.8,575.6h1M99.0,551.6h1M86.5,576.0h1M83.3,554.1h1M75.2,566.9h1M111.0,601.5h1M87.5,547.3h1M69.0,515.2h1M108.1,496.4h1M116.1,578.5h1M91.4,598.5h1M102.1,541.7h1M96.6,604.8h1M94.7,562.2h1M79.5,610.7h1M43.7,561.1h1M111.7,550.9h1M43.9,538.0h1M99.5,523.7h1M84.5,518.0h1M126.5,611.1h1M123.3,551.8h1M107.6,556.8h1M116.3,606.3h1M98.2,511.2h1M79.7,597.5h1M82.2,610.8h1M106.4,529.4h1M138.7,526.1h1M39.6,582.5h1M80.1,567.6h1M69.5,548.1h1M65.8,560.7h1M136.9,536.8h1M94.7,576.8h1M106.9,512.2h1M155.3,581.3h1M72.4,560.1h1M42.3,587.2h1M160.2,566.7h1M73.7,569.6h1M117.1,550.1h1M111.3,613.3h1M54.7,577.5h1M130.7,624.0h1M140.7,626.7h1M93.7,607.6h1M74.3,541.9h1M69.0,537.6h1M73.8,574.6h1M87.2,558.5h1M115.5,592.7h1M117.4,607.3h1M165.3,573.4h1M68.0,596.8h1M78.3,597.5h1M85.6,524.9h1M61.7,597.0h1M61.7,576.5h1M108.1,533.1h1M42.5,576.4h1M92.7,574.8h1M105.4,581.4h1M98.2,524.6h1M139.4,596.4h1M56.4,541.7h1M87.0,589.5h1M166.8,567.5h1M73.1,577.0h1M99.5,554.7h1M143.1,547.1h1M91.5,548.7h1M92.8,519.0h1M101.3,519.9h1M127.8,621.5h1M69.6,614.2h1M120.3,608.5h1M65.6,562.5h1M145.3,608.9h1M129.5,616.9h1M124.6,600.2h1M67.0,608.7h1M52.5,548.8h1M129.3,551.6h1M52.8,584.8h1M163.9,558.6h1M132.0,570.0h1M50.7,595.6h1M70.6,611.2h1M83.0,600.0h1M131.3,607.7h1M95.0,633.7h1M93.8,545.9h1M141.8,581.4h1M148.8,614.2h1M116.9,586.2h1M144.1,589.7h1M74.3,601.0h1M150.8,587.6h1M101.1,517.9h1M82.6,560.8h1M142.5,591.3h1M97.5,586.4h1M49.9,604.4h1M149.7,590.7h1M108.1,594.6h1M56.1,557.9h1M60.9,578.9h1M102.4,567.3h1M85.8,579.2h1M81.9,590.4h1M45.3,541.6h1M164.7,527.8h1M51.0,523.6h1M136.2,542.9h1M116.4,591.1h1M85.9,583.2h1M42.1,565.1h1M93.8,575.5h1M64.3,533.9h1M54.8,551.1h1M113.2,580.4h1M159.0,593.7h1M104.9,603.8h1M137.7,594.2h1M71.8,547.9h1M94.3,601.5h1M73.5,548.1h1M108.5,574.3h1M156.8,568.2h1M140.2,553.3h1M127.6,557.9h1M57.0,574.1h1M91.0,531.0h1M101.8,584.9h1M103.6,568.3h1M138.0,545.2h1M76.8,549.1h1M108.5,595.7h1M146.7,569.1h1M127.2,556.5h1M82.0,527.9h1M125.0,543.5h1M150.0,519.1h1M75.3,578.0h1M138.3,551.8h1M154.3,526.0h1M129.7,584.4h1M81.5,605.4h1M133.6,543.9h1M106.0,585.7h1M81.6,568.4h1M142.1,563.3h1M135.1,517.7h1M155.2,548.7h1M121.7,523.6h1M85.5,537.8h1M114.1,518.9h1M98.6,582.0h1M121.9,585.0h1M59.4,571.7h1M52.4,585.7h1M101.9,558.9h1M92.4,543.3h1M140.8,605.3h1M135.1,512.9h1M140.9,609.6h1M81.3,556.0h1M45.6,571.1h1M71.1,568.3h1M113.1,559.4h1M134.8,563.2h1M75.0,559.8h1M134.3,607.0h1M56.0,540.3h1M136.1,563.8h1M56.0,562.4h1M108.2,572.9h1M47.9,542.3h1M77.8,590.6h1M98.9,558.7h1M86.9,587.5h1M97.6,591.2h1M107.7,578.1h1M86.4,588.0h1M106.1,552.9h1M82.4,573.8h1M105.8,526.0h1M56.6,551.1h1M46.7,561.5h1M129.2,552.8h1M69.0,564.1h1M70.7,621.8h1M130.6,555.8h1M104.2,618.0h1M151.2,580.2h1M144.2,519.6h1M106.4,534.5h1"/><path stroke="#0000b2" stroke-width="1.4" d="M64.5,575.5h2M155.7,568.7h2M132.5,549.0h2M78.9,573.4h2M118.0,599.7h2M147.0,510.2h2M97.7,580.7h2M97.1,531.3h2M128.6,539.8h2M151.6,584.5h2M130.7,569.7h2M89.9,580.6h2M144.2,509.2h2M103.9,599.1h2M106.6,526.9h2M110.0,577.5h2M63.5,605.8h2M86.5,547.6h2M143.1,576.2h2M111.9,571.1h2M97.4,561.3h2M125.6,613.3h2M104.0,545.7h2M152.4,533.3h2M125.8,567.6h2M64.0,610.6h2M69.0,574.6h2M117.4,543.2h2M148.5,526.7h2M150.0,564.7h2M62.2,543.2h2M124.5,565.4h2M148.6,594.0h2M105.7,547.2h2M154.7,541.6h2M122.0,553.5h2M109.9,594.5h2M100.5,515.9h2M131.8,623.0h2M131.9,615.0h2M98.9,542.5h2M137.5,527.4h2M107.2,610.7h2M56.3,518.1h2M137.2,584.8h2M101.3,548.7h2M77.6,570.3h2M121.7,590.4h2M134.6,549.3h2M89.3,587.3h2M119.3,601.4h2M48.9,604.3h2M97.8,554.8h2M111.7,624.2h2M104.6,562.9h2M58.7,591.0h2M142.3,529.9h2M38.9,573.0h2M99.5,524.9h2M93.1,540.8h2M95.2,538.8h2M141.7,592.4h2M131.1,536.0h2M74.8,588.6h2M155.1,526.6h2M101.8,574.4h2M102.3,571.7h2M83.5,519.5h2M57.2,550.2h2M117.3,572.3h2M60.3,577.1h2M135.4,612.2h2M104.1,507.7h2M137.7,536.2h2M130.1,585.3h2M82.0,622.2h2M146.5,518.5h2M94.1,625.9h2M63.8,533.2h2M103.8,580.1h2M87.7,576.2h2M104.3,567.7h2M112.3,616.2h2M98.4,522.9h2M156.6,598.3h2M101.3,529.4h2M124.7,551.7h2M129.5,564.1h2M119.0,545.6h2M105.1,614.7h2M103.0,559.0h2M126.4,605.9h2M43.1,572.3h2M84.1,548.6h2M66.4,563.7h2M90.6,607.1h2M112.7,596.8h2M153.3,534.5h2M81.1,572.4h2M65.3,585.3h2M137.6,530.7h2M147.9,606.9h2M122.7,559.2h2M84.8,591.6h2M124.5,566.5h2M47.5,534.2h2M112.9,571.4h2M111.2,534.0h2M86.8,582.2h2M73.3,611.0h2M134.4,602.3h2M123.1,523.8h2M125.5,560.3h2M102.0,585.1h2M147.8,536.5h2M52.1,549.4h2M92.0,595.8h2M109.6,539.0h2M149.9,573.2h2M135.5,612.0h2M105.5,590.2h2M140.4,578.2h2M99.5,514.5h2M70.8,579.8h2M120.0,551.6h2M98.2,634.3h2M118.7,524.7h2M123.4,610.5h2M60.0,570.5h2M138.1,531.7h2M117.7,580.2h2M111.9,575.7h2M131.8,618.1h2M112.9,506.4h2M164.2,567.2h2M71.0,597.5h2M105.2,524.1h2M126.9,570.4h2M105.4,550.5h2M130.7,522.6h2M144.0,536.8h2M104.2,599.4h2M138.1,592.0h2M115.9,527.8h2M85.0,517.8h2M103.3,582.5h2M131.9,589.4h2M117.4,561.4h2M95.0,594.6h2M125.9,617.0h2M73.0,621.7h2M155.5,522.2h2M149.3,520.0h2M150.2,554.8h2M122.4,538.9h2M83.6,579.1h2M71.3,589.1h2M133.1,538.7h2M59.6,565.7h2M45.2,559.2h2M55.6,520.9h2M137.5,597.2h2M83.2,525.6h2M123.6,591.0h2M124.0,520.9h2M112.9,562.9h2M67.6,533.0h2M37.8,556.9h2M91.7,575.5h2M133.4,574.7h2M149.7,533.4h2M100.3,615.0h2M98.2,519.6h2M122.2,590.4h2M74.7,597.3h2M75.8,623.8h2M91.3,562.9h2M137.9,560.9h2M169.0,583.2h2M131.2,541.1h2M144.2,549.9h2M97.6,566.6h2M66.4,614.6h2M127.8,594.5h2M70.0,522.3h2M113.1,527.3h2M133.7,589.3h2M89.2,550.5h2M92.4,572.7h2M129.8,578.4h2M83.1,586.6h2M71.8,544.6h2M156.0,552.6h2M117.6,612.3h2M103.0,548.0h2M107.3,537.9h2M85.0,603.2h2M158.8,606.6h2M105.4,546.0h2M80.5,601.8h2M103.6,556.5h2M111.6,599.3h2M127.4,564.5h2M79.0,585.3h2M68.0,608.7h2M85.5,573.2h2M80.8,515.4h2M151.4,537.8h2M120.9,533.5h2M148.5,608.9h2M107.9,560.7h2M145.4,600.6h2M111.2,537.6h2M96.7,545.3h2M46.5,579.1h2M53.7,579.3h2M97.2,548.2h2M96.8,592.8h2M133.6,595.8h2M128.5,536.0h2M149.7,576.4h2M139.0,577.0h2M136.7,525.8h2M124.8,563.8h2M95.7,573.2h2M153.0,543.3h2M137.5,518.8h2M85.5,519.2h2M104.8,547.5h2M92.5,571.0h2M113.6,617.8h2M90.4,561.0h2M153.7,585.9h2M109.8,550.7h2M69.8,596.9h2M149.5,562.7h2M146.4,562.5h2M88.3,524.9h2M98.6,509.6h2M53.9,559.7h2M81.1,583.6h2M129.6,618.0h2M97.1,533.7h2M68.3,556.2h2M104.3,560.0h2M164.3,598.5h2M153.5,540.4h2M76.1,579.2h2M79.8,526.7h2M137.8,572.5h2M126.4,574.6h2M113.8,547.6h2M74.9,588.2h2M135.4,516.8h2M87.1,542.5h2M131.2,544.5h2M145.4,557.0h2M87.4,536.3h2M113.7,555.6h2M81.2,507.8h2M98.3,607.6h2M149.7,569.7h2M143.2,571.4h2M115.5,544.2h2M161.0,564.6h2M109.0,533.2h2M91.4,499.2h2M126.6,529.9h2M93.5,586.9h2M142.5,590.6h2M162.2,572.8h2M92.1,532.4h2M60.7,562.7h2M131.2,504.0h2M89.8,612.5h2M161.9,583.9h2M109.4,504.0h2M98.9,541.1h2M57.1,533.6h2M83.4,500.8h2M101.5,532.3h2M112.8,556.8h2M113.8,601.8h2M127.5,520.5h2M85.3,516.2h2M115.4,582.9h2M130.9,507.8h2M95.1,618.0h2M129.1,536.5h2M50.8,550.3h2M90.3,581.4h2M125.7,569.1h2M115.6,545.9h2M100.9,596.9h2M133.3,553.7h2M132.6,608.7h2M69.5,519.8h2M141.0,563.7h2M113.4,618.8h2M83.1,539.2h2M87.6,579.0h2M87.7,502.1h2M90.7,531.0h2M109.8,526.7h2M101.5,606.0h2M82.8,582.0h2M125.6,516.4h2M95.4,599.9h2M124.2,567.8h2M114.8,603.2h2M118.5,584.7h2M90.5,626.4h2M66.4,523.7h2M83.3,553.6h2M131.3,506.7h2M108.9,528.2h2M145.7,558.9h2M147.1,577.9h2M114.6,559.1h2M114.9,630.9h2M109.0,635.2h2M111.1,569.0h2"/><path stroke="#0000cc" stroke-width="1" d="M125.8,609.2h1M124.1,604.6h1M82.4,555.2h1M93.0,578.8h1M120.3,572.3h1M88.7,535.4h1M102.6,604.8h1M115.8,598.3h1M74.0,545.6h1M99.7,530.2h1M83.2,542.7h1M120.1,551.4h1M108.2,594.2h1M120.5,528.1h1M137.2,557.7h1M94.1,596.8h1M94.7,540.0h1M108.6,564.3h1M135.5,547.1h1M142.0,547.2h1M78.4,557.3h1M97.9,593.5h1M130.0,548.3h1M132.4,590.6h1M127.4,559.8h1M70.0,586.7h1M137.5,566.3h1M105.7,587.9h1M142.4,574.9h1M119.9,564.7h1M118.0,579.1h1M121.3,555.6h1M119.3,553.7h1M108.7,547.4h1M83.8,539.1h1M130.5,570.0h1M107.1,532.9h1M119.5,585.0h1M114.1,564.6h1M130.4,580.3h1M143.2,544.4h1M124.2,543.1h1M70.7,583.6h1M89.4,532.6h1M94.0,598.8h1M113.8,583.4h1M95.0,531.2h1M122.3,573.4h1M126.9,585.5h1M96.8,559.6h1M126.8,564.7h1M123.4,595.2h1M128.6,572.7h1M124.1,582.0h1M134.3,567.9h1M57.4,578.6h1M147.7,555.2h1M69.0,590.6h1M111.8,564.3h1M122.3,569.0h1M122.5,599.9h1M90.0,579.3h1M119.9,545.0h1M130.8,560.0h1M98.4,551.0h1M98.9,571.8h1M79.3,552.7h1M115.2,518.7h1M68.6,544.6h1M94.7,579.0h1M93.6,591.0h1M94.9,580.2h1M111.1,548.6h1M83.1,599.7h1M142.5,555.1h1M124.7,558.9h1M93.2,570.8h1M109.0,549.2h1M92.1,568.7h1M119.9,584.5h1M76.2,576.7h1M138.7,563.4h1M110.0,589.6h1M107.7,581.2h1M89.8,549.9h1M74.3,565.1h1M78.2,583.1h1M90.7,532.7h1M119.8,529.2h1M110.3,573.8h1M98.8,562.8h1M84.0,601.1h1M146.5,569.0h1M109.1,574.6h1M73.9,547.9h1M116.4,570.7h1M123.2,595.1h1M106.7,551.5h1M134.5,567.8h1M82.8,602.3h1M119.4,573.9h1M97.8,573.8h1M96.0,580.9h1M95.3,598.5h1M118.7,529.5h1M114.5,544.2h1M140.9,573.9h1M150.5,588.3h1M126.4,590.8h1M71.6,580.6h1M107.3,588.5h1M109.5,558.1h1M134.0,544.7h1M139.7,552.2h1M115.2,593.6h1M121.5,552.0h1M79.8,554.8h1M74.2,571.7h1M90.2,592.4h1M97.4,536.8h1M109.9,598.2h1M127.7,563.1h1M120.6,590.3h1M92.3,561.2h1M127.7,580.9h1M106.6,568.9h1M139.1,585.2h1M92.2,567.7h1M87.0,598.1h1M66.3,558.6h1M99.2,571.3h1M112.8,572.1h1M126.1,587.0h1M74.6,582.3h1M101.9,580.4h1M119.8,532.7h1M89.5,572.7h1M124.8,582.1h1M83.8,551.2h1M122.4,543.7h1M106.3,548.3h1M142.7,581.1h1M102.6,582.3h1M132.9,600.5h1M127.0,563.4h1M114.6,569.2h1M78.3,561.8h1M138.3,571.4h1M121.1,580.4h1M95.5,551.6h1M111.3,556.6h1M110.5,556.6h1M87.9,546.1h1M87.6,532.4h1M112.5,541.7h1M75.9,561.2h1M92.5,574.0h1M104.9,536.3h1M116.5,570.3h1M113.7,572.5h1M121.8,567.5h1M117.9,567.5h1M105.9,580.2h1M140.3,532.6h1M72.5,571.2h1M130.4,537.5h1M126.8,583.8h1M99.2,599.1h1M81.0,552.3h1M101.9,536.3h1M99.6,597.6h1M132.9,551.0h1M87.8,572.6h1M125.4,572.8h1M101.1,576.0h1M66.3,546.3h1M83.2,597.2h1M96.9,563.4h1M84.5,539.3h1M77.7,578.3h1M114.8,555.3h1M62.9,556.2h1M135.6,559.9h1M107.1,564.8h1M71.5,536.3h1M117.7,546.5h1M108.6,568.7h1M124.8,563.9h1M113.1,543.6h1M77.9,556.6h1M90.2,579.5h1M96.8,591.0h1M132.1,593.9h1M115.9,571.8h1M145.6,574.1h1M121.5,574.2h1M99.5,559.2h1M99.8,558.4h1M125.3,578.1h1M126.7,584.7h1M133.9,582.5h1M124.4,548.1h1M111.1,578.1h1M81.6,578.2h1M140.4,545.4h1M147.9,567.5h1M114.4,523.0h1M126.2,576.5h1M145.3,566.1h1M60.9,557.8h1M116.1,531.9h1M61.7,553.5h1M125.9,598.2h1M102.4,568.7h1M96.5,549.1h1M75.9,579.0h1M88.5,570.6h1M118.9,569.1h1M136.0,559.7h1M77.2,530.2h1M83.9,531.8h1M96.0,595.1h1M138.1,582.0h1M84.7,559.8h1M101.2,555.3h1M97.4,536.4h1M123.5,578.0h1M124.4,575.6h1M129.6,587.2h1M82.9,523.8h1M113.4,594.7h1M130.4,559.4h1M92.2,550.4h1M68.1,569.4h1M98.5,580.8h1M119.5,594.8h1M100.8,547.0h1M132.1,535.2h1M137.5,541.2h1M127.0,575.6h1M117.5,540.5h1M84.5,594.4h1M109.1,566.3h1M119.9,541.5h1M132.7,547.3h1M75.5,577.2h1M106.4,538.8h1M122.6,559.7h1M132.6,588.9h1M138.6,556.7h1M75.6,604.4h1M101.6,537.1h1M70.0,545.5h1M115.7,533.9h1M89.9,601.2h1M78.2,558.9h1M102.4,596.7h1M110.7,579.7h1M100.6,568.0h1M123.5,586.1h1M96.6,547.8h1M88.2,542.4h1M94.6,563.2h1M75.3,576.8h1M141.6,527.8h1M95.4,568.2h1M86.4,606.6h1M130.7,590.2h1M109.3,569.5h1M50.3,580.0h1M104.9,587.7h1M128.6,549.2h1M117.1,553.5h1M63.5,573.8h1M98.1,598.5h1M56.8,595.6h1M109.7,612.0h1M138.5,563.2h1M117.1,559.6h1M90.8,561.9h1M154.6,569.7h1M113.6,526.8h1M123.2,593.7h1M141.0,566.6h1M78.4,591.1h1M163.3,559.6h1M81.7,542.7h1M162.8,551.6h1M134.6,532.2h1M109.9,609.8h1M138.0,532.8h1M159.7,588.2h1M114.1,556.8h1M130.9,598.1h1M136.3,548.4h1M101.0,535.4h1M89.5,518.5h1M114.8,545.7h1M112.7,563.9h1M98.1,528.5h1M90.3,580.3h1M73.0,592.8h1M117.0,617.5h1M118.2,612.9h1M142.4,596.0h1M91.8,623.5h1M62.5,548.3h1M143.6,567.2h1M120.2,543.2h1M98.6,581.1h1M88.1,579.0h1M70.3,544.0h1M81.2,599.6h1M95.8,602.5h1M67.1,610.9h1M106.4,498.2h1"/><path stroke="#0000cc" stroke-width="1.4" d="M108.7,554.6h2M77.3,563.9h2M101.5,574.1h2M103.5,601.8h2M127.5,592.4h2M93.5,593.5h2M113.5,596.7h2M131.7,531.3h2M119.9,570.2h2M108.8,597.4h2M109.2,542.7h2M146.5,574.7h2M114.4,553.6h2M123.0,610.7h2M99.8,586.9h2M133.0,558.4h2M148.5,556.4h2M124.0,540.3h2M113.6,551.9h2M80.1,570.0h2M97.2,551.6h2M145.5,574.4h2M126.3,557.4h2M77.2,562.3h2M131.6,564.0h2M102.4,549.7h2M79.7,609.6h2M65.9,563.1h2M134.4,567.3h2M128.1,553.5h2M131.1,569.3h2M118.0,548.1h2M85.6,562.2h2M90.7,567.5h2M116.7,595.3h2M104.2,589.2h2M89.2,536.8h2M102.6,592.4h2M97.5,589.7h2M98.3,525.9h2M110.8,543.8h2M141.6,537.4h2M114.2,569.5h2M123.0,572.8h2M101.8,591.3h2M114.3,526.1h2M123.4,540.2h2M78.7,571.5h2M133.5,562.0h2M145.0,591.0h2M138.1,550.9h2M117.6,565.6h2M100.2,547.1h2M105.5,592.5h2M74.6,568.2h2M91.1,576.6h2M104.6,547.1h2M130.9,544.0h2M92.6,558.0h2M82.4,586.8h2M104.0,550.5h2M101.2,603.1h2M90.6,550.5h2M79.2,578.8h2M88.4,566.1h2M113.8,572.1h2M134.2,553.5h2M79.9,582.1h2M150.8,565.7h2M108.8,596.2h2M88.9,566.4h2M128.9,558.2h2M82.8,598.6h2M89.2,597.8h2M119.8,585.2h2M90.6,572.8h2M92.7,589.7h2M128.5,573.3h2M90.0,524.6h2M126.1,531.1h2M117.8,600.8h2M110.0,530.1h2M131.1,584.0h2M129.6,573.5h2M126.8,588.5h2M78.6,606.0h2M95.2,575.3h2M71.6,594.2h2M114.0,566.1h2M80.1,573.5h2M69.0,547.9h2M106.6,548.0h2M81.7,578.8h2M114.4,574.7h2M75.9,601.7h2M147.0,549.5h2M82.1,577.8h2M84.6,566.7h2M117.5,544.3h2M103.2,545.4h2M100.4,538.8h2M136.0,581.9h2M130.6,539.9h2M118.1,549.5h2M105.5,570.0h2M82.0,546.8h2M115.7,570.3h2M125.0,604.2h2M109.2,549.9h2M135.9,544.4h2M116.7,569.7h2M85.5,554.2h2M74.5,574.2h2M83.9,568.2h2M107.8,517.9h2M117.8,551.0h2M129.4,575.7h2M105.8,549.1h2M107.3,597.1h2M89.8,594.4h2M119.4,556.2h2M119.2,581.7h2M132.2,534.1h2M124.5,587.7h2M131.5,574.5h2M93.8,559.3h2M103.5,551.7h2M116.0,534.4h2M98.5,537.5h2M93.3,594.8h2M101.3,562.2h2M73.6,535.6h2M99.7,537.3h2M71.2,560.0h2M119.6,538.5h2M100.5,594.4h2M74.9,548.7h2M150.0,557.1h2M137.4,590.7h2M95.5,552.9h2M108.7,596.6h2M130.2,528.6h2M94.5,535.2h2M127.8,546.7h2M116.8,518.5h2M134.6,566.5h2"/><path stroke="#000099" stroke-width="1" d="M132.8,567.1h1M96.6,526.5h1M75.0,556.7h1M97.5,562.4h1M146.9,555.0h1M113.6,549.5h1M156.7,611.0h1M79.9,509.6h1M134.8,614.9h1M77.7,591.1h1M80.7,554.2h1M141.7,611.5h1M125.1,547.8h1M106.7,529.4h1M94.5,617.7h1M62.5,534.0h1M95.2,514.7h1M115.9,621.9h1M75.7,582.8h1M47.0,556.1h1M133.4,629.5h1M101.1,566.3h1M87.7,589.5h1M74.4,525.3h1M162.9,598.3h1M84.7,585.5h1M136.0,530.2h1M82.2,575.9h1M61.5,590.7h1M81.3,508.8h1M133.2,623.3h1M84.8,595.7h1M96.0,563.5h1M67.9,507.5h1M88.1,537.3h1M44.8,584.0h1M131.8,553.1h1M167.8,574.6h1M139.5,594.1h1M77.6,543.5h1M67.9,541.8h1M114.5,584.8h1M118.0,534.1h1M75.5,619.2h1M108.3,569.3h1M88.2,618.5h1M134.7,579.7h1M115.0,604.3h1M107.0,585.9h1M167.2,561.9h1M105.9,533.4h1M99.4,557.6h1M121.6,558.5h1M74.9,627.3h1M95.1,574.9h1M110.0,613.3h1M54.4,610.7h1M92.7,538.4h1M135.4,563.4h1M111.8,544.2h1M112.2,496.6h1M84.4,505.7h1M112.0,614.4h1M62.9,515.2h1M124.5,563.3h1M150.9,553.3h1M87.3,574.8h1M126.9,569.6h1M67.4,569.6h1M113.0,632.1h1M147.5,581.0h1M74.7,625.7h1M87.9,514.2h1M125.9,588.3h1M126.0,520.3h1M48.4,561.0h1M104.6,538.9h1M112.8,587.9h1M112.8,584.3h1M47.0,574.2h1M135.0,598.7h1M121.1,607.4h1M120.2,578.8h1M81.8,589.0h1M93.1,611.0h1M113.1,548.8h1M168.2,548.7h1M128.6,563.1h1M78.0,576.3h1M67.9,554.9h1M92.1,549.6h1M138.4,524.2h1M85.7,562.0h1M52.7,594.5h1M71.9,549.4h1M119.1,538.7h1M83.6,504.7h1M84.0,566.6h1M62.6,578.2h1M47.5,543.1h1M93.9,550.6h1M93.3,559.3h1M82.0,612.7h1M107.3,568.6h1M166.1,580.9h1M114.3,554.5h1M111.3,576.6h1M121.0,586.7h1M72.0,526.3h1M90.6,574.8h1M87.8,545.6h1M110.9,526.3h1M86.0,552.8h1M116.6,601.8h1M136.0,596.4h1M99.5,633.1h1M99.7,545.1h1M107.2,514.5h1M128.9,615.0h1M96.5,520.2h1M144.7,586.0h1M105.2,557.3h1M88.1,593.0h1M156.2,547.2h1M96.2,605.1h1M107.3,607.5h1M93.4,616.5h1M117.2,606.2h1M160.4,564.8h1M42.2,556.6h1M107.4,556.3h1M91.7,552.5h1M68.9,532.3h1M142.5,543.6h1M116.8,596.0h1M81.5,556.8h1M53.6,521.4h1M159.9,528.5h1M99.7,502.7h1M119.0,534.2h1M110.4,517.3h1M81.7,528.7h1M145.7,569.6h1M129.8,533.8h1M94.7,531.5h1M40.9,590.5h1M164.7,562.7h1M151.5,599.0h1M160.0,604.2h1M153.7,598.4h1M71.7,601.2h1M59.3,567.2h1M104.2,503.5h1M65.6,547.4h1M106.8,521.0h1M131.5,627.5h1M99.1,585.7h1M140.5,597.7h1M152.2,563.2h1M123.6,622.5h1M60.3,601.9h1M100.1,554.0h1M114.1,533.3h1M78.2,616.5h1M147.2,572.1h1M112.7,534.2h1M92.7,574.8h1M75.5,526.7h1M119.8,548.8h1M83.2,588.6h1M123.0,523.0h1M145.6,532.6h1M43.2,557.5h1M94.1,561.3h1M130.6,527.0h1M111.5,559.6h1M65.5,565.5h1M49.5,566.0h1M165.9,594.7h1M105.6,621.3h1M81.4,624.0h1M120.1,538.5h1M83.4,508.7h1M73.5,578.3h1M148.1,568.7h1M50.8,549.0h1M62.0,527.4h1M86.0,557.3h1M98.1,551.2h1M82.3,532.8h1M97.3,609.2h1"/><path stroke="#0000e6" stroke-width="1" d="M108.3,563.8h1M101.1,550.0h1M98.7,561.3h1M108.0,571.3h1M107.1,549.9h1M111.1,569.3h1M106.1,562.0h1M87.5,564.8h1M117.9,563.0h1M110.3,579.3h1M112.1,576.5h1M101.0,559.2h1M110.4,557.2h1M110.0,561.6h1M86.5,558.5h1M106.4,566.9h1M105.6,573.3h1M89.7,557.5h1M89.9,563.9h1M122.9,572.1h1M103.4,567.0h1M107.9,571.6h1M99.7,568.2h1M115.6,575.8h1M97.2,564.4h1M105.0,582.4h1M108.5,544.4h1M96.8,571.9h1M96.3,574.3h1M90.4,556.6h1M105.1,573.4h1M97.1,549.0h1M95.3,573.6h1M149.4,585.5h1M130.9,538.4h1M125.5,569.7h1M60.8,579.7h1M96.2,583.6h1M103.6,546.0h1M56.6,562.5h1M137.1,597.7h1M81.5,532.8h1M120.0,554.7h1M84.5,567.4h1M116.6,578.8h1M110.6,585.5h1M124.5,528.5h1M109.7,551.9h1M116.4,549.6h1M121.8,556.8h1M91.2,563.2h1M100.2,597.9h1M119.8,552.9h1M152.9,591.3h1M95.0,541.8h1M132.8,562.1h1M113.3,544.4h1M160.6,558.6h1M108.4,595.5h1M147.3,575.0h1M80.1,604.0h1M103.5,548.7h1M131.4,568.9h1M75.7,573.8h1M60.7,588.2h1M103.0,603.1h1M94.8,546.0h1M123.1,590.5h1M138.4,567.0h1M105.4,583.0h1M93.8,582.7h1M133.5,583.5h1M88.7,570.0h1M147.5,576.8h1M122.7,550.1h1M56.6,550.7h1M159.9,585.5h1M68.0,547.9h1M84.7,511.7h1M124.5,601.1h1M102.1,581.4h1M106.3,557.4h1M106.6,574.9h1M114.0,623.0h1M132.8,621.5h1M138.5,571.2h1M61.2,536.6h1M104.2,582.9h1M82.3,531.3h1M106.3,603.2h1M52.5,552.8h1M146.8,595.0h1M95.8,553.8h1M78.3,565.4h1M128.1,542.6h1M109.7,546.8h1M133.9,577.0h1M88.3,563.6h1M87.0,543.7h1M127.6,559.4h1M71.6,561.1h1M111.1,559.5h1M128.9,596.9h1M81.0,606.3h1M110.2,579.1h1M130.8,585.3h1M129.6,548.4h1M150.1,539.1h1M90.2,562.7h1M130.7,587.3h1M94.8,598.6h1M76.1,604.0h1M101.8,582.2h1M87.2,564.1h1M91.9,539.5h1M97.4,597.7h1M87.9,591.0h1M72.6,544.5h1M82.4,585.5h1M133.6,576.7h1M44.8,591.2h1M151.0,600.7h1M106.1,598.7h1M119.0,611.0h1M146.7,572.9h1M126.6,576.7h1M82.8,564.5h1M76.6,583.6h1M70.8,557.5h1M68.2,536.4h1M92.0,574.0h1M93.1,530.8h1M151.7,573.9h1M144.5,602.9h1M107.5,555.6h1M118.1,619.3h1M136.1,547.1h1M142.1,589.9h1M103.6,530.8h1M82.2,523.4h1M138.3,564.9h1M142.1,595.2h1M132.6,571.3h1M97.5,603.6h1M132.5,527.9h1M117.4,573.2h1M86.4,553.9h1"/><path stroke="#000099" stroke-width="1.4" d="M127.8,563.6h2M139.6,591.7h2M69.1,611.0h2M44.1,545.2h2M77.1,586.6h2M95.9,571.0h2M88.1,519.3h2M150.7,527.8h2M57.9,580.9h2M77.8,563.2h2M159.5,608.1h2M156.9,540.7h2M132.3,544.9h2M118.7,506.7h2M54.8,556.1h2M81.8,549.4h2M96.4,549.5h2M115.3,585.3h2M128.6,554.5h2M96.5,503.1h2M47.0,589.4h2M137.2,571.2h2M113.2,617.2h2M69.3,508.1h2M87.3,565.3h2M46.9,585.5h2M100.7,619.6h2M85.5,587.1h2M105.3,546.5h2M94.5,607.0h2M122.5,505.8h2M92.0,533.0h2M115.4,561.1h2M156.3,561.4h2M58.9,558.7h2M129.7,585.5h2M118.2,503.8h2M132.8,579.8h2M96.0,623.5h2M133.7,592.7h2M148.3,616.3h2M128.9,557.7h2M109.1,556.1h2M63.8,578.5h2M72.8,532.4h2M62.5,600.3h2M87.3,601.8h2M143.0,541.3h2M80.9,606.7h2M112.7,631.4h2M81.9,564.0h2M55.8,604.1h2M119.0,594.6h2M157.6,580.2h2M128.5,533.6h2M74.9,566.0h2M119.3,530.4h2M91.7,536.2h2M84.4,612.8h2M49.9,551.7h2M58.1,569.5h2M114.5,635.0h2M160.0,545.1h2M152.9,583.9h2M100.2,505.5h2M169.4,578.0h2M80.2,541.2h2M83.4,557.1h2M66.0,516.5h2M93.7,573.3h2M51.0,542.9h2M89.5,518.7h2M133.7,592.7h2M150.1,541.0h2M111.7,575.6h2M78.2,539.0h2M124.9,617.9h2M41.3,585.7h2M130.7,534.3h2M104.6,569.7h2M152.2,548.6h2M89.9,605.1h2M76.6,522.9h2M85.8,536.1h2M56.6,540.2h2M115.8,600.7h2M56.7,559.1h2M114.2,519.1h2M149.4,540.4h2M88.1,601.6h2M100.4,579.4h2M78.3,525.5h2M93.7,555.8h2M96.0,564.1h2M114.1,529.2h2M87.4,584.7h2M88.7,533.3h2M88.5,544.5h2"/><path stroke="#0000e6" stroke-width="1.4" d="M91.5,554.2h2M83.6,574.5h2M112.8,568.3h2M122.6,571.3h2M89.8,570.4h2M92.4,572.3h2M100.4,561.3h2M107.4,572.2h2M116.2,545.3h2M104.5,568.0h2M104.9,561.1h2M111.1,575.9h2M127.2,570.0h2M115.3,548.6h2M98.4,560.0h2M107.6,554.5h2M109.6,578.2h2M107.0,558.6h2M110.8,571.1h2M109.4,566.3h2M96.5,543.8h2M110.4,553.0h2"/><path stroke="#0000ff" stroke-width="1" d="M122.4,560.9h1M78.8,584.0h1M103.8,583.5h1M106.6,599.2h1M85.2,562.0h1M125.5,615.4h1M113.6,586.7h1M79.8,542.3h1M102.3,571.4h1M89.9,570.7h1M112.7,505.8h1M91.5,529.1h1M88.5,605.4h1M135.9,552.6h1M78.8,540.5h1M72.6,534.9h1M98.7,581.6h1M90.8,576.9h1M126.8,587.0h1M118.6,566.0h1M90.4,555.0h1M122.1,558.5h1M107.1,568.5h1M65.2,558.4h1M146.4,548.0h1M118.6,580.1h1M93.3,571.4h1M106.8,575.5h1M94.7,515.8h1M73.5,566.0h1M109.1,571.8h1M113.3,546.4h1M103.3,586.8h1M96.8,535.2h1M70.8,575.2h1M111.9,533.3h1M109.3,509.0h1M141.1,592.4h1M124.4,532.8h1M103.0,585.3h1M109.2,587.4h1M120.0,559.6h1M70.7,560.5h1M92.8,521.0h1M61.1,586.5h1"/><path stroke="#0066ff" stroke-width="1" d="M126.1,573.7h1M113.5,561.3h1M80.1,585.1h1M121.7,587.6h1M102.0,583.7h1M117.5,552.3h1M118.7,562.7h1"/><path stroke="#0033ff" stroke-width="1" d="M115.8,577.7h1M111.0,596.9h1M89.2,558.7h1M84.0,577.8h1M76.8,564.2h1M127.3,584.9h1M112.3,593.5h1M121.9,566.7h1M100.2,581.5h1M102.6,569.8h1M94.8,592.5h1M140.3,607.2h1M118.0,558.3h1M108.6,575.6h1M96.0,596.3h1M97.3,559.0h1M100.4,566.3h1M105.9,560.6h1M90.4,543.7h1M134.4,601.0h1"/><path stroke="#0019ff" stroke-width="1" d="M91.6,552.5h1M94.3,568.7h1M120.9,535.0h1M98.6,551.6h1M68.4,555.1h1M92.1,539.5h1M123.7,542.9h1M65.2,551.1h1M77.3,528.8h1M117.7,566.6h1M64.4,554.1h1M71.3,569.4h1M88.2,592.1h1M92.5,549.2h1M128.4,547.7h1M122.4,553.0h1M87.2,583.5h1M101.7,577.8h1M102.4,574.2h1M138.2,606.3h1M120.1,540.3h1M100.9,540.6h1M141.2,564.0h1M93.5,549.7h1M81.5,563.7h1M104.1,563.2h1M87.7,562.2h1"/><path stroke="#004dff" stroke-width="1" d="M110.7,572.9h1M80.8,547.5h1M114.3,539.7h1M96.0,580.4h1M125.4,577.1h1M128.0,548.6h1M109.8,583.8h1M114.2,556.7h1M83.0,561.6h1M77.9,573.0h1M105.9,578.6h1M120.2,539.5h1M72.7,550.0h1M110.7,563.1h1M101.0,568.6h1M106.4,582.9h1M102.4,548.2h1M135.9,563.9h1M118.8,524.8h1M113.1,585.5h1M103.4,554.9h1M86.1,560.2h1"/><path stroke="#a0e0ff" stroke-width="1" d="M107.1,574.2h1M113.7,544.9h1"/><path stroke="#50c8ff" stroke-width="1" d="M92.6,588.2h1M92.1,575.8h1M104.0,573.7h1M107.2,568.3h1"/><path stroke="#0080ff" stroke-width="1" d="M115.2,548.6h1M98.7,580.4h1M88.0,546.8h1M78.7,531.6h1M111.9,548.5h1M92.1,606.4h1"/></g>
<circle cx="106.2" cy="565.9" r="68.0" fill="none" stroke="#dc3048" stroke-width="1.1" stroke-dasharray="3.5 2.8"/>
<line x1="106.2" y1="566.1" x2="174.2" y2="566.1" stroke="#d02a48" stroke-width="1.3"/>
<text class="rt" x="129.7" y="561.3">r=150</text>
<text class="pl" x="21.5" y="490.9" fill="#fff" stroke="#00008c" stroke-width="0.3">(e)</text>
<rect x="175.3" y="653.9" width="24.7" height="3.6" fill="#fff"/>
<text class="sb" x="187.60000000000002" y="648.6999999999999" text-anchor="middle">300µm</text>
<rect x="215.1" y="462.0" width="13.0" height="207.8" fill="url(#jet)" stroke="#000" stroke-opacity="0.35" stroke-width="0.5"/>
<text class="cb" x="230.1" y="673.4">0</text>
<line x1="226.6" y1="631.4" x2="228.1" y2="631.4" stroke="#262626" stroke-width="0.6"/><text class="cb" x="230.1" y="635.0">200</text>
<line x1="226.6" y1="593.1" x2="228.1" y2="593.1" stroke="#262626" stroke-width="0.6"/><text class="cb" x="230.1" y="596.7">400</text>
<line x1="226.6" y1="554.7" x2="228.1" y2="554.7" stroke="#262626" stroke-width="0.6"/><text class="cb" x="230.1" y="558.3">600</text>
<line x1="226.6" y1="516.3" x2="228.1" y2="516.3" stroke="#262626" stroke-width="0.6"/><text class="cb" x="230.1" y="519.9">800</text>
<line x1="226.6" y1="477.9" x2="228.1" y2="477.9" stroke="#262626" stroke-width="0.6"/><text class="cb" x="230.1" y="481.5">1000</text>
</g>
<g id="chart-b">
<clipPath id="cpb"><rect x="294.0" y="8.9" width="255.10000000000002" height="188.1"/></clipPath>
<g clip-path="url(#cpb)"><polyline points="294.0,196.5 295.0,190.6 296.0,190.1 297.1,184.6 298.1,183.9 299.1,183.4 300.1,177.1 301.1,173.8 302.2,170.6 303.2,170.1 304.2,169.9 305.2,168.5 306.2,163.8 307.3,164.7 308.3,163.2 309.3,163.4 310.3,161.9 311.3,157.2 312.4,156.0 313.4,154.3 314.4,154.0 315.4,153.1 316.4,152.4 317.5,149.2 318.5,150.8 319.5,151.3 320.5,148.1 321.6,147.5 322.6,144.4 323.6,145.9 324.6,143.1 325.6,145.0 326.7,140.0 327.7,145.7 328.7,142.2 329.7,140.3 330.7,139.8 331.8,140.3 332.8,140.3 333.8,137.2 334.8,139.6 335.8,139.0 336.9,139.2 337.9,138.4 338.9,136.9 339.9,138.4 340.9,137.0 342.0,138.4 343.0,137.9 344.0,137.3 345.0,132.7 346.0,134.6 347.1,133.1 348.1,131.1 349.1,132.0 350.1,131.2 351.1,128.1 352.2,129.4 353.2,130.3 354.2,129.9 355.2,132.5 356.2,125.2 357.3,126.1 358.3,128.8 359.3,125.5 360.3,126.3 361.3,123.7 362.4,129.7 363.4,126.8 364.4,125.0 365.4,123.0 366.4,124.2 367.5,122.8 368.5,122.9 369.5,120.8 370.5,122.8 371.6,122.1 372.6,118.3 373.6,119.8 374.6,118.6 375.6,117.9 376.7,122.0 377.7,118.0 378.7,121.1 379.7,117.8 380.7,117.7 381.8,119.6 382.8,117.1 383.8,118.3 384.8,115.2 385.8,119.6 386.9,114.6 387.9,119.4 388.9,116.9 389.9,120.2 390.9,118.7 392.0,117.0 393.0,122.8 394.0,115.7 395.0,119.3 396.0,117.7 397.1,117.5 398.1,118.2 399.1,118.6 400.1,116.9 401.1,117.1 402.2,115.0 403.2,115.5 404.2,117.1 405.2,114.9 406.2,116.0 407.3,117.8 408.3,120.3 409.3,114.4 410.3,112.7 411.3,117.3 412.4,112.6 413.4,112.9 414.4,109.7 415.4,113.3 416.4,113.2 417.5,111.1 418.5,113.6 419.5,112.8 420.5,110.3 421.6,110.1 422.6,110.5 423.6,110.7 424.6,110.7 425.6,112.4 426.7,112.1 427.7,109.7 428.7,112.5 429.7,108.8 430.7,112.4 431.8,110.3 432.8,112.7 433.8,107.8 434.8,106.9 435.8,110.9 436.9,106.8 437.9,106.7 438.9,108.0 439.9,111.0 440.9,108.5 442.0,109.7 443.0,107.5 444.0,107.6 445.0,104.7 446.0,107.2 447.1,109.1 448.1,110.4 449.1,107.3 450.1,107.8 451.1,107.5 452.2,108.0 453.2,105.8 454.2,106.5 455.2,107.0 456.2,105.9 457.3,106.9 458.3,108.5 459.3,107.8 460.3,105.3 461.3,104.9 462.4,106.9 463.4,107.5 464.4,109.1 465.4,108.8 466.4,106.0 467.5,103.9 468.5,104.6 469.5,108.6 470.5,105.1 471.5,105.3 472.6,103.8 473.6,107.3 474.6,109.6 475.6,108.5 476.7,103.9 477.7,105.4 478.7,105.1 479.7,104.6 480.7,103.9 481.8,102.0 482.8,101.1 483.8,108.2 484.8,104.4 485.8,107.6 486.9,104.5 487.9,105.2 488.9,109.0 489.9,104.4 490.9,101.9 492.0,103.7 493.0,105.4 494.0,103.3 495.0,101.8 496.0,104.3 497.1,100.7 498.1,104.1 499.1,104.6 500.1,104.1 501.1,102.0 502.2,101.9 503.2,103.1 504.2,102.5 505.2,100.7 506.2,103.6 507.3,102.8 508.3,99.7 509.3,100.0 510.3,100.6 511.3,102.5 512.4,102.5 513.4,99.2 514.4,101.7 515.4,98.5 516.4,101.9 517.5,101.2 518.5,101.3 519.5,103.1 520.5,101.9 521.5,102.1 522.6,100.5 523.6,100.5 524.6,100.9 525.6,97.1 526.7,100.4 527.7,100.5 528.7,96.4 529.7,97.5 530.7,98.5 531.8,99.8 532.8,97.7 533.8,98.2 534.8,97.4 535.8,99.2 536.9,100.4 537.9,98.4 538.9,96.6 539.9,96.8 540.9,97.1 542.0,100.3 543.0,100.0 544.0,96.2 545.0,98.4 546.0,98.2 547.1,99.8 548.1,98.0 549.1,97.6" fill="none" stroke="#000" stroke-width="2.0" stroke-linejoin="round"/>
<polyline points="294.0,196.5 295.0,190.0 296.0,191.3 297.1,193.7 298.1,191.9 299.1,179.5 300.1,182.8 301.1,178.2 302.2,196.4 303.2,185.4 304.2,174.6 305.2,165.2 306.2,163.6 307.3,164.5 308.3,157.3 309.3,150.7 310.3,150.7 311.3,143.9 312.4,139.3 313.4,138.9 314.4,129.0 315.4,127.8 316.4,129.1 317.5,123.2 318.5,122.0 319.5,115.8 320.5,118.1 321.6,113.3 322.6,111.5 323.6,108.4 324.6,105.4 325.6,111.0 326.7,103.9 327.7,104.7 328.7,106.9 329.7,103.1 330.7,104.4 331.8,104.0 332.8,97.4 333.8,92.2 334.8,96.6 335.8,94.3 336.9,95.4 337.9,94.3 338.9,95.6 339.9,96.9 340.9,91.5 342.0,97.7 343.0,88.7 344.0,90.9 345.0,87.0 346.0,84.6 347.1,82.7 348.1,85.6 349.1,94.8 350.1,84.3 351.1,86.0 352.2,78.1 353.2,79.5 354.2,80.0 355.2,81.2 356.2,81.1 357.3,79.0 358.3,79.0 359.3,75.4 360.3,68.2 361.3,75.0 362.4,77.1 363.4,70.0 364.4,75.5 365.4,66.0 366.4,74.5 367.5,66.2 368.5,70.2 369.5,74.7 370.5,65.0 371.6,68.6 372.6,65.4 373.6,69.2 374.6,65.1 375.6,68.1 376.7,65.0 377.7,70.6 378.7,60.9 379.7,59.7 380.7,59.9 381.8,55.8 382.8,65.7 383.8,60.6 384.8,63.1 385.8,66.7 386.9,53.9 387.9,57.7 388.9,57.5 389.9,56.1 390.9,57.1 392.0,54.7 393.0,56.7 394.0,60.0 395.0,57.6 396.0,54.7 397.1,59.7 398.1,49.2 399.1,54.7 400.1,54.8 401.1,50.4 402.2,51.4 403.2,56.9 404.2,56.1 405.2,55.1 406.2,47.9 407.3,49.1 408.3,55.3 409.3,54.6 410.3,51.4 411.3,52.3 412.4,46.2 413.4,49.6 414.4,52.7 415.4,48.0 416.4,45.3 417.5,49.7 418.5,47.4 419.5,42.6 420.5,50.0 421.6,53.7 422.6,52.5 423.6,39.6 424.6,49.2 425.6,45.9 426.7,49.8 427.7,48.2 428.7,37.7 429.7,46.0 430.7,48.2 431.8,39.4 432.8,43.4 433.8,48.0 434.8,39.6 435.8,41.9 436.9,42.3 437.9,40.4 438.9,38.7 439.9,36.3 440.9,44.2 442.0,44.6 443.0,39.2 444.0,47.1 445.0,37.1 446.0,37.4 447.1,46.3 448.1,41.8 449.1,42.3 450.1,43.7 451.1,42.0 452.2,40.9 453.2,45.2 454.2,40.1 455.2,45.2 456.2,39.4 457.3,42.1 458.3,40.9 459.3,54.1 460.3,50.0 461.3,37.9 462.4,34.3 463.4,42.6 464.4,38.2 465.4,44.2 466.4,40.0 467.5,44.1 468.5,41.9 469.5,40.4 470.5,33.5 471.5,36.9 472.6,35.5 473.6,31.1 474.6,28.4 475.6,36.1 476.7,31.5 477.7,41.9 478.7,30.6 479.7,36.9 480.7,33.8 481.8,31.7 482.8,37.3 483.8,35.3 484.8,35.3 485.8,40.9 486.9,36.2 487.9,30.2 488.9,34.7 489.9,35.1 490.9,38.3 492.0,28.8 493.0,25.2 494.0,35.9 495.0,33.7 496.0,31.4 497.1,31.0 498.1,32.1 499.1,39.0 500.1,34.1 501.1,32.9 502.2,33.2 503.2,30.3 504.2,31.5 505.2,33.7 506.2,32.9 507.3,27.7 508.3,26.3 509.3,34.6 510.3,36.7 511.3,31.9 512.4,34.2 513.4,31.1 514.4,32.6 515.4,32.9 516.4,30.5 517.5,31.9 518.5,29.6 519.5,36.0 520.5,24.7 521.5,19.6 522.6,35.2 523.6,35.9 524.6,23.4 525.6,30.5 526.7,29.3 527.7,28.9 528.7,34.2 529.7,33.6 530.7,27.7 531.8,36.0 532.8,33.6 533.8,22.1 534.8,30.2 535.8,28.5 536.9,28.0 537.9,29.9 538.9,25.2 539.9,34.4 540.9,36.0 542.0,31.2 543.0,32.4 544.0,30.0 545.0,34.5 546.0,31.4 547.1,39.5 548.1,37.7 549.1,30.5" fill="none" stroke="#f00000" stroke-width="2.0" stroke-linejoin="round"/>
</g>
<rect x="294.0" y="8.9" width="255.1" height="187.6" fill="none" stroke="#000" stroke-width="1.9"/>
<text class="tk" x="294.1" y="212.3" text-anchor="middle">0</text>
<line x1="345.0" y1="196.5" x2="345.0" y2="192.3" stroke="#000" stroke-width="1.6"/><text class="tk" x="345.1" y="212.3" text-anchor="middle">50</text>
<line x1="396.0" y1="196.5" x2="396.0" y2="192.3" stroke="#000" stroke-width="1.6"/><text class="tk" x="396.1" y="212.3" text-anchor="middle">100</text>
<line x1="447.1" y1="196.5" x2="447.1" y2="192.3" stroke="#000" stroke-width="1.6"/><text class="tk" x="447.2" y="212.3" text-anchor="middle">150</text>
<line x1="498.1" y1="196.5" x2="498.1" y2="192.3" stroke="#000" stroke-width="1.6"/><text class="tk" x="498.2" y="212.3" text-anchor="middle">200</text>
<text class="tk" x="549.2" y="212.3" text-anchor="middle">250</text>
<text class="tk" x="289.8" y="200.7" text-anchor="end">0</text>
<line x1="294.0" y1="159.0" x2="298.2" y2="159.0" stroke="#000" stroke-width="1.6"/><text class="tk" x="289.8" y="163.2" text-anchor="end">20</text>
<line x1="294.0" y1="121.5" x2="298.2" y2="121.5" stroke="#000" stroke-width="1.6"/><text class="tk" x="289.8" y="125.7" text-anchor="end">40</text>
<line x1="294.0" y1="83.9" x2="298.2" y2="83.9" stroke="#000" stroke-width="1.6"/><text class="tk" x="289.8" y="88.1" text-anchor="end">60</text>
<line x1="294.0" y1="46.4" x2="298.2" y2="46.4" stroke="#000" stroke-width="1.6"/><text class="tk" x="289.8" y="50.6" text-anchor="end">80</text>
<text class="tk" x="289.8" y="13.1" text-anchor="end">100</text>
<text class="ax" x="385.6" y="226.1" textLength="72" lengthAdjust="spacingAndGlyphs">Generation</text>
<text class="ax" transform="translate(265.4,149.0) rotate(-90)" textLength="102.6" lengthAdjust="spacingAndGlyphs">Enhancement η</text>
<text class="pl" x="312.2" y="33.2" fill="#000">(b)</text>
<line x1="482.1" y1="139.2" x2="505.70000000000005" y2="139.2" stroke="#e01020" stroke-width="1.9"/><line x1="482.1" y1="149.39999999999998" x2="505.70000000000005" y2="149.39999999999998" stroke="#000" stroke-width="1.9"/><text class="lg" x="507.90000000000003" y="142.7">SBR</text><text class="lg" x="507.90000000000003" y="152.6">TPI</text>
</g>
<g id="chart-d">
<clipPath id="cpd"><rect x="293.1" y="237.8" width="254.79999999999995" height="187.39999999999998"/></clipPath>
<g clip-path="url(#cpd)"><polyline points="293.1,424.7 294.1,419.4 295.1,415.7 296.2,414.4 297.2,411.0 298.2,408.3 299.2,402.0 300.2,400.5 301.3,395.2 302.3,394.3 303.3,385.7 304.3,385.1 305.3,386.5 306.3,383.7 307.4,381.5 308.4,380.5 309.4,381.9 310.4,380.7 311.4,378.4 312.5,376.1 313.5,377.3 314.5,376.2 315.5,372.5 316.5,374.6 317.6,374.6 318.6,371.3 319.6,368.0 320.6,370.7 321.6,367.4 322.7,366.6 323.7,368.0 324.7,363.1 325.7,361.5 326.7,363.5 327.8,360.0 328.8,358.5 329.8,356.6 330.8,359.0 331.8,354.5 332.8,350.2 333.9,351.0 334.9,356.5 335.9,352.1 336.9,350.7 337.9,352.3 339.0,351.2 340.0,353.1 341.0,350.2 342.0,351.6 343.0,350.6 344.1,350.3 345.1,350.2 346.1,349.5 347.1,347.3 348.1,350.2 349.2,349.2 350.2,349.5 351.2,346.4 352.2,347.4 353.2,348.3 354.3,343.5 355.3,345.7 356.3,346.4 357.3,345.3 358.3,343.3 359.3,342.1 360.4,347.6 361.4,344.2 362.4,344.8 363.4,342.8 364.4,342.3 365.5,343.0 366.5,341.6 367.5,340.7 368.5,342.3 369.5,340.8 370.6,342.7 371.6,341.8 372.6,342.2 373.6,343.0 374.6,342.4 375.7,339.0 376.7,340.9 377.7,339.9 378.7,342.4 379.7,339.6 380.8,340.2 381.8,340.7 382.8,342.8 383.8,334.1 384.8,339.4 385.8,340.5 386.9,336.9 387.9,337.1 388.9,342.0 389.9,339.1 390.9,341.1 392.0,339.6 393.0,337.6 394.0,339.9 395.0,335.7 396.0,338.7 397.1,339.0 398.1,337.9 399.1,339.0 400.1,337.2 401.1,336.2 402.2,336.0 403.2,334.5 404.2,334.9 405.2,335.6 406.2,336.2 407.3,332.5 408.3,334.8 409.3,333.1 410.3,331.1 411.3,331.3 412.3,334.3 413.4,332.3 414.4,333.6 415.4,327.5 416.4,333.4 417.4,331.0 418.5,330.2 419.5,328.7 420.5,329.9 421.5,325.2 422.5,329.7 423.6,330.7 424.6,329.8 425.6,327.9 426.6,329.6 427.6,330.7 428.7,331.2 429.7,329.5 430.7,332.2 431.7,329.5 432.7,329.5 433.7,327.0 434.8,328.3 435.8,329.1 436.8,329.3 437.8,331.6 438.8,332.1 439.9,332.3 440.9,330.5 441.9,326.5 442.9,325.0 443.9,329.5 445.0,330.4 446.0,330.3 447.0,330.1 448.0,329.7 449.0,326.7 450.1,328.0 451.1,327.1 452.1,329.9 453.1,328.3 454.1,329.9 455.2,327.7 456.2,329.5 457.2,327.4 458.2,328.1 459.2,332.8 460.2,329.3 461.3,333.5 462.3,329.2 463.3,330.8 464.3,329.5 465.3,332.2 466.4,332.7 467.4,329.2 468.4,330.7 469.4,329.9 470.4,330.7 471.5,331.6 472.5,329.1 473.5,328.1 474.5,325.1 475.5,325.9 476.6,329.2 477.6,327.8 478.6,332.8 479.6,322.6 480.6,329.2 481.7,327.5 482.7,325.6 483.7,328.4 484.7,331.9 485.7,328.5 486.7,327.5 487.8,325.3 488.8,326.2 489.8,325.4 490.8,326.7 491.8,329.4 492.9,326.8 493.9,323.6 494.9,324.5 495.9,325.1 496.9,325.6 498.0,328.1 499.0,324.0 500.0,328.6 501.0,326.3 502.0,322.2 503.1,325.1 504.1,323.2 505.1,322.8 506.1,325.3 507.1,323.3 508.2,324.0 509.2,324.3 510.2,323.1 511.2,325.6 512.2,324.1 513.2,327.4 514.3,324.2 515.3,326.9 516.3,323.9 517.3,322.3 518.3,325.6 519.4,325.0 520.4,323.0 521.4,325.3 522.4,324.2 523.4,322.4 524.5,323.7 525.5,326.8 526.5,321.7 527.5,325.3 528.5,321.8 529.6,326.3 530.6,320.7 531.6,322.6 532.6,323.0 533.6,321.5 534.7,323.5 535.7,321.4 536.7,322.3 537.7,322.1 538.7,326.4 539.7,319.3 540.8,321.8 541.8,323.9 542.8,322.6 543.8,319.3 544.8,322.9 545.9,321.2 546.9,325.2 547.9,323.8" fill="none" stroke="#000" stroke-width="2.0" stroke-linejoin="round"/>
<polyline points="293.1,424.7 294.1,424.1 295.1,409.1 296.2,400.2 297.2,405.0 298.2,418.4 299.2,415.2 300.2,411.6 301.3,403.7 302.3,397.5 303.3,388.2 304.3,387.4 305.3,387.4 306.3,380.3 307.4,382.1 308.4,378.4 309.4,379.3 310.4,374.2 311.4,372.3 312.5,372.7 313.5,367.8 314.5,371.6 315.5,363.7 316.5,360.9 317.6,356.6 318.6,364.7 319.6,358.2 320.6,356.4 321.6,354.1 322.7,356.2 323.7,351.2 324.7,346.2 325.7,339.6 326.7,343.8 327.8,339.5 328.8,349.6 329.8,343.4 330.8,338.9 331.8,338.6 332.8,336.7 333.9,339.8 334.9,328.9 335.9,333.3 336.9,325.2 337.9,327.1 339.0,328.3 340.0,333.2 341.0,333.9 342.0,326.7 343.0,326.7 344.1,329.7 345.1,323.0 346.1,322.4 347.1,318.2 348.1,320.3 349.2,316.5 350.2,321.2 351.2,312.9 352.2,311.3 353.2,315.4 354.3,311.2 355.3,316.3 356.3,310.5 357.3,312.3 358.3,306.8 359.3,309.3 360.4,306.5 361.4,310.1 362.4,308.4 363.4,305.2 364.4,303.1 365.5,310.1 366.5,296.5 367.5,305.3 368.5,306.2 369.5,305.5 370.6,301.1 371.6,299.1 372.6,302.1 373.6,302.4 374.6,297.2 375.7,297.2 376.7,294.4 377.7,293.4 378.7,295.2 379.7,299.2 380.8,292.6 381.8,298.4 382.8,299.0 383.8,291.3 384.8,294.7 385.8,294.7 386.9,292.5 387.9,290.5 388.9,288.0 389.9,293.0 390.9,285.8 392.0,286.8 393.0,289.1 394.0,287.4 395.0,279.7 396.0,282.5 397.1,282.4 398.1,281.3 399.1,281.1 400.1,287.0 401.1,282.3 402.2,282.6 403.2,275.5 404.2,282.9 405.2,280.4 406.2,285.9 407.3,278.9 408.3,280.7 409.3,274.2 410.3,282.8 411.3,275.2 412.3,277.0 413.4,281.1 414.4,283.8 415.4,277.8 416.4,279.5 417.4,274.4 418.5,278.7 419.5,284.7 420.5,277.1 421.5,277.6 422.5,283.2 423.6,271.8 424.6,279.9 425.6,276.7 426.6,264.2 427.6,278.7 428.7,266.2 429.7,261.0 430.7,271.0 431.7,266.4 432.7,257.2 433.7,263.3 434.8,265.2 435.8,258.3 436.8,252.7 437.8,261.5 438.8,258.5 439.9,255.0 440.9,259.4 441.9,255.0 442.9,264.4 443.9,263.2 445.0,259.3 446.0,261.4 447.0,263.9 448.0,267.2 449.0,266.2 450.1,263.1 451.1,256.3 452.1,261.6 453.1,252.5 454.1,261.0 455.2,264.8 456.2,257.2 457.2,266.1 458.2,260.9 459.2,261.7 460.2,257.5 461.3,259.7 462.3,263.9 463.3,254.9 464.3,262.4 465.3,260.3 466.4,261.3 467.4,254.7 468.4,258.0 469.4,265.0 470.4,258.9 471.5,265.5 472.5,270.9 473.5,256.0 474.5,258.6 475.5,260.5 476.6,259.0 477.6,257.1 478.6,261.7 479.6,259.4 480.6,254.8 481.7,255.6 482.7,259.5 483.7,259.9 484.7,263.3 485.7,265.7 486.7,254.9 487.8,260.7 488.8,255.8 489.8,254.2 490.8,258.4 491.8,262.0 492.9,260.0 493.9,259.4 494.9,260.9 495.9,256.8 496.9,266.8 498.0,262.7 499.0,269.0 500.0,259.6 501.0,253.9 502.0,254.2 503.1,258.9 504.1,262.6 505.1,261.1 506.1,259.0 507.1,259.7 508.2,264.5 509.2,260.4 510.2,256.9 511.2,259.9 512.2,261.1 513.2,257.8 514.3,266.9 515.3,261.6 516.3,263.5 517.3,256.8 518.3,263.8 519.4,261.0 520.4,260.8 521.4,254.6 522.4,265.4 523.4,265.7 524.5,262.4 525.5,258.4 526.5,258.5 527.5,254.3 528.5,265.1 529.6,261.4 530.6,260.6 531.6,261.9 532.6,266.6 533.6,253.0 534.7,265.1 535.7,259.8 536.7,263.4 537.7,258.9 538.7,253.4 539.7,263.2 540.8,261.8 541.8,272.6 542.8,252.5 543.8,263.5 544.8,268.3 545.9,274.9 546.9,270.4 547.9,269.6" fill="none" stroke="#f00000" stroke-width="2.0" stroke-linejoin="round"/>
</g>
<rect x="293.1" y="237.8" width="254.8" height="186.9" fill="none" stroke="#000" stroke-width="1.9"/>
<text class="tk" x="293.2" y="440.5" text-anchor="middle">0</text>
<line x1="344.1" y1="424.7" x2="344.1" y2="420.5" stroke="#000" stroke-width="1.6"/><text class="tk" x="344.2" y="440.5" text-anchor="middle">50</text>
<line x1="395.0" y1="424.7" x2="395.0" y2="420.5" stroke="#000" stroke-width="1.6"/><text class="tk" x="395.1" y="440.5" text-anchor="middle">100</text>
<line x1="446.0" y1="424.7" x2="446.0" y2="420.5" stroke="#000" stroke-width="1.6"/><text class="tk" x="446.1" y="440.5" text-anchor="middle">150</text>
<line x1="496.9" y1="424.7" x2="496.9" y2="420.5" stroke="#000" stroke-width="1.6"/><text class="tk" x="497.0" y="440.5" text-anchor="middle">200</text>
<text class="tk" x="548.0" y="440.5" text-anchor="middle">250</text>
<text class="tk" x="288.9" y="428.9" text-anchor="end">0</text>
<line x1="293.1" y1="387.3" x2="297.3" y2="387.3" stroke="#000" stroke-width="1.6"/><text class="tk" x="288.9" y="391.5" text-anchor="end">20</text>
<line x1="293.1" y1="349.9" x2="297.3" y2="349.9" stroke="#000" stroke-width="1.6"/><text class="tk" x="288.9" y="354.1" text-anchor="end">40</text>
<line x1="293.1" y1="312.6" x2="297.3" y2="312.6" stroke="#000" stroke-width="1.6"/><text class="tk" x="288.9" y="316.8" text-anchor="end">60</text>
<line x1="293.1" y1="275.2" x2="297.3" y2="275.2" stroke="#000" stroke-width="1.6"/><text class="tk" x="288.9" y="279.4" text-anchor="end">80</text>
<text class="tk" x="288.9" y="242.0" text-anchor="end">100</text>
<text class="ax" x="384.5" y="454.3" textLength="72" lengthAdjust="spacingAndGlyphs">Generation</text>
<text class="ax" transform="translate(264.5,377.6) rotate(-90)" textLength="102.6" lengthAdjust="spacingAndGlyphs">Enhancement η</text>
<text class="pl" x="312.2" y="262.0" fill="#000">(d)</text>
<line x1="480.2" y1="370.3" x2="503.8" y2="370.3" stroke="#e01020" stroke-width="1.9"/><line x1="480.2" y1="380.5" x2="503.8" y2="380.5" stroke="#000" stroke-width="1.9"/><text class="lg" x="506.0" y="373.8">SBR</text><text class="lg" x="506.0" y="383.7">TPI</text>
</g>
<g id="chart-f">
<clipPath id="cpf"><rect x="293.1" y="465.9" width="254.79999999999995" height="187.80000000000007"/></clipPath>
<g clip-path="url(#cpf)"><polyline points="293.1,647.6 294.1,646.2 295.1,646.7 296.2,645.5 297.2,642.3 298.2,642.1 299.2,645.5 300.2,640.0 301.3,639.2 302.3,640.3 303.3,635.0 304.3,636.5 305.3,636.0 306.3,632.4 307.4,631.9 308.4,632.7 309.4,628.3 310.4,626.7 311.4,629.5 312.5,628.3 313.5,626.9 314.5,628.9 315.5,628.9 316.5,626.6 317.6,628.7 318.6,627.5 319.6,627.3 320.6,624.9 321.6,625.5 322.7,622.5 323.7,622.9 324.7,621.7 325.7,624.3 326.7,618.0 327.8,620.8 328.8,619.6 329.8,620.5 330.8,619.3 331.8,619.6 332.8,617.2 333.9,618.8 334.9,619.0 335.9,617.0 336.9,619.7 337.9,614.4 339.0,613.4 340.0,615.2 341.0,614.3 342.0,611.0 343.0,613.5 344.1,610.4 345.1,609.7 346.1,610.7 347.1,611.8 348.1,609.1 349.2,606.4 350.2,611.6 351.2,605.9 352.2,607.3 353.2,604.7 354.3,607.8 355.3,603.6 356.3,602.4 357.3,603.2 358.3,603.3 359.3,598.1 360.4,606.7 361.4,598.9 362.4,600.6 363.4,595.3 364.4,595.4 365.5,600.4 366.5,597.5 367.5,598.2 368.5,595.4 369.5,592.9 370.6,589.0 371.6,589.2 372.6,592.6 373.6,590.2 374.6,591.1 375.7,585.2 376.7,588.0 377.7,586.2 378.7,589.4 379.7,587.0 380.8,586.6 381.8,583.5 382.8,588.0 383.8,581.7 384.8,582.0 385.8,587.6 386.9,580.1 387.9,581.8 388.9,577.3 389.9,580.4 390.9,577.2 392.0,576.1 393.0,578.7 394.0,575.4 395.0,578.1 396.0,576.2 397.1,579.0 398.1,579.4 399.1,577.9 400.1,577.2 401.1,576.4 402.2,579.4 403.2,574.5 404.2,578.7 405.2,579.5 406.2,577.7 407.3,577.2 408.3,573.8 409.3,579.7 410.3,578.0 411.3,578.4 412.3,572.9 413.4,579.7 414.4,574.9 415.4,573.3 416.4,573.5 417.4,576.4 418.5,574.7 419.5,572.5 420.5,572.8 421.5,569.1 422.5,575.5 423.6,572.4 424.6,570.7 425.6,569.4 426.6,570.9 427.6,569.8 428.7,572.2 429.7,572.7 430.7,568.6 431.7,570.2 432.7,568.5 433.7,568.8 434.8,566.4 435.8,568.6 436.8,565.5 437.8,569.1 438.8,566.0 439.9,567.6 440.9,559.8 441.9,565.4 442.9,566.2 443.9,561.0 445.0,565.6 446.0,566.2 447.0,563.5 448.0,560.6 449.0,562.2 450.1,561.6 451.1,560.2 452.1,559.4 453.1,559.9 454.1,556.4 455.2,557.6 456.2,556.7 457.2,555.0 458.2,556.4 459.2,556.8 460.2,558.9 461.3,554.4 462.3,559.2 463.3,555.5 464.3,551.3 465.3,553.9 466.4,556.5 467.4,555.0 468.4,557.6 469.4,555.6 470.4,555.0 471.5,550.4 472.5,555.0 473.5,549.6 474.5,552.7 475.5,557.5 476.6,547.6 477.6,554.3 478.6,550.4 479.6,552.3 480.6,550.8 481.7,553.5 482.7,553.0 483.7,555.7 484.7,550.4 485.7,551.5 486.7,555.8 487.8,555.3 488.8,548.2 489.8,550.2 490.8,554.6 491.8,552.2 492.9,552.1 493.9,549.1 494.9,551.9 495.9,551.1 496.9,556.2 498.0,554.4 499.0,547.3 500.0,549.0 501.0,550.9 502.0,550.8 503.1,551.8 504.1,551.6 505.1,550.1 506.1,548.0 507.1,548.2 508.2,547.4 509.2,552.0 510.2,550.6 511.2,549.5 512.2,543.9 513.2,546.7 514.3,547.2 515.3,547.4 516.3,549.1 517.3,554.0 518.3,551.8 519.4,544.6 520.4,548.7 521.4,546.8 522.4,550.9 523.4,546.3 524.5,549.9 525.5,548.4 526.5,551.3 527.5,544.3 528.5,545.2 529.6,544.9 530.6,543.3 531.6,544.4 532.6,547.5 533.6,546.8 534.7,544.9 535.7,547.9 536.7,546.2 537.7,543.2 538.7,544.8 539.7,544.5 540.8,547.1 541.8,547.6 542.8,546.4 543.8,547.4 544.8,551.6 545.9,548.0 546.9,553.9 547.9,549.6" fill="none" stroke="#000" stroke-width="2.0" stroke-linejoin="round"/>
<polyline points="293.1,647.6 294.1,640.4 295.1,645.6 296.2,643.8 297.2,638.9 298.2,641.8 299.2,640.5 300.2,627.8 301.3,622.1 302.3,616.0 303.3,622.3 304.3,618.0 305.3,619.5 306.3,610.9 307.4,612.6 308.4,607.0 309.4,604.9 310.4,608.0 311.4,600.7 312.5,601.9 313.5,596.5 314.5,593.6 315.5,590.8 316.5,592.1 317.6,592.3 318.6,587.4 319.6,588.9 320.6,580.1 321.6,580.9 322.7,582.0 323.7,573.9 324.7,576.6 325.7,569.0 326.7,574.4 327.8,571.4 328.8,563.7 329.8,567.5 330.8,560.3 331.8,567.9 332.8,562.0 333.9,565.4 334.9,564.6 335.9,562.0 336.9,556.7 337.9,554.2 339.0,550.6 340.0,556.9 341.0,551.3 342.0,542.4 343.0,551.0 344.1,547.9 345.1,548.5 346.1,542.9 347.1,546.6 348.1,536.5 349.2,550.2 350.2,544.6 351.2,541.9 352.2,541.3 353.2,531.3 354.3,535.3 355.3,538.1 356.3,531.8 357.3,534.9 358.3,528.6 359.3,531.4 360.4,529.8 361.4,526.7 362.4,523.5 363.4,528.6 364.4,528.3 365.5,531.3 366.5,523.1 367.5,526.2 368.5,532.0 369.5,531.1 370.6,528.1 371.6,528.7 372.6,529.7 373.6,526.8 374.6,521.0 375.7,522.7 376.7,519.9 377.7,529.3 378.7,522.6 379.7,523.0 380.8,516.4 381.8,517.1 382.8,521.7 383.8,524.1 384.8,520.7 385.8,526.0 386.9,523.3 387.9,519.5 388.9,523.6 389.9,522.6 390.9,525.3 392.0,523.5 393.0,524.1 394.0,519.8 395.0,528.2 396.0,522.9 397.1,525.8 398.1,522.1 399.1,520.7 400.1,512.6 401.1,516.7 402.2,518.6 403.2,519.6 404.2,519.8 405.2,518.8 406.2,514.6 407.3,516.2 408.3,513.6 409.3,517.7 410.3,519.0 411.3,519.6 412.3,512.0 413.4,511.9 414.4,510.3 415.4,514.1 416.4,508.6 417.4,517.9 418.5,510.5 419.5,510.2 420.5,512.6 421.5,511.5 422.5,509.1 423.6,511.4 424.6,520.4 425.6,511.0 426.6,514.5 427.6,512.1 428.7,513.9 429.7,509.9 430.7,514.5 431.7,516.4 432.7,510.1 433.7,508.3 434.8,511.1 435.8,517.4 436.8,518.4 437.8,512.0 438.8,508.1 439.9,508.8 440.9,509.7 441.9,507.5 442.9,505.9 443.9,515.3 445.0,514.1 446.0,509.0 447.0,507.3 448.0,501.1 449.0,503.7 450.1,502.2 451.1,509.1 452.1,508.8 453.1,509.7 454.1,506.2 455.2,504.6 456.2,501.4 457.2,499.9 458.2,508.4 459.2,499.9 460.2,500.7 461.3,489.5 462.3,498.3 463.3,502.7 464.3,499.6 465.3,498.3 466.4,497.4 467.4,506.9 468.4,501.9 469.4,494.6 470.4,495.0 471.5,503.1 472.5,497.2 473.5,492.0 474.5,493.0 475.5,495.5 476.6,495.8 477.6,499.0 478.6,491.9 479.6,504.1 480.6,491.7 481.7,496.4 482.7,492.6 483.7,500.7 484.7,490.7 485.7,500.4 486.7,492.5 487.8,493.4 488.8,490.8 489.8,495.7 490.8,488.8 491.8,495.5 492.9,499.3 493.9,502.8 494.9,490.2 495.9,494.4 496.9,493.0 498.0,494.7 499.0,491.7 500.0,492.9 501.0,489.9 502.0,491.1 503.1,492.2 504.1,492.5 505.1,491.5 506.1,491.6 507.1,494.1 508.2,491.2 509.2,490.8 510.2,490.3 511.2,496.0 512.2,488.7 513.2,491.9 514.3,494.9 515.3,493.1 516.3,485.9 517.3,489.9 518.3,489.6 519.4,484.0 520.4,484.0 521.4,489.4 522.4,485.1 523.4,489.1 524.5,487.0 525.5,489.6 526.5,482.3 527.5,482.3 528.5,489.5 529.6,483.6 530.6,492.0 531.6,482.5 532.6,485.6 533.6,487.6 534.7,488.3 535.7,482.1 536.7,487.2 537.7,482.8 538.7,482.0 539.7,485.4 540.8,490.1 541.8,482.0 542.8,485.2 543.8,487.8 544.8,481.7 545.9,487.3 546.9,490.5 547.9,492.6" fill="none" stroke="#f00000" stroke-width="2.0" stroke-linejoin="round"/>
</g>
<rect x="293.1" y="465.9" width="254.8" height="187.3" fill="none" stroke="#000" stroke-width="1.9"/>
<text class="tk" x="293.2" y="669.0" text-anchor="middle">0</text>
<line x1="344.1" y1="653.2" x2="344.1" y2="649.0" stroke="#000" stroke-width="1.6"/><text class="tk" x="344.2" y="669.0" text-anchor="middle">50</text>
<line x1="395.0" y1="653.2" x2="395.0" y2="649.0" stroke="#000" stroke-width="1.6"/><text class="tk" x="395.1" y="669.0" text-anchor="middle">100</text>
<line x1="446.0" y1="653.2" x2="446.0" y2="649.0" stroke="#000" stroke-width="1.6"/><text class="tk" x="446.1" y="669.0" text-anchor="middle">150</text>
<line x1="496.9" y1="653.2" x2="496.9" y2="649.0" stroke="#000" stroke-width="1.6"/><text class="tk" x="497.0" y="669.0" text-anchor="middle">200</text>
<text class="tk" x="548.0" y="669.0" text-anchor="middle">250</text>
<text class="tk" x="288.9" y="657.4" text-anchor="end">0</text>
<line x1="293.1" y1="615.7" x2="297.3" y2="615.7" stroke="#000" stroke-width="1.6"/><text class="tk" x="288.9" y="619.9" text-anchor="end">20</text>
<line x1="293.1" y1="578.3" x2="297.3" y2="578.3" stroke="#000" stroke-width="1.6"/><text class="tk" x="288.9" y="582.5" text-anchor="end">40</text>
<line x1="293.1" y1="540.8" x2="297.3" y2="540.8" stroke="#000" stroke-width="1.6"/><text class="tk" x="288.9" y="545.0" text-anchor="end">60</text>
<line x1="293.1" y1="503.4" x2="297.3" y2="503.4" stroke="#000" stroke-width="1.6"/><text class="tk" x="288.9" y="507.6" text-anchor="end">80</text>
<text class="tk" x="288.9" y="470.1" text-anchor="end">100</text>
<text class="ax" x="384.5" y="682.8" textLength="72" lengthAdjust="spacingAndGlyphs">Generation</text>
<text class="ax" transform="translate(264.5,605.8) rotate(-90)" textLength="102.6" lengthAdjust="spacingAndGlyphs">Enhancement η</text>
<text class="pl" x="314.0" y="490.0" fill="#000">(f)</text>
<line x1="486.1" y1="601.8" x2="509.70000000000005" y2="601.8" stroke="#e01020" stroke-width="1.9"/><line x1="486.1" y1="612.0" x2="509.70000000000005" y2="612.0" stroke="#000" stroke-width="1.9"/><text class="lg" x="511.90000000000003" y="605.3">SBR</text><text class="lg" x="511.90000000000003" y="615.1999999999999">TPI</text>
</g>
</svg>
</body></html>
